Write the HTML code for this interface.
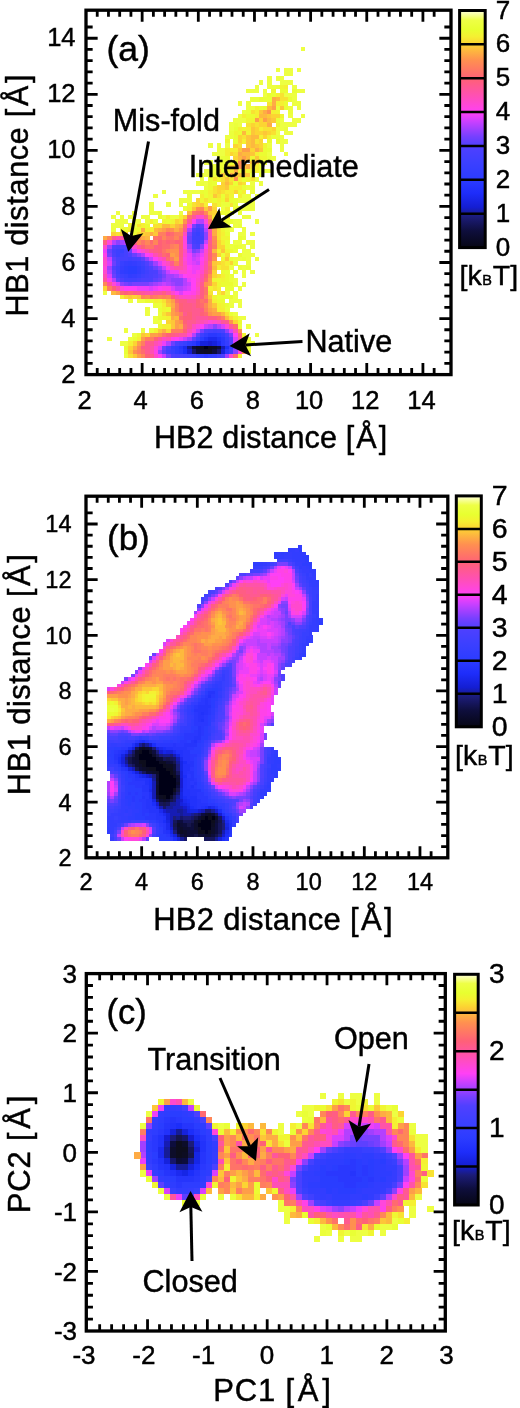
<!DOCTYPE html>
<html lang="en"><head><meta charset="utf-8"><title>Free energy landscapes</title>
<style>html,body{margin:0;padding:0;background:#fff}svg{display:block}text{font-family:'Liberation Sans', sans-serif;fill:#000;stroke:#000;stroke-width:0.45px}</style>
</head><body>
<svg width="520" height="1408" viewBox="0 0 520 1408">
<rect width="520" height="1408" fill="#fff"/>
<defs><linearGradient id="cbg" x1="0" y1="1" x2="0" y2="0">
<stop offset="0" stop-color="#060614"/>
<stop offset="0.07" stop-color="#0e0e3c"/>
<stop offset="0.13" stop-color="#1c1c78"/>
<stop offset="0.17" stop-color="#141ed2"/>
<stop offset="0.23" stop-color="#1e2dfa"/>
<stop offset="0.29" stop-color="#2c3cff"/>
<stop offset="0.36" stop-color="#3c40ff"/>
<stop offset="0.43" stop-color="#5040ff"/>
<stop offset="0.47" stop-color="#7840ff"/>
<stop offset="0.53" stop-color="#c840ff"/>
<stop offset="0.57" stop-color="#ff40f5"/>
<stop offset="0.64" stop-color="#ff50b4"/>
<stop offset="0.71" stop-color="#ff6078"/>
<stop offset="0.79" stop-color="#ff9050"/>
<stop offset="0.86" stop-color="#fcd432"/>
<stop offset="0.89" stop-color="#f5f032"/>
<stop offset="0.92" stop-color="#e8ff30"/>
<stop offset="0.96" stop-color="#eeff46"/>
<stop offset="1" stop-color="#ffffdc"/>
</linearGradient><filter id="bl" x="-5%" y="-5%" width="110%" height="110%"><feGaussianBlur stdDeviation="0.7"/></filter></defs>
<g id="panel-a">
<g shape-rendering="crispEdges" filter="url(#bl)">
<path fill="#060614" d="M203.9 345.2h4.5v4.5h-4.5z"/>
<path fill="#08081c" d="M199.7 345.2h4.5v4.5h-4.5zM208.1 345.2h4.5v4.5h-4.5z"/>
<path fill="#090924" d="M203.9 349.4h8.7v4.5h-8.7zM195.5 345.2h4.5v4.5h-4.5zM212.3 345.2h4.5v4.5h-4.5z"/>
<path fill="#0b0b2c" d="M199.7 349.4h4.5v4.5h-4.5z"/>
<path fill="#0c0c34" d="M195.5 349.4h4.5v4.5h-4.5z"/>
<path fill="#0e0e3c" d="M212.3 349.4h4.5v4.5h-4.5zM191.3 345.2h4.5v4.5h-4.5zM216.6 345.2h4.5v4.5h-4.5z"/>
<path fill="#181869" d="M191.3 349.4h4.5v4.5h-4.5zM216.6 349.4h4.5v4.5h-4.5z"/>
<path fill="#191d96" d="M187.1 345.2h4.5v4.5h-4.5z"/>
<path fill="#171db4" d="M220.8 345.2h4.5v4.5h-4.5z"/>
<path fill="#141ed2" d="M187.1 349.4h4.5v4.5h-4.5zM208.1 341h4.5v4.5h-4.5z"/>
<path fill="#1622dc" d="M220.8 349.4h4.5v4.5h-4.5zM199.7 341h8.7v4.5h-8.7zM212.3 341h4.5v4.5h-4.5z"/>
<path fill="#1c29f0" d="M182.9 345.2h4.5v4.5h-4.5zM216.6 341h4.5v4.5h-4.5zM208.1 336.8h8.7v4.5h-8.7z"/>
<path fill="#1e2dfa" d="M182.9 349.4h4.5v4.5h-4.5zM225 345.2h4.5v4.5h-4.5zM195.5 341h4.5v4.5h-4.5z"/>
<path fill="#2231fb" d="M203.9 336.8h4.5v4.5h-4.5zM216.6 336.8h4.5v4.5h-4.5z"/>
<path fill="#2534fc" d="M178.7 345.2h4.5v4.5h-4.5z"/>
<path fill="#2938fe" d="M203.9 353.6h4.5v4.5h-4.5zM178.7 349.4h4.5v4.5h-4.5zM225 349.4h4.5v4.5h-4.5zM191.3 341h4.5v4.5h-4.5zM220.8 341h4.5v4.5h-4.5zM220.8 336.8h4.5v4.5h-4.5zM208.1 332.6h8.7v4.5h-8.7z"/>
<path fill="#2c3cff" d="M199.7 336.8h4.5v4.5h-4.5zM216.6 332.6h4.5v4.5h-4.5zM128.1 269.5h8.7v4.5h-8.7zM128.1 265.3h8.7v4.5h-8.7z"/>
<path fill="#2f3dff" d="M199.7 353.6h4.5v4.5h-4.5zM208.1 353.6h4.5v4.5h-4.5zM174.4 349.4h4.5v4.5h-4.5zM174.4 345.2h4.5v4.5h-4.5zM187.1 341h4.5v4.5h-4.5zM123.9 269.5h4.5v4.5h-4.5zM123.9 265.3h4.5v4.5h-4.5z"/>
<path fill="#323eff" d="M195.5 353.6h4.5v4.5h-4.5zM212.3 353.6h4.5v4.5h-4.5zM203.9 332.6h4.5v4.5h-4.5zM128.1 273.7h4.5v4.5h-4.5zM119.7 269.5h4.5v4.5h-4.5zM136.5 269.5h4.5v4.5h-4.5zM136.5 265.3h4.5v4.5h-4.5zM128.1 261.1h4.5v4.5h-4.5z"/>
<path fill="#363eff" d="M170.2 345.2h4.5v4.5h-4.5zM229.2 345.2h4.5v4.5h-4.5zM225 341h4.5v4.5h-4.5zM220.8 332.6h4.5v4.5h-4.5zM132.3 273.7h4.5v4.5h-4.5zM119.7 265.3h4.5v4.5h-4.5zM123.9 261.1h4.5v4.5h-4.5zM132.3 261.1h4.5v4.5h-4.5z"/>
<path fill="#393fff" d="M170.2 349.4h4.5v4.5h-4.5zM182.9 341h4.5v4.5h-4.5zM225 336.8h4.5v4.5h-4.5zM123.9 273.7h4.5v4.5h-4.5zM136.5 273.7h4.5v4.5h-4.5zM140.8 269.5h4.5v4.5h-4.5zM140.8 265.3h4.5v4.5h-4.5zM119.7 261.1h4.5v4.5h-4.5zM136.5 261.1h4.5v4.5h-4.5zM119.7 248.5h4.5v4.5h-4.5zM195.5 231.6h4.5v4.5h-4.5z"/>
<path fill="#3c40ff" d="M191.3 353.6h4.5v4.5h-4.5zM216.6 353.6h4.5v4.5h-4.5zM229.2 349.4h4.5v4.5h-4.5zM199.7 332.6h4.5v4.5h-4.5zM119.7 273.7h4.5v4.5h-4.5zM115.5 252.7h4.5v4.5h-4.5zM115.5 248.5h4.5v4.5h-4.5zM191.3 235.8h8.7v4.5h-8.7z"/>
<path fill="#4040ff" d="M187.1 353.6h4.5v4.5h-4.5zM166 349.4h4.5v4.5h-4.5zM178.7 341h4.5v4.5h-4.5zM195.5 336.8h4.5v4.5h-4.5zM212.3 328.3h4.5v4.5h-4.5zM123.9 277.9h12.9v4.5h-12.9zM140.8 273.7h4.5v4.5h-4.5zM115.5 269.5h4.5v4.5h-4.5zM145 269.5h4.5v4.5h-4.5zM115.5 265.3h4.5v4.5h-4.5zM140.8 261.1h4.5v4.5h-4.5zM128.1 256.9h4.5v4.5h-4.5zM119.7 252.7h4.5v4.5h-4.5zM195.5 240.1h4.5v4.5h-4.5zM199.7 235.8h4.5v4.5h-4.5zM191.3 231.6h4.5v4.5h-4.5zM195.5 227.4h4.5v4.5h-4.5z"/>
<path fill="#4440ff" d="M182.9 353.6h4.5v4.5h-4.5zM225 332.6h4.5v4.5h-4.5zM208.1 328.3h4.5v4.5h-4.5zM216.6 328.3h4.5v4.5h-4.5zM136.5 277.9h4.5v4.5h-4.5zM145 273.7h4.5v4.5h-4.5zM145 265.3h4.5v4.5h-4.5zM119.7 256.9h8.7v4.5h-8.7zM132.3 256.9h4.5v4.5h-4.5zM123.9 252.7h4.5v4.5h-4.5zM111.3 248.5h4.5v4.5h-4.5zM123.9 248.5h4.5v4.5h-4.5zM191.3 240.1h4.5v4.5h-4.5zM199.7 231.6h4.5v4.5h-4.5z"/>
<path fill="#4840ff" d="M174.4 353.6h8.7v4.5h-8.7zM166 345.2h4.5v4.5h-4.5zM174.4 341h4.5v4.5h-4.5zM115.5 273.7h4.5v4.5h-4.5zM149.2 273.7h4.5v4.5h-4.5zM149.2 269.5h4.5v4.5h-4.5zM115.5 261.1h4.5v4.5h-4.5zM115.5 256.9h4.5v4.5h-4.5zM136.5 256.9h4.5v4.5h-4.5zM111.3 252.7h4.5v4.5h-4.5zM115.5 244.3h8.7v4.5h-8.7zM195.5 244.3h4.5v4.5h-4.5z"/>
<path fill="#4c40ff" d="M220.8 353.6h4.5v4.5h-4.5zM203.9 328.3h4.5v4.5h-4.5zM220.8 328.3h4.5v4.5h-4.5zM119.7 277.9h4.5v4.5h-4.5zM140.8 277.9h12.9v4.5h-12.9zM153.4 269.5h4.5v4.5h-4.5zM199.7 240.1h4.5v4.5h-4.5zM191.3 227.4h4.5v4.5h-4.5zM199.7 227.4h4.5v4.5h-4.5z"/>
<path fill="#5040ff" d="M170.2 353.6h4.5v4.5h-4.5zM229.2 341h4.5v4.5h-4.5zM229.2 336.8h4.5v4.5h-4.5zM153.4 273.7h4.5v4.5h-4.5zM111.3 265.3h4.5v4.5h-4.5zM149.2 265.3h4.5v4.5h-4.5zM145 261.1h4.5v4.5h-4.5zM128.1 252.7h4.5v4.5h-4.5zM111.3 244.3h4.5v4.5h-4.5zM123.9 244.3h4.5v4.5h-4.5zM191.3 244.3h4.5v4.5h-4.5zM195.5 223.2h4.5v4.5h-4.5z"/>
<path fill="#5d40ff" d="M161.8 349.4h4.5v4.5h-4.5zM191.3 336.8h4.5v4.5h-4.5zM195.5 332.6h4.5v4.5h-4.5zM115.5 277.9h4.5v4.5h-4.5zM153.4 277.9h4.5v4.5h-4.5zM157.6 273.7h4.5v4.5h-4.5zM111.3 269.5h4.5v4.5h-4.5zM111.3 256.9h4.5v4.5h-4.5zM140.8 256.9h4.5v4.5h-4.5zM199.7 223.2h4.5v4.5h-4.5z"/>
<path fill="#6b40ff" d="M161.8 345.2h4.5v4.5h-4.5zM233.4 345.2h4.5v4.5h-4.5zM170.2 341h4.5v4.5h-4.5zM128.1 282.1h4.5v4.5h-4.5zM157.6 277.9h4.5v4.5h-4.5zM111.3 273.7h4.5v4.5h-4.5zM157.6 269.5h4.5v4.5h-4.5zM153.4 265.3h4.5v4.5h-4.5zM111.3 261.1h4.5v4.5h-4.5zM149.2 261.1h4.5v4.5h-4.5zM132.3 252.7h4.5v4.5h-4.5zM107.1 248.5h4.5v4.5h-4.5zM128.1 248.5h4.5v4.5h-4.5zM187.1 240.1h4.5v4.5h-4.5zM187.1 235.8h4.5v4.5h-4.5z"/>
<path fill="#7840ff" d="M166 353.6h4.5v4.5h-4.5zM229.2 332.6h4.5v4.5h-4.5zM199.7 328.3h4.5v4.5h-4.5zM123.9 282.1h4.5v4.5h-4.5zM132.3 282.1h17.1v4.5h-17.1zM161.8 273.7h4.5v4.5h-4.5zM107.1 252.7h4.5v4.5h-4.5zM191.3 248.5h4.5v4.5h-4.5zM187.1 231.6h4.5v4.5h-4.5zM191.3 223.2h4.5v4.5h-4.5z"/>
<path fill="#8c40ff" d="M233.4 349.4h4.5v4.5h-4.5zM225 328.3h4.5v4.5h-4.5zM212.3 324.1h4.5v4.5h-4.5zM119.7 282.1h4.5v4.5h-4.5zM149.2 282.1h4.5v4.5h-4.5zM174.4 282.1h8.7v4.5h-8.7zM161.8 277.9h4.5v4.5h-4.5zM170.2 277.9h12.9v4.5h-12.9zM161.8 269.5h4.5v4.5h-4.5zM157.6 265.3h4.5v4.5h-4.5zM145 256.9h4.5v4.5h-4.5zM136.5 252.7h4.5v4.5h-4.5zM195.5 248.5h4.5v4.5h-4.5zM199.7 244.3h4.5v4.5h-4.5zM115.5 240.1h4.5v4.5h-4.5zM203.9 235.8h4.5v4.5h-4.5zM203.9 231.6h4.5v4.5h-4.5z"/>
<path fill="#a040ff" d="M225 353.6h4.5v4.5h-4.5zM157.6 349.4h4.5v4.5h-4.5zM187.1 336.8h4.5v4.5h-4.5zM153.4 282.1h4.5v4.5h-4.5zM170.2 282.1h4.5v4.5h-4.5zM166 277.9h4.5v4.5h-4.5zM166 273.7h8.7v4.5h-8.7zM107.1 265.3h4.5v4.5h-4.5zM153.4 261.1h4.5v4.5h-4.5zM107.1 244.3h4.5v4.5h-4.5zM128.1 244.3h4.5v4.5h-4.5zM187.1 244.3h4.5v4.5h-4.5zM119.7 240.1h4.5v4.5h-4.5z"/>
<path fill="#b440ff" d="M166 341h4.5v4.5h-4.5zM191.3 332.6h4.5v4.5h-4.5zM208.1 324.1h4.5v4.5h-4.5zM216.6 324.1h4.5v4.5h-4.5zM174.4 286.3h8.7v4.5h-8.7zM157.6 282.1h4.5v4.5h-4.5zM166 282.1h4.5v4.5h-4.5zM182.9 282.1h4.5v4.5h-4.5zM111.3 277.9h4.5v4.5h-4.5zM182.9 277.9h4.5v4.5h-4.5zM174.4 273.7h4.5v4.5h-4.5zM107.1 269.5h4.5v4.5h-4.5zM140.8 252.7h4.5v4.5h-4.5zM191.3 252.7h4.5v4.5h-4.5zM111.3 240.1h4.5v4.5h-4.5zM123.9 240.1h4.5v4.5h-4.5zM187.1 227.4h4.5v4.5h-4.5zM203.9 227.4h4.5v4.5h-4.5zM195.5 219h8.7v4.5h-8.7z"/>
<path fill="#c840ff" d="M161.8 353.6h4.5v4.5h-4.5zM182.9 336.8h4.5v4.5h-4.5zM195.5 328.3h4.5v4.5h-4.5zM203.9 324.1h4.5v4.5h-4.5zM182.9 286.3h4.5v4.5h-4.5zM161.8 282.1h4.5v4.5h-4.5zM187.1 282.1h4.5v4.5h-4.5zM166 269.5h4.5v4.5h-4.5zM161.8 265.3h4.5v4.5h-4.5zM195.5 261.1h4.5v4.5h-4.5zM107.1 256.9h4.5v4.5h-4.5zM149.2 256.9h4.5v4.5h-4.5zM191.3 256.9h4.5v4.5h-4.5zM195.5 252.7h4.5v4.5h-4.5zM187.1 248.5h4.5v4.5h-4.5zM199.7 248.5h4.5v4.5h-4.5zM203.9 240.1h4.5v4.5h-4.5z"/>
<path fill="#da40fc" d="M157.6 345.2h4.5v4.5h-4.5zM233.4 341h4.5v4.5h-4.5zM233.4 336.8h4.5v4.5h-4.5zM229.2 328.3h4.5v4.5h-4.5zM220.8 324.1h4.5v4.5h-4.5zM178.7 290.5h4.5v4.5h-4.5zM149.2 286.3h4.5v4.5h-4.5zM170.2 286.3h4.5v4.5h-4.5zM187.1 286.3h4.5v4.5h-4.5zM115.5 282.1h4.5v4.5h-4.5zM107.1 273.7h4.5v4.5h-4.5zM178.7 273.7h4.5v4.5h-4.5zM107.1 261.1h4.5v4.5h-4.5zM157.6 261.1h4.5v4.5h-4.5zM191.3 261.1h4.5v4.5h-4.5zM195.5 256.9h4.5v4.5h-4.5zM132.3 248.5h4.5v4.5h-4.5zM203.9 223.2h4.5v4.5h-4.5z"/>
<path fill="#ed40f8" d="M161.8 341h4.5v4.5h-4.5zM178.7 336.8h4.5v4.5h-4.5zM136.5 286.3h12.9v4.5h-12.9zM153.4 286.3h4.5v4.5h-4.5zM187.1 277.9h4.5v4.5h-4.5zM170.2 269.5h8.7v4.5h-8.7zM191.3 269.5h4.5v4.5h-4.5zM191.3 265.3h8.7v4.5h-8.7zM187.1 261.1h4.5v4.5h-4.5zM187.1 256.9h4.5v4.5h-4.5zM187.1 252.7h4.5v4.5h-4.5zM199.7 252.7h4.5v4.5h-4.5zM102.8 248.5h4.5v4.5h-4.5z"/>
<path fill="#ff40f5" d="M157.6 353.6h4.5v4.5h-4.5zM174.4 336.8h4.5v4.5h-4.5zM233.4 332.6h4.5v4.5h-4.5zM199.7 324.1h4.5v4.5h-4.5zM174.4 290.5h4.5v4.5h-4.5zM182.9 290.5h8.7v4.5h-8.7zM123.9 286.3h12.9v4.5h-12.9zM157.6 286.3h4.5v4.5h-4.5zM191.3 286.3h4.5v4.5h-4.5zM191.3 282.1h4.5v4.5h-4.5zM191.3 277.9h4.5v4.5h-4.5zM182.9 273.7h4.5v4.5h-4.5zM187.1 265.3h4.5v4.5h-4.5zM153.4 256.9h4.5v4.5h-4.5zM199.7 256.9h4.5v4.5h-4.5zM145 252.7h4.5v4.5h-4.5zM203.9 244.3h4.5v4.5h-4.5zM191.3 219h4.5v4.5h-4.5z"/>
<path fill="#ff43e8" d="M153.4 349.4h4.5v4.5h-4.5zM237.6 345.2h4.5v4.5h-4.5zM170.2 336.8h4.5v4.5h-4.5zM191.3 290.5h4.5v4.5h-4.5zM161.8 286.3h8.7v4.5h-8.7zM107.1 277.9h4.5v4.5h-4.5zM187.1 273.7h8.7v4.5h-8.7zM187.1 269.5h4.5v4.5h-4.5zM195.5 269.5h4.5v4.5h-4.5zM166 265.3h4.5v4.5h-4.5zM199.7 261.1h4.5v4.5h-4.5zM102.8 252.7h4.5v4.5h-4.5zM149.2 252.7h4.5v4.5h-4.5zM136.5 248.5h4.5v4.5h-4.5zM182.9 235.8h4.5v4.5h-4.5zM187.1 223.2h4.5v4.5h-4.5z"/>
<path fill="#ff46db" d="M237.6 349.4h4.5v4.5h-4.5zM153.4 345.2h4.5v4.5h-4.5zM187.1 332.6h4.5v4.5h-4.5zM191.3 328.3h4.5v4.5h-4.5zM195.5 324.1h4.5v4.5h-4.5zM225 324.1h4.5v4.5h-4.5zM208.1 319.9h4.5v4.5h-4.5zM119.7 286.3h4.5v4.5h-4.5zM111.3 282.1h4.5v4.5h-4.5zM195.5 273.7h4.5v4.5h-4.5zM102.8 265.3h4.5v4.5h-4.5zM199.7 265.3h4.5v4.5h-4.5zM161.8 261.1h4.5v4.5h-4.5zM182.9 256.9h4.5v4.5h-4.5zM182.9 244.3h4.5v4.5h-4.5zM107.1 240.1h4.5v4.5h-4.5zM128.1 240.1h4.5v4.5h-4.5zM182.9 240.1h4.5v4.5h-4.5zM203.9 219h4.5v4.5h-4.5z"/>
<path fill="#ff4ace" d="M153.4 353.6h4.5v4.5h-4.5zM229.2 353.6h4.5v4.5h-4.5zM157.6 341h4.5v4.5h-4.5zM212.3 319.9h4.5v4.5h-4.5zM182.9 294.7h8.7v4.5h-8.7zM170.2 290.5h4.5v4.5h-4.5zM195.5 286.3h4.5v4.5h-4.5zM195.5 277.9h4.5v4.5h-4.5zM102.8 269.5h4.5v4.5h-4.5zM178.7 269.5h8.7v4.5h-8.7zM199.7 269.5h4.5v4.5h-4.5zM102.8 261.1h4.5v4.5h-4.5zM182.9 261.1h4.5v4.5h-4.5zM102.8 256.9h4.5v4.5h-4.5zM157.6 256.9h4.5v4.5h-4.5zM182.9 252.7h4.5v4.5h-4.5zM140.8 248.5h4.5v4.5h-4.5zM203.9 248.5h4.5v4.5h-4.5zM102.8 244.3h4.5v4.5h-4.5zM132.3 244.3h4.5v4.5h-4.5zM195.5 214.8h8.7v4.5h-8.7z"/>
<path fill="#ff4dc1" d="M161.8 336.8h4.5v4.5h-4.5zM191.3 324.1h4.5v4.5h-4.5zM203.9 319.9h4.5v4.5h-4.5zM216.6 319.9h4.5v4.5h-4.5zM178.7 294.7h4.5v4.5h-4.5zM191.3 294.7h4.5v4.5h-4.5zM195.5 290.5h4.5v4.5h-4.5zM195.5 282.1h4.5v4.5h-4.5zM170.2 265.3h4.5v4.5h-4.5zM182.9 265.3h4.5v4.5h-4.5zM166 261.1h4.5v4.5h-4.5zM203.9 256.9h4.5v4.5h-4.5zM203.9 252.7h4.5v4.5h-4.5zM182.9 248.5h4.5v4.5h-4.5zM182.9 231.6h4.5v4.5h-4.5z"/>
<path fill="#ff50b4" d="M149.2 349.4h4.5v4.5h-4.5zM153.4 341h4.5v4.5h-4.5zM166 336.8h4.5v4.5h-4.5zM187.1 328.3h4.5v4.5h-4.5zM233.4 328.3h4.5v4.5h-4.5zM199.7 319.9h4.5v4.5h-4.5zM149.2 290.5h4.5v4.5h-4.5zM102.8 273.7h4.5v4.5h-4.5zM199.7 273.7h4.5v4.5h-4.5zM203.9 261.1h4.5v4.5h-4.5zM161.8 256.9h4.5v4.5h-4.5zM153.4 252.7h4.5v4.5h-4.5zM145 248.5h4.5v4.5h-4.5zM115.5 235.8h4.5v4.5h-4.5zM208.1 235.8h4.5v4.5h-4.5z"/>
<path fill="#ff53a8" d="M149.2 345.2h4.5v4.5h-4.5zM178.7 332.6h8.7v4.5h-8.7zM195.5 319.9h4.5v4.5h-4.5zM174.4 294.7h4.5v4.5h-4.5zM145 290.5h4.5v4.5h-4.5zM166 290.5h4.5v4.5h-4.5zM115.5 286.3h4.5v4.5h-4.5zM199.7 277.9h4.5v4.5h-4.5zM174.4 265.3h8.7v4.5h-8.7zM203.9 265.3h4.5v4.5h-4.5zM119.7 235.8h4.5v4.5h-4.5zM208.1 231.6h4.5v4.5h-4.5zM208.1 227.4h4.5v4.5h-4.5z"/>
<path fill="#ff569c" d="M157.6 336.8h4.5v4.5h-4.5zM229.2 324.1h4.5v4.5h-4.5zM220.8 319.9h4.5v4.5h-4.5zM195.5 315.7h12.9v4.5h-12.9zM187.1 298.9h8.7v4.5h-8.7zM195.5 294.7h4.5v4.5h-4.5zM140.8 290.5h4.5v4.5h-4.5zM153.4 290.5h8.7v4.5h-8.7zM107.1 282.1h4.5v4.5h-4.5zM102.8 277.9h4.5v4.5h-4.5zM136.5 244.3h4.5v4.5h-4.5zM123.9 235.8h4.5v4.5h-4.5zM208.1 223.2h4.5v4.5h-4.5zM187.1 219h4.5v4.5h-4.5zM191.3 214.8h4.5v4.5h-4.5z"/>
<path fill="#ff5a90" d="M149.2 353.6h4.5v4.5h-4.5zM145 349.4h4.5v4.5h-4.5zM145 345.2h4.5v4.5h-4.5zM145 341h8.7v4.5h-8.7zM237.6 341h4.5v4.5h-4.5zM237.6 336.8h4.5v4.5h-4.5zM174.4 332.6h4.5v4.5h-4.5zM187.1 324.1h4.5v4.5h-4.5zM187.1 319.9h8.7v4.5h-8.7zM225 319.9h4.5v4.5h-4.5zM191.3 315.7h4.5v4.5h-4.5zM182.9 311.5h4.5v4.5h-4.5zM191.3 311.5h8.7v4.5h-8.7zM191.3 307.3h8.7v4.5h-8.7zM191.3 303.1h4.5v4.5h-4.5zM136.5 290.5h4.5v4.5h-4.5zM199.7 282.1h4.5v4.5h-4.5zM203.9 269.5h4.5v4.5h-4.5zM170.2 261.1h4.5v4.5h-4.5zM178.7 261.1h4.5v4.5h-4.5zM178.7 256.9h4.5v4.5h-4.5zM157.6 252.7h4.5v4.5h-4.5zM149.2 248.5h4.5v4.5h-4.5zM208.1 240.1h4.5v4.5h-4.5zM111.3 235.8h4.5v4.5h-4.5zM182.9 227.4h4.5v4.5h-4.5zM203.9 214.8h4.5v4.5h-4.5z"/>
<path fill="#ff5d84" d="M140.8 345.2h4.5v4.5h-4.5zM170.2 332.6h4.5v4.5h-4.5zM208.1 315.7h8.7v4.5h-8.7zM182.9 307.3h8.7v4.5h-8.7zM199.7 307.3h4.5v4.5h-4.5zM182.9 303.1h8.7v4.5h-8.7zM178.7 298.9h8.7v4.5h-8.7zM199.7 294.7h4.5v4.5h-4.5zM132.3 290.5h4.5v4.5h-4.5zM161.8 290.5h4.5v4.5h-4.5zM199.7 290.5h4.5v4.5h-4.5zM199.7 286.3h4.5v4.5h-4.5zM178.7 252.7h4.5v4.5h-4.5zM153.4 248.5h4.5v4.5h-4.5zM178.7 248.5h4.5v4.5h-4.5zM208.1 248.5h4.5v4.5h-4.5zM153.4 244.3h4.5v4.5h-4.5zM208.1 244.3h4.5v4.5h-4.5zM102.8 240.1h4.5v4.5h-4.5zM132.3 240.1h4.5v4.5h-4.5z"/>
<path fill="#ff6078" d="M145 353.6h4.5v4.5h-4.5zM153.4 336.8h4.5v4.5h-4.5zM166 332.6h4.5v4.5h-4.5zM237.6 332.6h4.5v4.5h-4.5zM182.9 328.3h4.5v4.5h-4.5zM182.9 319.9h4.5v4.5h-4.5zM182.9 315.7h8.7v4.5h-8.7zM187.1 311.5h4.5v4.5h-4.5zM199.7 311.5h4.5v4.5h-4.5zM178.7 307.3h4.5v4.5h-4.5zM178.7 303.1h4.5v4.5h-4.5zM195.5 303.1h4.5v4.5h-4.5zM195.5 298.9h4.5v4.5h-4.5zM170.2 294.7h4.5v4.5h-4.5zM123.9 290.5h4.5v4.5h-4.5zM111.3 286.3h4.5v4.5h-4.5zM203.9 273.7h4.5v4.5h-4.5zM208.1 256.9h4.5v4.5h-4.5zM166 252.7h4.5v4.5h-4.5zM208.1 252.7h4.5v4.5h-4.5zM157.6 248.5h4.5v4.5h-4.5zM140.8 244.3h4.5v4.5h-4.5zM157.6 244.3h4.5v4.5h-4.5zM178.7 244.3h4.5v4.5h-4.5zM157.6 240.1h4.5v4.5h-4.5zM166 240.1h4.5v4.5h-4.5zM174.4 240.1h8.7v4.5h-8.7zM166 231.6h4.5v4.5h-4.5zM199.7 210.6h4.5v4.5h-4.5z"/>
<path fill="#ff6a70" d="M233.4 353.6h4.5v4.5h-4.5zM140.8 349.4h4.5v4.5h-4.5zM182.9 324.1h4.5v4.5h-4.5zM233.4 324.1h4.5v4.5h-4.5zM178.7 315.7h4.5v4.5h-4.5zM216.6 315.7h4.5v4.5h-4.5zM203.9 311.5h4.5v4.5h-4.5zM199.7 303.1h4.5v4.5h-4.5zM174.4 298.9h4.5v4.5h-4.5zM203.9 298.9h4.5v4.5h-4.5zM119.7 290.5h4.5v4.5h-4.5zM128.1 290.5h4.5v4.5h-4.5zM203.9 277.9h4.5v4.5h-4.5zM208.1 265.3h4.5v4.5h-4.5zM166 256.9h4.5v4.5h-4.5zM161.8 252.7h4.5v4.5h-4.5zM161.8 244.3h8.7v4.5h-8.7zM149.2 240.1h4.5v4.5h-4.5zM161.8 240.1h4.5v4.5h-4.5zM170.2 240.1h4.5v4.5h-4.5zM157.6 235.8h4.5v4.5h-4.5zM178.7 235.8h4.5v4.5h-4.5zM170.2 231.6h4.5v4.5h-4.5zM182.9 223.2h4.5v4.5h-4.5zM195.5 210.6h4.5v4.5h-4.5z"/>
<path fill="#ff7368" d="M241.8 345.2h4.5v4.5h-4.5zM161.8 332.6h4.5v4.5h-4.5zM199.7 298.9h4.5v4.5h-4.5zM149.2 294.7h4.5v4.5h-4.5zM203.9 290.5h4.5v4.5h-4.5zM203.9 286.3h4.5v4.5h-4.5zM208.1 269.5h4.5v4.5h-4.5zM208.1 261.1h4.5v4.5h-4.5zM161.8 248.5h4.5v4.5h-4.5zM145 244.3h8.7v4.5h-8.7zM140.8 240.1h4.5v4.5h-4.5zM153.4 235.8h4.5v4.5h-4.5zM166 235.8h8.7v4.5h-8.7zM208.1 219h4.5v4.5h-4.5zM187.1 214.8h4.5v4.5h-4.5zM191.3 210.6h4.5v4.5h-4.5z"/>
<path fill="#ff7d60" d="M136.5 349.4h4.5v4.5h-4.5zM140.8 341h4.5v4.5h-4.5zM145 336.8h8.7v4.5h-8.7zM170.2 328.3h12.9v4.5h-12.9zM220.8 315.7h4.5v4.5h-4.5zM178.7 311.5h4.5v4.5h-4.5zM174.4 307.3h4.5v4.5h-4.5zM203.9 307.3h4.5v4.5h-4.5zM174.4 303.1h4.5v4.5h-4.5zM153.4 294.7h4.5v4.5h-4.5zM161.8 294.7h4.5v4.5h-4.5zM107.1 286.3h4.5v4.5h-4.5zM174.4 261.1h4.5v4.5h-4.5zM170.2 256.9h4.5v4.5h-4.5zM170.2 244.3h4.5v4.5h-4.5zM212.3 244.3h4.5v4.5h-4.5zM128.1 235.8h4.5v4.5h-4.5zM157.6 231.6h8.7v4.5h-8.7zM174.4 231.6h8.7v4.5h-8.7z"/>
<path fill="#ff8658" d="M140.8 353.6h4.5v4.5h-4.5zM241.8 349.4h4.5v4.5h-4.5zM136.5 345.2h4.5v4.5h-4.5zM203.9 303.1h4.5v4.5h-4.5zM140.8 294.7h4.5v4.5h-4.5zM157.6 294.7h4.5v4.5h-4.5zM166 294.7h4.5v4.5h-4.5zM203.9 294.7h4.5v4.5h-4.5zM102.8 282.1h4.5v4.5h-4.5zM212.3 252.7h4.5v4.5h-4.5zM166 248.5h4.5v4.5h-4.5zM174.4 244.3h4.5v4.5h-4.5zM136.5 240.1h4.5v4.5h-4.5zM145 240.1h4.5v4.5h-4.5zM153.4 240.1h4.5v4.5h-4.5zM212.3 240.1h4.5v4.5h-4.5zM107.1 235.8h4.5v4.5h-4.5zM132.3 235.8h4.5v4.5h-4.5zM161.8 235.8h4.5v4.5h-4.5zM174.4 235.8h4.5v4.5h-4.5zM166 227.4h4.5v4.5h-4.5zM203.9 210.6h4.5v4.5h-4.5zM199.7 206.4h4.5v4.5h-4.5zM237.6 160.2h4.5v4.5h-4.5z"/>
<path fill="#ff9050" d="M132.3 349.4h4.5v4.5h-4.5zM157.6 332.6h4.5v4.5h-4.5zM237.6 328.3h4.5v4.5h-4.5zM178.7 319.9h4.5v4.5h-4.5zM229.2 319.9h4.5v4.5h-4.5zM174.4 311.5h4.5v4.5h-4.5zM208.1 311.5h4.5v4.5h-4.5zM145 294.7h4.5v4.5h-4.5zM203.9 282.1h4.5v4.5h-4.5zM208.1 273.7h4.5v4.5h-4.5zM212.3 256.9h4.5v4.5h-4.5zM174.4 252.7h4.5v4.5h-4.5zM170.2 248.5h8.7v4.5h-8.7zM136.5 235.8h4.5v4.5h-4.5zM212.3 235.8h4.5v4.5h-4.5zM170.2 227.4h4.5v4.5h-4.5zM178.7 227.4h4.5v4.5h-4.5zM182.9 219h4.5v4.5h-4.5zM195.5 206.4h4.5v4.5h-4.5zM233.4 177h4.5v4.5h-4.5zM237.6 164.4h4.5v4.5h-4.5zM267.1 109.7h4.5v4.5h-4.5z"/>
<path fill="#fe9e4a" d="M136.5 353.6h4.5v4.5h-4.5zM136.5 341h4.5v4.5h-4.5zM140.8 336.8h4.5v4.5h-4.5zM149.2 332.6h8.7v4.5h-8.7zM174.4 324.1h4.5v4.5h-4.5zM174.4 319.9h4.5v4.5h-4.5zM170.2 311.5h4.5v4.5h-4.5zM212.3 311.5h8.7v4.5h-8.7zM170.2 307.3h4.5v4.5h-4.5zM208.1 307.3h4.5v4.5h-4.5zM170.2 298.9h4.5v4.5h-4.5zM115.5 290.5h4.5v4.5h-4.5zM208.1 282.1h4.5v4.5h-4.5zM208.1 277.9h4.5v4.5h-4.5zM174.4 256.9h4.5v4.5h-4.5zM170.2 252.7h4.5v4.5h-4.5zM161.8 227.4h4.5v4.5h-4.5zM208.1 214.8h4.5v4.5h-4.5zM208.1 206.4h4.5v4.5h-4.5zM241.8 160.2h4.5v4.5h-4.5zM241.8 156h4.5v4.5h-4.5zM241.8 147.6h8.7v4.5h-8.7zM254.5 118.1h4.5v4.5h-4.5zM262.9 118.1h4.5v4.5h-4.5zM271.3 105.5h4.5v4.5h-4.5z"/>
<path fill="#feab44" d="M132.3 345.2h4.5v4.5h-4.5zM161.8 328.3h4.5v4.5h-4.5zM178.7 324.1h4.5v4.5h-4.5zM170.2 315.7h4.5v4.5h-4.5zM212.3 307.3h4.5v4.5h-4.5zM170.2 303.1h4.5v4.5h-4.5zM208.1 303.1h4.5v4.5h-4.5zM208.1 298.9h4.5v4.5h-4.5zM102.8 235.8h4.5v4.5h-4.5zM140.8 235.8h4.5v4.5h-4.5zM149.2 231.6h4.5v4.5h-4.5zM212.3 231.6h4.5v4.5h-4.5zM140.8 227.4h4.5v4.5h-4.5zM157.6 227.4h4.5v4.5h-4.5zM174.4 227.4h4.5v4.5h-4.5zM212.3 227.4h4.5v4.5h-4.5zM178.7 223.2h4.5v4.5h-4.5zM229.2 172.8h4.5v4.5h-4.5zM233.4 168.6h4.5v4.5h-4.5zM246 164.4h4.5v4.5h-4.5zM237.6 151.8h4.5v4.5h-4.5zM254.5 147.6h4.5v4.5h-4.5zM267.1 122.3h4.5v4.5h-4.5zM262.9 109.7h4.5v4.5h-4.5zM271.3 101.3h4.5v4.5h-4.5zM271.3 97.1h4.5v4.5h-4.5z"/>
<path fill="#fdb93e" d="M241.8 341h4.5v4.5h-4.5zM174.4 315.7h4.5v4.5h-4.5zM225 315.7h4.5v4.5h-4.5zM220.8 311.5h4.5v4.5h-4.5zM166 298.9h4.5v4.5h-4.5zM111.3 290.5h4.5v4.5h-4.5zM212.3 265.3h4.5v4.5h-4.5zM212.3 248.5h4.5v4.5h-4.5zM145 235.8h4.5v4.5h-4.5zM153.4 227.4h4.5v4.5h-4.5zM161.8 223.2h8.7v4.5h-8.7zM174.4 223.2h4.5v4.5h-4.5zM187.1 210.6h4.5v4.5h-4.5zM225 181.2h4.5v4.5h-4.5zM241.8 172.8h4.5v4.5h-4.5zM254.5 160.2h4.5v4.5h-4.5zM237.6 156h4.5v4.5h-4.5zM246 156h4.5v4.5h-4.5zM241.8 151.8h8.7v4.5h-8.7zM250.2 143.3h4.5v4.5h-4.5zM250.2 139.1h4.5v4.5h-4.5zM250.2 134.9h8.7v4.5h-8.7zM241.8 130.7h4.5v4.5h-4.5zM267.1 118.1h4.5v4.5h-4.5zM258.7 113.9h8.7v4.5h-8.7zM267.1 105.5h4.5v4.5h-4.5zM275.5 97.1h4.5v4.5h-4.5z"/>
<path fill="#fdc638" d="M132.3 353.6h4.5v4.5h-4.5zM128.1 349.4h4.5v4.5h-4.5zM241.8 336.8h4.5v4.5h-4.5zM140.8 332.6h4.5v4.5h-4.5zM157.6 328.3h4.5v4.5h-4.5zM170.2 324.1h4.5v4.5h-4.5zM170.2 319.9h4.5v4.5h-4.5zM166 311.5h4.5v4.5h-4.5zM166 303.1h4.5v4.5h-4.5zM212.3 303.1h4.5v4.5h-4.5zM128.1 294.7h4.5v4.5h-4.5zM136.5 294.7h4.5v4.5h-4.5zM208.1 294.7h4.5v4.5h-4.5zM212.3 261.1h4.5v4.5h-4.5zM225 256.9h4.5v4.5h-4.5zM220.8 248.5h4.5v4.5h-4.5zM119.7 231.6h4.5v4.5h-4.5zM145 231.6h4.5v4.5h-4.5zM153.4 231.6h4.5v4.5h-4.5zM208.1 210.6h4.5v4.5h-4.5zM191.3 206.4h4.5v4.5h-4.5zM203.9 206.4h4.5v4.5h-4.5zM199.7 202.2h4.5v4.5h-4.5zM212.3 193.8h4.5v4.5h-4.5zM225 185.4h4.5v4.5h-4.5zM225 177h4.5v4.5h-4.5zM220.8 172.8h4.5v4.5h-4.5zM233.4 172.8h8.7v4.5h-8.7zM246 172.8h4.5v4.5h-4.5zM233.4 164.4h4.5v4.5h-4.5zM241.8 164.4h4.5v4.5h-4.5zM250.2 160.2h4.5v4.5h-4.5zM254.5 156h4.5v4.5h-4.5zM250.2 151.8h4.5v4.5h-4.5zM237.6 147.6h4.5v4.5h-4.5zM258.7 147.6h4.5v4.5h-4.5zM246 143.3h4.5v4.5h-4.5zM254.5 143.3h4.5v4.5h-4.5zM246 139.1h4.5v4.5h-4.5zM246 134.9h4.5v4.5h-4.5zM250.2 130.7h4.5v4.5h-4.5zM262.9 130.7h4.5v4.5h-4.5zM250.2 126.5h4.5v4.5h-4.5zM271.3 118.1h4.5v4.5h-4.5zM267.1 113.9h4.5v4.5h-4.5zM258.7 109.7h4.5v4.5h-4.5zM279.7 105.5h4.5v4.5h-4.5z"/>
<path fill="#fcd432" d="M128.1 345.2h4.5v4.5h-4.5zM132.3 341h4.5v4.5h-4.5zM145 332.6h4.5v4.5h-4.5zM166 328.3h4.5v4.5h-4.5zM166 319.9h4.5v4.5h-4.5zM233.4 319.9h4.5v4.5h-4.5zM123.9 294.7h4.5v4.5h-4.5zM132.3 294.7h4.5v4.5h-4.5zM220.8 290.5h4.5v4.5h-4.5zM102.8 286.3h4.5v4.5h-4.5zM212.3 282.1h4.5v4.5h-4.5zM212.3 273.7h4.5v4.5h-4.5zM212.3 269.5h4.5v4.5h-4.5zM216.6 261.1h4.5v4.5h-4.5zM229.2 261.1h4.5v4.5h-4.5zM216.6 252.7h4.5v4.5h-4.5zM216.6 244.3h8.7v4.5h-8.7zM216.6 240.1h4.5v4.5h-4.5zM111.3 231.6h4.5v4.5h-4.5zM123.9 231.6h4.5v4.5h-4.5zM140.8 231.6h4.5v4.5h-4.5zM170.2 223.2h4.5v4.5h-4.5zM212.3 223.2h4.5v4.5h-4.5zM174.4 219h4.5v4.5h-4.5zM182.9 214.8h4.5v4.5h-4.5zM212.3 210.6h4.5v4.5h-4.5zM212.3 206.4h4.5v4.5h-4.5zM195.5 202.2h4.5v4.5h-4.5zM195.5 198h4.5v4.5h-4.5zM225 198h4.5v4.5h-4.5zM216.6 189.6h4.5v4.5h-4.5zM233.4 189.6h4.5v4.5h-4.5zM216.6 185.4h8.7v4.5h-8.7zM220.8 181.2h4.5v4.5h-4.5zM229.2 181.2h4.5v4.5h-4.5zM237.6 181.2h4.5v4.5h-4.5zM216.6 168.6h4.5v4.5h-4.5zM241.8 168.6h4.5v4.5h-4.5zM229.2 164.4h4.5v4.5h-4.5zM233.4 156h4.5v4.5h-4.5zM229.2 151.8h4.5v4.5h-4.5zM250.2 147.6h4.5v4.5h-4.5zM233.4 143.3h4.5v4.5h-4.5zM258.7 143.3h4.5v4.5h-4.5zM237.6 139.1h4.5v4.5h-4.5zM258.7 139.1h4.5v4.5h-4.5zM237.6 134.9h4.5v4.5h-4.5zM262.9 134.9h4.5v4.5h-4.5zM254.5 130.7h8.7v4.5h-8.7zM267.1 130.7h4.5v4.5h-4.5zM254.5 126.5h4.5v4.5h-4.5zM271.3 126.5h4.5v4.5h-4.5zM250.2 122.3h4.5v4.5h-4.5zM258.7 122.3h8.7v4.5h-8.7zM258.7 118.1h4.5v4.5h-4.5zM271.3 113.9h8.7v4.5h-8.7z"/>
<path fill="#f8e232" d="M128.1 353.6h4.5v4.5h-4.5zM229.2 315.7h4.5v4.5h-4.5zM161.8 311.5h4.5v4.5h-4.5zM225 311.5h4.5v4.5h-4.5zM161.8 298.9h4.5v4.5h-4.5zM208.1 290.5h4.5v4.5h-4.5zM212.3 286.3h4.5v4.5h-4.5zM216.6 273.7h4.5v4.5h-4.5zM220.8 265.3h8.7v4.5h-8.7zM220.8 261.1h4.5v4.5h-4.5zM225 252.7h4.5v4.5h-4.5zM216.6 235.8h4.5v4.5h-4.5zM115.5 231.6h4.5v4.5h-4.5zM136.5 231.6h4.5v4.5h-4.5zM216.6 231.6h4.5v4.5h-4.5zM216.6 227.4h4.5v4.5h-4.5zM136.5 223.2h4.5v4.5h-4.5zM153.4 223.2h8.7v4.5h-8.7zM178.7 219h4.5v4.5h-4.5zM212.3 219h4.5v4.5h-4.5zM212.3 214.8h4.5v4.5h-4.5zM191.3 202.2h4.5v4.5h-4.5zM212.3 202.2h4.5v4.5h-4.5zM229.2 202.2h4.5v4.5h-4.5zM203.9 198h4.5v4.5h-4.5zM216.6 193.8h4.5v4.5h-4.5zM225 193.8h4.5v4.5h-4.5zM212.3 189.6h4.5v4.5h-4.5zM220.8 189.6h4.5v4.5h-4.5zM212.3 185.4h4.5v4.5h-4.5zM241.8 181.2h4.5v4.5h-4.5zM212.3 177h4.5v4.5h-4.5zM220.8 177h4.5v4.5h-4.5zM229.2 177h4.5v4.5h-4.5zM250.2 177h4.5v4.5h-4.5zM229.2 168.6h4.5v4.5h-4.5zM225 164.4h4.5v4.5h-4.5zM250.2 164.4h4.5v4.5h-4.5zM233.4 151.8h4.5v4.5h-4.5zM237.6 143.3h4.5v4.5h-4.5zM254.5 139.1h4.5v4.5h-4.5zM241.8 134.9h4.5v4.5h-4.5zM271.3 130.7h4.5v4.5h-4.5zM262.9 126.5h8.7v4.5h-8.7zM246 122.3h4.5v4.5h-4.5zM254.5 122.3h4.5v4.5h-4.5zM250.2 109.7h4.5v4.5h-4.5zM267.1 101.3h4.5v4.5h-4.5zM279.7 97.1h8.7v4.5h-8.7zM279.7 92.9h4.5v4.5h-4.5z"/>
<path fill="#f5f032" d="M237.6 353.6h4.5v4.5h-4.5zM128.1 341h4.5v4.5h-4.5zM136.5 336.8h4.5v4.5h-4.5zM153.4 328.3h4.5v4.5h-4.5zM161.8 324.1h8.7v4.5h-8.7zM166 315.7h4.5v4.5h-4.5zM216.6 307.3h8.7v4.5h-8.7zM161.8 303.1h4.5v4.5h-4.5zM216.6 303.1h4.5v4.5h-4.5zM153.4 298.9h4.5v4.5h-4.5zM212.3 298.9h4.5v4.5h-4.5zM119.7 294.7h4.5v4.5h-4.5zM216.6 290.5h4.5v4.5h-4.5zM208.1 286.3h4.5v4.5h-4.5zM216.6 286.3h4.5v4.5h-4.5zM220.8 273.7h4.5v4.5h-4.5zM216.6 265.3h4.5v4.5h-4.5zM225 261.1h4.5v4.5h-4.5zM216.6 248.5h4.5v4.5h-4.5zM220.8 240.1h4.5v4.5h-4.5zM220.8 231.6h4.5v4.5h-4.5zM128.1 227.4h4.5v4.5h-4.5zM145 227.4h8.7v4.5h-8.7zM140.8 223.2h4.5v4.5h-4.5zM149.2 219h4.5v4.5h-4.5zM220.8 219h4.5v4.5h-4.5zM166 214.8h4.5v4.5h-4.5zM178.7 214.8h4.5v4.5h-4.5zM225 214.8h4.5v4.5h-4.5zM216.6 210.6h4.5v4.5h-4.5zM225 206.4h4.5v4.5h-4.5zM203.9 202.2h4.5v4.5h-4.5zM216.6 198h4.5v4.5h-4.5zM199.7 193.8h4.5v4.5h-4.5zM237.6 193.8h4.5v4.5h-4.5zM208.1 189.6h4.5v4.5h-4.5zM225 189.6h8.7v4.5h-8.7zM241.8 189.6h4.5v4.5h-4.5zM233.4 185.4h8.7v4.5h-8.7zM237.6 177h4.5v4.5h-4.5zM225 168.6h4.5v4.5h-4.5zM254.5 168.6h4.5v4.5h-4.5zM254.5 164.4h4.5v4.5h-4.5zM233.4 160.2h4.5v4.5h-4.5zM225 151.8h4.5v4.5h-4.5zM254.5 151.8h4.5v4.5h-4.5zM225 147.6h12.9v4.5h-12.9zM241.8 139.1h4.5v4.5h-4.5zM258.7 134.9h4.5v4.5h-4.5zM267.1 134.9h4.5v4.5h-4.5zM237.6 126.5h4.5v4.5h-4.5zM246 126.5h4.5v4.5h-4.5zM258.7 126.5h4.5v4.5h-4.5zM241.8 113.9h4.5v4.5h-4.5zM254.5 113.9h4.5v4.5h-4.5zM254.5 109.7h4.5v4.5h-4.5zM271.3 109.7h4.5v4.5h-4.5zM275.5 101.3h8.7v4.5h-8.7zM275.5 92.9h4.5v4.5h-4.5zM283.9 84.5h4.5v4.5h-4.5z"/>
<path fill="#f0f631" d="M241.8 332.6h4.5v4.5h-4.5zM161.8 315.7h4.5v4.5h-4.5zM233.4 315.7h4.5v4.5h-4.5zM161.8 307.3h4.5v4.5h-4.5zM220.8 303.1h4.5v4.5h-4.5zM157.6 298.9h4.5v4.5h-4.5zM212.3 294.7h4.5v4.5h-4.5zM216.6 282.1h4.5v4.5h-4.5zM212.3 277.9h4.5v4.5h-4.5zM220.8 277.9h4.5v4.5h-4.5zM220.8 256.9h4.5v4.5h-4.5zM225 248.5h4.5v4.5h-4.5zM220.8 235.8h8.7v4.5h-8.7zM119.7 227.4h4.5v4.5h-4.5zM220.8 227.4h4.5v4.5h-4.5zM128.1 223.2h4.5v4.5h-4.5zM161.8 219h4.5v4.5h-4.5zM170.2 219h4.5v4.5h-4.5zM216.6 214.8h4.5v4.5h-4.5zM187.1 206.4h4.5v4.5h-4.5zM216.6 202.2h4.5v4.5h-4.5zM199.7 198h4.5v4.5h-4.5zM208.1 198h4.5v4.5h-4.5zM208.1 193.8h4.5v4.5h-4.5zM229.2 193.8h4.5v4.5h-4.5zM229.2 185.4h4.5v4.5h-4.5zM216.6 177h4.5v4.5h-4.5zM246 177h4.5v4.5h-4.5zM237.6 168.6h4.5v4.5h-4.5zM246 168.6h8.7v4.5h-8.7zM250.2 156h4.5v4.5h-4.5zM258.7 156h8.7v4.5h-8.7zM262.9 143.3h4.5v4.5h-4.5zM225 139.1h4.5v4.5h-4.5zM233.4 130.7h4.5v4.5h-4.5zM246 130.7h4.5v4.5h-4.5zM241.8 126.5h4.5v4.5h-4.5zM275.5 122.3h4.5v4.5h-4.5zM246 118.1h8.7v4.5h-8.7zM279.7 113.9h4.5v4.5h-4.5zM275.5 109.7h4.5v4.5h-4.5zM254.5 105.5h4.5v4.5h-4.5zM271.3 88.7h4.5v4.5h-4.5zM279.7 84.5h4.5v4.5h-4.5z"/>
<path fill="#ebfc30" d="M123.9 345.2h4.5v4.5h-4.5zM136.5 332.6h4.5v4.5h-4.5zM157.6 324.1h4.5v4.5h-4.5zM237.6 319.9h4.5v4.5h-4.5zM157.6 315.7h4.5v4.5h-4.5zM166 307.3h4.5v4.5h-4.5zM145 298.9h8.7v4.5h-8.7zM216.6 298.9h8.7v4.5h-8.7zM229.2 294.7h4.5v4.5h-4.5zM220.8 282.1h12.9v4.5h-12.9zM216.6 277.9h4.5v4.5h-4.5zM225 277.9h4.5v4.5h-4.5zM225 273.7h4.5v4.5h-4.5zM220.8 269.5h4.5v4.5h-4.5zM237.6 252.7h4.5v4.5h-4.5zM229.2 248.5h4.5v4.5h-4.5zM132.3 231.6h4.5v4.5h-4.5zM123.9 227.4h4.5v4.5h-4.5zM132.3 227.4h8.7v4.5h-8.7zM145 223.2h4.5v4.5h-4.5zM166 219h4.5v4.5h-4.5zM225 219h4.5v4.5h-4.5zM157.6 214.8h4.5v4.5h-4.5zM220.8 210.6h8.7v4.5h-8.7zM233.4 206.4h4.5v4.5h-4.5zM187.1 202.2h4.5v4.5h-4.5zM212.3 198h4.5v4.5h-4.5zM220.8 198h4.5v4.5h-4.5zM229.2 198h4.5v4.5h-4.5zM199.7 189.6h4.5v4.5h-4.5zM237.6 189.6h4.5v4.5h-4.5zM208.1 185.4h4.5v4.5h-4.5zM208.1 181.2h4.5v4.5h-4.5zM208.1 177h4.5v4.5h-4.5zM225 172.8h4.5v4.5h-4.5zM220.8 164.4h4.5v4.5h-4.5zM216.6 160.2h4.5v4.5h-4.5zM225 160.2h8.7v4.5h-8.7zM225 156h4.5v4.5h-4.5zM258.7 151.8h8.7v4.5h-8.7zM262.9 147.6h4.5v4.5h-4.5zM267.1 139.1h4.5v4.5h-4.5zM275.5 139.1h4.5v4.5h-4.5zM233.4 134.9h4.5v4.5h-4.5zM237.6 130.7h4.5v4.5h-4.5zM246 113.9h8.7v4.5h-8.7zM262.9 105.5h4.5v4.5h-4.5zM283.9 101.3h4.5v4.5h-4.5zM258.7 97.1h4.5v4.5h-4.5zM267.1 92.9h4.5v4.5h-4.5zM279.7 88.7h8.7v4.5h-8.7z"/>
<path fill="#e9ff34" d="M123.9 349.4h4.5v4.5h-4.5zM132.3 336.8h4.5v4.5h-4.5zM229.2 311.5h4.5v4.5h-4.5zM157.6 307.3h4.5v4.5h-4.5zM225 303.1h4.5v4.5h-4.5zM216.6 294.7h12.9v4.5h-12.9zM225 286.3h8.7v4.5h-8.7zM225 269.5h4.5v4.5h-4.5zM225 244.3h4.5v4.5h-4.5zM233.4 244.3h4.5v4.5h-4.5zM225 240.1h4.5v4.5h-4.5zM237.6 235.8h4.5v4.5h-4.5zM225 231.6h4.5v4.5h-4.5zM229.2 219h4.5v4.5h-4.5zM233.4 202.2h4.5v4.5h-4.5zM233.4 198h4.5v4.5h-4.5zM203.9 193.8h4.5v4.5h-4.5zM220.8 193.8h4.5v4.5h-4.5zM203.9 189.6h4.5v4.5h-4.5zM241.8 185.4h4.5v4.5h-4.5zM212.3 181.2h4.5v4.5h-4.5zM233.4 181.2h4.5v4.5h-4.5zM241.8 177h4.5v4.5h-4.5zM216.6 172.8h4.5v4.5h-4.5zM220.8 168.6h4.5v4.5h-4.5zM216.6 164.4h4.5v4.5h-4.5zM258.7 164.4h4.5v4.5h-4.5zM220.8 160.2h4.5v4.5h-4.5zM220.8 156h4.5v4.5h-4.5zM267.1 147.6h4.5v4.5h-4.5zM233.4 139.1h4.5v4.5h-4.5zM233.4 126.5h4.5v4.5h-4.5zM275.5 118.1h4.5v4.5h-4.5zM258.7 105.5h4.5v4.5h-4.5zM283.9 105.5h4.5v4.5h-4.5zM262.9 97.1h8.7v4.5h-8.7zM288.2 97.1h4.5v4.5h-4.5zM271.3 92.9h4.5v4.5h-4.5zM292.4 88.7h4.5v4.5h-4.5z"/>
<path fill="#ebff3b" d="M246 349.4h4.5v4.5h-4.5zM149.2 328.3h4.5v4.5h-4.5zM237.6 324.1h4.5v4.5h-4.5zM157.6 311.5h4.5v4.5h-4.5zM225 307.3h4.5v4.5h-4.5zM153.4 303.1h8.7v4.5h-8.7zM229.2 277.9h4.5v4.5h-4.5zM229.2 273.7h4.5v4.5h-4.5zM233.4 269.5h4.5v4.5h-4.5zM237.6 265.3h4.5v4.5h-4.5zM246 265.3h4.5v4.5h-4.5zM233.4 261.1h4.5v4.5h-4.5zM229.2 256.9h4.5v4.5h-4.5zM241.8 256.9h4.5v4.5h-4.5zM220.8 252.7h4.5v4.5h-4.5zM233.4 248.5h4.5v4.5h-4.5zM229.2 244.3h4.5v4.5h-4.5zM237.6 244.3h4.5v4.5h-4.5zM241.8 235.8h4.5v4.5h-4.5zM225 227.4h4.5v4.5h-4.5zM237.6 223.2h4.5v4.5h-4.5zM153.4 219h4.5v4.5h-4.5zM157.6 210.6h4.5v4.5h-4.5zM229.2 210.6h4.5v4.5h-4.5zM237.6 210.6h4.5v4.5h-4.5zM182.9 206.4h4.5v4.5h-4.5zM220.8 202.2h8.7v4.5h-8.7zM203.9 185.4h4.5v4.5h-4.5zM250.2 185.4h4.5v4.5h-4.5zM199.7 181.2h4.5v4.5h-4.5zM212.3 172.8h4.5v4.5h-4.5zM258.7 172.8h4.5v4.5h-4.5zM212.3 168.6h4.5v4.5h-4.5zM258.7 168.6h4.5v4.5h-4.5zM267.1 156h4.5v4.5h-4.5zM229.2 134.9h4.5v4.5h-4.5zM271.3 134.9h8.7v4.5h-8.7zM229.2 130.7h4.5v4.5h-4.5zM283.9 126.5h4.5v4.5h-4.5zM233.4 122.3h4.5v4.5h-4.5zM246 109.7h4.5v4.5h-4.5zM288.2 109.7h4.5v4.5h-4.5zM275.5 105.5h4.5v4.5h-4.5zM250.2 97.1h8.7v4.5h-8.7zM275.5 84.5h4.5v4.5h-4.5z"/>
<path fill="#edff42" d="M123.9 353.6h4.5v4.5h-4.5zM246 345.2h4.5v4.5h-4.5zM119.7 341h8.7v4.5h-8.7zM246 341h8.7v4.5h-8.7zM107.1 336.8h4.5v4.5h-4.5zM128.1 336.8h4.5v4.5h-4.5zM246 336.8h4.5v4.5h-4.5zM132.3 332.6h4.5v4.5h-4.5zM254.5 332.6h4.5v4.5h-4.5zM123.9 328.3h4.5v4.5h-4.5zM140.8 328.3h4.5v4.5h-4.5zM246 324.1h4.5v4.5h-4.5zM153.4 319.9h8.7v4.5h-8.7zM153.4 315.7h4.5v4.5h-4.5zM237.6 315.7h8.7v4.5h-8.7zM145 311.5h4.5v4.5h-4.5zM233.4 311.5h4.5v4.5h-4.5zM145 307.3h4.5v4.5h-4.5zM229.2 303.1h4.5v4.5h-4.5zM237.6 303.1h4.5v4.5h-4.5zM128.1 298.9h4.5v4.5h-4.5zM136.5 298.9h8.7v4.5h-8.7zM229.2 298.9h12.9v4.5h-12.9zM233.4 294.7h4.5v4.5h-4.5zM102.8 290.5h4.5v4.5h-4.5zM225 290.5h4.5v4.5h-4.5zM233.4 290.5h4.5v4.5h-4.5zM237.6 286.3h4.5v4.5h-4.5zM233.4 282.1h4.5v4.5h-4.5zM241.8 282.1h4.5v4.5h-4.5zM233.4 277.9h4.5v4.5h-4.5zM241.8 273.7h4.5v4.5h-4.5zM241.8 269.5h4.5v4.5h-4.5zM250.2 269.5h4.5v4.5h-4.5zM229.2 265.3h4.5v4.5h-4.5zM241.8 265.3h4.5v4.5h-4.5zM246 261.1h4.5v4.5h-4.5zM233.4 256.9h8.7v4.5h-8.7zM246 256.9h4.5v4.5h-4.5zM254.5 256.9h4.5v4.5h-4.5zM241.8 252.7h12.9v4.5h-12.9zM241.8 248.5h8.7v4.5h-8.7zM241.8 244.3h4.5v4.5h-4.5zM250.2 244.3h4.5v4.5h-4.5zM233.4 240.1h8.7v4.5h-8.7zM246 240.1h8.7v4.5h-8.7zM237.6 231.6h8.7v4.5h-8.7zM250.2 231.6h4.5v4.5h-4.5zM111.3 227.4h4.5v4.5h-4.5zM229.2 227.4h4.5v4.5h-4.5zM241.8 227.4h4.5v4.5h-4.5zM111.3 223.2h12.9v4.5h-12.9zM132.3 223.2h4.5v4.5h-4.5zM216.6 223.2h12.9v4.5h-12.9zM233.4 223.2h4.5v4.5h-4.5zM115.5 219h12.9v4.5h-12.9zM132.3 219h8.7v4.5h-8.7zM145 219h4.5v4.5h-4.5zM233.4 219h8.7v4.5h-8.7zM254.5 219h4.5v4.5h-4.5zM111.3 214.8h4.5v4.5h-4.5zM119.7 214.8h4.5v4.5h-4.5zM128.1 214.8h4.5v4.5h-4.5zM140.8 214.8h8.7v4.5h-8.7zM161.8 214.8h4.5v4.5h-4.5zM170.2 214.8h8.7v4.5h-8.7zM241.8 214.8h8.7v4.5h-8.7zM115.5 210.6h4.5v4.5h-4.5zM132.3 210.6h4.5v4.5h-4.5zM149.2 210.6h8.7v4.5h-8.7zM178.7 210.6h4.5v4.5h-4.5zM149.2 206.4h4.5v4.5h-4.5zM220.8 206.4h4.5v4.5h-4.5zM237.6 206.4h17.1v4.5h-17.1zM149.2 202.2h4.5v4.5h-4.5zM166 202.2h4.5v4.5h-4.5zM178.7 202.2h4.5v4.5h-4.5zM246 202.2h8.7v4.5h-8.7zM178.7 198h12.9v4.5h-12.9zM237.6 198h17.1v4.5h-17.1zM153.4 193.8h4.5v4.5h-4.5zM187.1 193.8h4.5v4.5h-4.5zM241.8 193.8h8.7v4.5h-8.7zM254.5 193.8h4.5v4.5h-4.5zM161.8 189.6h4.5v4.5h-4.5zM182.9 189.6h17.1v4.5h-17.1zM250.2 189.6h4.5v4.5h-4.5zM246 185.4h4.5v4.5h-4.5zM195.5 181.2h4.5v4.5h-4.5zM203.9 181.2h4.5v4.5h-4.5zM250.2 181.2h4.5v4.5h-4.5zM258.7 181.2h4.5v4.5h-4.5zM199.7 177h4.5v4.5h-4.5zM254.5 177h4.5v4.5h-4.5zM195.5 172.8h17.1v4.5h-17.1zM250.2 172.8h4.5v4.5h-4.5zM203.9 168.6h8.7v4.5h-8.7zM262.9 168.6h8.7v4.5h-8.7zM212.3 164.4h4.5v4.5h-4.5zM203.9 160.2h8.7v4.5h-8.7zM258.7 160.2h8.7v4.5h-8.7zM216.6 156h4.5v4.5h-4.5zM271.3 156h4.5v4.5h-4.5zM212.3 151.8h12.9v4.5h-12.9zM267.1 151.8h4.5v4.5h-4.5zM283.9 151.8h4.5v4.5h-4.5zM216.6 147.6h8.7v4.5h-8.7zM279.7 147.6h4.5v4.5h-4.5zM208.1 143.3h4.5v4.5h-4.5zM216.6 143.3h4.5v4.5h-4.5zM225 143.3h4.5v4.5h-4.5zM267.1 143.3h4.5v4.5h-4.5zM279.7 143.3h4.5v4.5h-4.5zM279.7 139.1h8.7v4.5h-8.7zM225 134.9h4.5v4.5h-4.5zM279.7 134.9h4.5v4.5h-4.5zM275.5 130.7h4.5v4.5h-4.5zM283.9 130.7h8.7v4.5h-8.7zM229.2 126.5h4.5v4.5h-4.5zM275.5 126.5h8.7v4.5h-8.7zM229.2 122.3h4.5v4.5h-4.5zM237.6 122.3h4.5v4.5h-4.5zM279.7 122.3h17.1v4.5h-17.1zM233.4 118.1h12.9v4.5h-12.9zM279.7 118.1h4.5v4.5h-4.5zM292.4 118.1h8.7v4.5h-8.7zM237.6 113.9h4.5v4.5h-4.5zM288.2 113.9h4.5v4.5h-4.5zM300.8 113.9h4.5v4.5h-4.5zM241.8 109.7h4.5v4.5h-4.5zM246 105.5h8.7v4.5h-8.7zM288.2 105.5h4.5v4.5h-4.5zM296.6 105.5h4.5v4.5h-4.5zM237.6 101.3h4.5v4.5h-4.5zM246 101.3h4.5v4.5h-4.5zM292.4 101.3h8.7v4.5h-8.7zM292.4 97.1h4.5v4.5h-4.5zM262.9 92.9h4.5v4.5h-4.5zM283.9 92.9h12.9v4.5h-12.9zM246 88.7h12.9v4.5h-12.9zM262.9 88.7h4.5v4.5h-4.5zM296.6 88.7h8.7v4.5h-8.7zM254.5 84.5h4.5v4.5h-4.5zM267.1 84.5h8.7v4.5h-8.7zM292.4 84.5h4.5v4.5h-4.5zM258.7 80.3h4.5v4.5h-4.5zM267.1 80.3h4.5v4.5h-4.5zM279.7 80.3h12.9v4.5h-12.9zM267.1 76.1h4.5v4.5h-4.5zM275.5 76.1h8.7v4.5h-8.7zM283.9 71.9h8.7v4.5h-8.7zM275.5 67.7h4.5v4.5h-4.5zM283.9 67.7h8.7v4.5h-8.7zM296.6 67.7h4.5v4.5h-4.5zM300.8 46.6h4.5v4.5h-4.5z"/>
</g>
<rect x="86" y="10.2" width="365" height="364.4" fill="none" stroke="#000" stroke-width="3.3"/>
<path d="M97.23 374.6v-6.65M97.23 10.2v6.65M108.46 374.6v-6.65M108.46 10.2v6.65M119.69 374.6v-6.65M119.69 10.2v6.65M130.92 374.6v-6.65M130.92 10.2v6.65M142.15 374.6v-11.65M142.15 10.2v11.65M153.38 374.6v-6.65M153.38 10.2v6.65M164.62 374.6v-6.65M164.62 10.2v6.65M175.85 374.6v-6.65M175.85 10.2v6.65M187.08 374.6v-6.65M187.08 10.2v6.65M198.31 374.6v-11.65M198.31 10.2v11.65M209.54 374.6v-6.65M209.54 10.2v6.65M220.77 374.6v-6.65M220.77 10.2v6.65M232 374.6v-6.65M232 10.2v6.65M243.23 374.6v-6.65M243.23 10.2v6.65M254.46 374.6v-11.65M254.46 10.2v11.65M265.69 374.6v-6.65M265.69 10.2v6.65M276.92 374.6v-6.65M276.92 10.2v6.65M288.15 374.6v-6.65M288.15 10.2v6.65M299.38 374.6v-6.65M299.38 10.2v6.65M310.62 374.6v-11.65M310.62 10.2v11.65M321.85 374.6v-6.65M321.85 10.2v6.65M333.08 374.6v-6.65M333.08 10.2v6.65M344.31 374.6v-6.65M344.31 10.2v6.65M355.54 374.6v-6.65M355.54 10.2v6.65M366.77 374.6v-11.65M366.77 10.2v11.65M378 374.6v-6.65M378 10.2v6.65M389.23 374.6v-6.65M389.23 10.2v6.65M400.46 374.6v-6.65M400.46 10.2v6.65M411.69 374.6v-6.65M411.69 10.2v6.65M422.92 374.6v-11.65M422.92 10.2v11.65M434.15 374.6v-6.65M434.15 10.2v6.65M86 363.39h6.65M451 363.39h-6.65M86 352.18h6.65M451 352.18h-6.65M86 340.96h6.65M451 340.96h-6.65M86 329.75h6.65M451 329.75h-6.65M86 318.54h11.65M451 318.54h-11.65M86 307.33h6.65M451 307.33h-6.65M86 296.11h6.65M451 296.11h-6.65M86 284.9h6.65M451 284.9h-6.65M86 273.69h6.65M451 273.69h-6.65M86 262.48h11.65M451 262.48h-11.65M86 251.26h6.65M451 251.26h-6.65M86 240.05h6.65M451 240.05h-6.65M86 228.84h6.65M451 228.84h-6.65M86 217.63h6.65M451 217.63h-6.65M86 206.42h11.65M451 206.42h-11.65M86 195.2h6.65M451 195.2h-6.65M86 183.99h6.65M451 183.99h-6.65M86 172.78h6.65M451 172.78h-6.65M86 161.57h6.65M451 161.57h-6.65M86 150.35h11.65M451 150.35h-11.65M86 139.14h6.65M451 139.14h-6.65M86 127.93h6.65M451 127.93h-6.65M86 116.72h6.65M451 116.72h-6.65M86 105.5h6.65M451 105.5h-6.65M86 94.29h11.65M451 94.29h-11.65M86 83.08h6.65M451 83.08h-6.65M86 71.87h6.65M451 71.87h-6.65M86 60.66h6.65M451 60.66h-6.65M86 49.44h6.65M451 49.44h-6.65M86 38.23h11.65M451 38.23h-11.65M86 27.02h6.65M451 27.02h-6.65" stroke="#000" stroke-width="2.8" fill="none"/>
<text x="84.5" y="409" font-size="25.5" text-anchor="middle">2</text>
<text x="75.5" y="382.73" font-size="25.5" text-anchor="end">2</text>
<text x="140.65" y="409" font-size="25.5" text-anchor="middle">4</text>
<text x="75.5" y="326.67" font-size="25.5" text-anchor="end">4</text>
<text x="196.81" y="409" font-size="25.5" text-anchor="middle">6</text>
<text x="75.5" y="270.61" font-size="25.5" text-anchor="end">6</text>
<text x="252.96" y="409" font-size="25.5" text-anchor="middle">8</text>
<text x="75.5" y="214.54" font-size="25.5" text-anchor="end">8</text>
<text x="309.12" y="409" font-size="25.5" text-anchor="middle">10</text>
<text x="75.5" y="158.48" font-size="25.5" text-anchor="end">10</text>
<text x="365.27" y="409" font-size="25.5" text-anchor="middle">12</text>
<text x="75.5" y="102.42" font-size="25.5" text-anchor="end">12</text>
<text x="421.42" y="409" font-size="25.5" text-anchor="middle">14</text>
<text x="75.5" y="46.36" font-size="25.5" text-anchor="end">14</text>
<text x="270.7" y="447.5" font-size="30.5" text-anchor="middle" letter-spacing="0.15">HB2 distance [<tspan dx="2.0">Å</tspan><tspan dx="2.0">]</tspan></text>
<text transform="translate(27.6 195.2) rotate(-90)" font-size="30.5" text-anchor="middle" letter-spacing="0.72">HB1 distance [<tspan dx="2.0">Å</tspan><tspan dx="2.0">]</tspan></text>
<rect x="459.6" y="10.5" width="25.6" height="237.1" fill="url(#cbg)" stroke="#000" stroke-width="3.0"/>
<path d="M459.6 213.73H485.2M459.6 179.86H485.2M459.6 145.99H485.2M459.6 112.11H485.2M459.6 78.24H485.2M459.6 44.37H485.2" stroke="#000" stroke-width="2.5" fill="none"/>
<text x="495.8" y="255.71" font-size="26" text-anchor="start">0</text>
<text x="495.8" y="221.84" font-size="26" text-anchor="start">1</text>
<text x="495.8" y="187.97" font-size="26" text-anchor="start">2</text>
<text x="495.8" y="154.09" font-size="26" text-anchor="start">3</text>
<text x="495.8" y="120.22" font-size="26" text-anchor="start">4</text>
<text x="495.8" y="86.35" font-size="26" text-anchor="start">5</text>
<text x="495.8" y="52.48" font-size="26" text-anchor="start">6</text>
<text x="495.8" y="18.61" font-size="26" text-anchor="start">7</text>
<text x="459.5" y="285.4" font-size="28.5">[k<tspan font-size="14.5" dx="0.5">B</tspan><tspan dx="1">T]</tspan></text>
<text x="106.5" y="61.3" font-size="35.5" text-anchor="start">(a)</text>
<text x="112.8" y="130.6" font-size="30.6" text-anchor="start">Mis-fold</text>
<text x="188.8" y="176.8" font-size="30.6" text-anchor="start">Intermediate</text>
<text x="305.5" y="351.8" font-size="30.6" text-anchor="start">Native</text>
<path d="M148.5 141.5L131.18 236.06" stroke="#000" stroke-width="3" fill="none"/>
<path d="M128.3 251.8L120.77 229.07L131.18 236.06L143.39 233.22Z" fill="#000"/>
<path d="M269 189.6L221.44 220.32" stroke="#000" stroke-width="3" fill="none"/>
<path d="M208 229L219.4 207.95L221.44 220.32L231.88 227.27Z" fill="#000"/>
<path d="M302.5 341.5L245.47 345.02" stroke="#000" stroke-width="3" fill="none"/>
<path d="M229.5 346L249.75 333.23L245.47 345.02L251.17 356.19Z" fill="#000"/>
</g>
<g id="panel-b">
<g shape-rendering="crispEdges" filter="url(#bl)">
<path fill="#060614" d="M204.3 830h3.8v3.8h-3.8zM200.8 826.5h10.7v3.8h-10.7zM197.3 823h14.2v3.8h-14.2zM200.8 819.6h10.7v3.8h-10.7zM204.3 816.1h3.8v3.8h-3.8zM211.2 816.1h3.8v3.8h-3.8zM166 795.2h3.8v3.8h-3.8zM159.1 791.7h14.2v3.8h-14.2zM159.1 788.3h14.2v3.8h-14.2zM159.1 784.8h17.7v3.8h-17.7zM159.1 781.3h17.7v3.8h-17.7zM159.1 777.8h17.7v3.8h-17.7zM159.1 774.4h14.2v3.8h-14.2zM159.1 770.9h10.7v3.8h-10.7zM155.6 767.4h10.7v3.8h-10.7zM145.1 763.9h17.7v3.8h-17.7zM145.1 760.4h14.2v3.8h-14.2zM138.2 757h17.7v3.8h-17.7zM138.2 753.5h14.2v3.8h-14.2zM141.7 750h7.3v3.8h-7.3z"/>
<path fill="#08081c" d="M197.3 830h7.3v3.8h-7.3zM207.8 830h3.8v3.8h-3.8zM197.3 826.5h3.8v3.8h-3.8zM197.3 819.6h3.8v3.8h-3.8zM211.2 819.6h3.8v3.8h-3.8zM207.8 816.1h3.8v3.8h-3.8zM162.5 795.2h3.8v3.8h-3.8zM173 788.3h3.8v3.8h-3.8zM173 774.4h3.8v3.8h-3.8zM169.5 770.9h3.8v3.8h-3.8zM148.6 767.4h7.3v3.8h-7.3zM166 767.4h7.3v3.8h-7.3zM141.7 763.9h3.8v3.8h-3.8zM162.5 763.9h3.8v3.8h-3.8zM138.2 760.4h7.3v3.8h-7.3zM138.2 750h3.8v3.8h-3.8zM141.7 746.5h3.8v3.8h-3.8z"/>
<path fill="#090924" d="M179.9 830h3.8v3.8h-3.8zM211.2 823h3.8v3.8h-3.8zM200.8 816.1h3.8v3.8h-3.8zM207.8 812.6h3.8v3.8h-3.8zM159.1 795.2h3.8v3.8h-3.8zM155.6 770.9h3.8v3.8h-3.8zM145.1 767.4h3.8v3.8h-3.8zM166 763.9h7.3v3.8h-7.3zM159.1 760.4h7.3v3.8h-7.3zM148.6 750h3.8v3.8h-3.8z"/>
<path fill="#0b0b2c" d="M183.4 833.5h3.8v3.8h-3.8zM204.3 833.5h7.3v3.8h-7.3zM183.4 830h3.8v3.8h-3.8zM211.2 830h3.8v3.8h-3.8zM179.9 826.5h3.8v3.8h-3.8zM193.8 826.5h3.8v3.8h-3.8zM211.2 826.5h3.8v3.8h-3.8zM176.4 823h3.8v3.8h-3.8zM193.8 823h3.8v3.8h-3.8zM193.8 819.6h3.8v3.8h-3.8zM214.7 816.1h3.8v3.8h-3.8zM204.3 812.6h3.8v3.8h-3.8zM162.5 798.7h3.8v3.8h-3.8zM169.5 795.2h3.8v3.8h-3.8zM155.6 791.7h3.8v3.8h-3.8zM155.6 788.3h3.8v3.8h-3.8zM155.6 784.8h3.8v3.8h-3.8zM176.4 781.3h3.8v3.8h-3.8zM155.6 777.8h3.8v3.8h-3.8zM152.1 770.9h3.8v3.8h-3.8zM173 770.9h3.8v3.8h-3.8zM141.7 767.4h3.8v3.8h-3.8zM138.2 763.9h3.8v3.8h-3.8zM134.7 757h3.8v3.8h-3.8zM155.6 757h3.8v3.8h-3.8zM134.7 753.5h3.8v3.8h-3.8zM152.1 753.5h3.8v3.8h-3.8zM134.7 750h3.8v3.8h-3.8zM138.2 746.5h3.8v3.8h-3.8zM145.1 746.5h3.8v3.8h-3.8z"/>
<path fill="#0c0c34" d="M186.9 833.5h3.8v3.8h-3.8zM197.3 833.5h7.3v3.8h-7.3zM176.4 830h3.8v3.8h-3.8zM186.9 830h10.7v3.8h-10.7zM176.4 826.5h3.8v3.8h-3.8zM183.4 826.5h7.3v3.8h-7.3zM179.9 823h3.8v3.8h-3.8zM214.7 819.6h3.8v3.8h-3.8zM197.3 816.1h3.8v3.8h-3.8zM211.2 812.6h3.8v3.8h-3.8zM159.1 798.7h3.8v3.8h-3.8zM166 798.7h3.8v3.8h-3.8zM173 791.7h3.8v3.8h-3.8zM155.6 781.3h3.8v3.8h-3.8zM176.4 777.8h3.8v3.8h-3.8zM155.6 774.4h3.8v3.8h-3.8zM145.1 770.9h7.3v3.8h-7.3zM138.2 767.4h3.8v3.8h-3.8zM173 767.4h3.8v3.8h-3.8zM134.7 763.9h3.8v3.8h-3.8zM173 763.9h3.8v3.8h-3.8zM134.7 760.4h3.8v3.8h-3.8zM166 760.4h3.8v3.8h-3.8zM131.2 757h3.8v3.8h-3.8zM159.1 757h3.8v3.8h-3.8z"/>
<path fill="#0e0e3c" d="M179.9 833.5h3.8v3.8h-3.8zM190.4 833.5h3.8v3.8h-3.8zM211.2 833.5h3.8v3.8h-3.8zM214.7 830h3.8v3.8h-3.8zM190.4 826.5h3.8v3.8h-3.8zM214.7 826.5h3.8v3.8h-3.8zM183.4 823h3.8v3.8h-3.8zM190.4 823h3.8v3.8h-3.8zM214.7 823h3.8v3.8h-3.8zM176.4 819.6h7.3v3.8h-7.3zM200.8 812.6h3.8v3.8h-3.8zM155.6 795.2h3.8v3.8h-3.8zM176.4 784.8h3.8v3.8h-3.8zM176.4 774.4h3.8v3.8h-3.8zM131.2 760.4h3.8v3.8h-3.8zM169.5 760.4h3.8v3.8h-3.8zM152.1 750h3.8v3.8h-3.8zM148.6 746.5h3.8v3.8h-3.8z"/>
<path fill="#12124b" d="M193.8 833.5h3.8v3.8h-3.8zM214.7 833.5h3.8v3.8h-3.8zM173 823h3.8v3.8h-3.8zM186.9 823h3.8v3.8h-3.8zM190.4 819.6h3.8v3.8h-3.8zM218.2 819.6h3.8v3.8h-3.8zM193.8 816.1h3.8v3.8h-3.8zM162.5 802.2h3.8v3.8h-3.8zM169.5 798.7h3.8v3.8h-3.8zM176.4 788.3h3.8v3.8h-3.8zM134.7 767.4h3.8v3.8h-3.8zM127.7 760.4h3.8v3.8h-3.8zM173 760.4h3.8v3.8h-3.8zM127.7 757h3.8v3.8h-3.8zM166 757h3.8v3.8h-3.8zM131.2 753.5h3.8v3.8h-3.8zM155.6 753.5h3.8v3.8h-3.8z"/>
<path fill="#15155a" d="M204.3 836.9h10.7v3.8h-10.7zM218.2 830h3.8v3.8h-3.8zM173 826.5h3.8v3.8h-3.8zM218.2 826.5h3.8v3.8h-3.8zM218.2 823h3.8v3.8h-3.8zM173 819.6h3.8v3.8h-3.8zM183.4 819.6h7.3v3.8h-7.3zM214.7 812.6h3.8v3.8h-3.8zM159.1 802.2h3.8v3.8h-3.8zM166 802.2h3.8v3.8h-3.8zM173 795.2h3.8v3.8h-3.8zM141.7 770.9h3.8v3.8h-3.8zM176.4 770.9h3.8v3.8h-3.8zM131.2 763.9h3.8v3.8h-3.8zM162.5 757h3.8v3.8h-3.8zM169.5 757h3.8v3.8h-3.8zM134.7 746.5h3.8v3.8h-3.8z"/>
<path fill="#181869" d="M183.4 836.9h3.8v3.8h-3.8zM176.4 833.5h3.8v3.8h-3.8zM179.9 816.1h3.8v3.8h-3.8zM190.4 816.1h3.8v3.8h-3.8zM218.2 816.1h3.8v3.8h-3.8zM197.3 812.6h3.8v3.8h-3.8zM204.3 809.1h7.3v3.8h-7.3zM162.5 805.6h3.8v3.8h-3.8zM155.6 798.7h3.8v3.8h-3.8zM173 798.7h3.8v3.8h-3.8zM176.4 791.7h3.8v3.8h-3.8zM173 757h3.8v3.8h-3.8zM131.2 750h3.8v3.8h-3.8zM141.7 743.1h3.8v3.8h-3.8z"/>
<path fill="#1c1c78" d="M218.2 833.5h3.8v3.8h-3.8zM173 830h3.8v3.8h-3.8zM221.7 826.5h3.8v3.8h-3.8zM221.7 823h3.8v3.8h-3.8zM173 816.1h3.8v3.8h-3.8zM183.4 816.1h7.3v3.8h-7.3zM193.8 812.6h3.8v3.8h-3.8zM152.1 774.4h3.8v3.8h-3.8zM176.4 767.4h3.8v3.8h-3.8zM127.7 763.9h3.8v3.8h-3.8zM176.4 763.9h3.8v3.8h-3.8zM124.3 757h3.8v3.8h-3.8zM127.7 753.5h3.8v3.8h-3.8zM159.1 753.5h3.8v3.8h-3.8zM169.5 753.5h3.8v3.8h-3.8zM155.6 750h3.8v3.8h-3.8zM152.1 746.5h3.8v3.8h-3.8z"/>
<path fill="#191d96" d="M179.9 836.9h3.8v3.8h-3.8zM214.7 836.9h3.8v3.8h-3.8zM221.7 819.6h3.8v3.8h-3.8zM176.4 816.1h3.8v3.8h-3.8zM179.9 812.6h3.8v3.8h-3.8zM190.4 812.6h3.8v3.8h-3.8zM176.4 809.1h7.3v3.8h-7.3zM211.2 809.1h3.8v3.8h-3.8zM166 805.6h7.3v3.8h-7.3zM169.5 802.2h7.3v3.8h-7.3zM176.4 795.2h3.8v3.8h-3.8zM152.1 777.8h3.8v3.8h-3.8zM138.2 770.9h3.8v3.8h-3.8zM124.3 760.4h3.8v3.8h-3.8zM176.4 760.4h3.8v3.8h-3.8zM162.5 753.5h7.3v3.8h-7.3zM138.2 743.1h3.8v3.8h-3.8zM145.1 743.1h3.8v3.8h-3.8z"/>
<path fill="#171db4" d="M221.7 830h3.8v3.8h-3.8zM169.5 823h3.8v3.8h-3.8zM169.5 819.6h3.8v3.8h-3.8zM169.5 816.1h3.8v3.8h-3.8zM169.5 812.6h10.7v3.8h-10.7zM183.4 812.6h7.3v3.8h-7.3zM166 809.1h10.7v3.8h-10.7zM183.4 809.1h3.8v3.8h-3.8zM200.8 809.1h3.8v3.8h-3.8zM159.1 805.6h3.8v3.8h-3.8zM173 805.6h10.7v3.8h-10.7zM176.4 802.2h3.8v3.8h-3.8zM176.4 798.7h3.8v3.8h-3.8zM152.1 795.2h3.8v3.8h-3.8zM152.1 791.7h3.8v3.8h-3.8zM152.1 788.3h3.8v3.8h-3.8zM152.1 784.8h3.8v3.8h-3.8zM152.1 781.3h3.8v3.8h-3.8zM148.6 774.4h3.8v3.8h-3.8zM131.2 767.4h3.8v3.8h-3.8zM176.4 757h3.8v3.8h-3.8zM124.3 753.5h3.8v3.8h-3.8zM173 753.5h3.8v3.8h-3.8zM127.7 750h3.8v3.8h-3.8z"/>
<path fill="#141ed2" d="M221.7 833.5h3.8v3.8h-3.8zM169.5 826.5h3.8v3.8h-3.8zM221.7 816.1h3.8v3.8h-3.8zM218.2 812.6h3.8v3.8h-3.8zM162.5 809.1h3.8v3.8h-3.8zM197.3 809.1h3.8v3.8h-3.8zM214.7 809.1h3.8v3.8h-3.8zM183.4 805.6h3.8v3.8h-3.8zM155.6 802.2h3.8v3.8h-3.8zM179.9 798.7h3.8v3.8h-3.8zM179.9 784.8h3.8v3.8h-3.8zM179.9 781.3h3.8v3.8h-3.8zM179.9 777.8h3.8v3.8h-3.8zM145.1 774.4h3.8v3.8h-3.8zM124.3 763.9h3.8v3.8h-3.8zM159.1 750h3.8v3.8h-3.8zM148.6 743.1h3.8v3.8h-3.8z"/>
<path fill="#1622dc" d="M176.4 836.9h3.8v3.8h-3.8zM218.2 836.9h3.8v3.8h-3.8zM173 833.5h3.8v3.8h-3.8zM225.2 826.5h3.8v3.8h-3.8zM166 816.1h3.8v3.8h-3.8zM166 812.6h3.8v3.8h-3.8zM186.9 809.1h3.8v3.8h-3.8zM179.9 802.2h3.8v3.8h-3.8zM179.9 788.3h3.8v3.8h-3.8zM179.9 774.4h3.8v3.8h-3.8zM134.7 770.9h3.8v3.8h-3.8zM179.9 770.9h3.8v3.8h-3.8zM127.7 767.4h3.8v3.8h-3.8zM120.8 760.4h3.8v3.8h-3.8zM120.8 757h3.8v3.8h-3.8zM166 750h7.3v3.8h-7.3zM131.2 746.5h3.8v3.8h-3.8zM155.6 746.5h3.8v3.8h-3.8z"/>
<path fill="#1926e6" d="M169.5 830h3.8v3.8h-3.8zM225.2 823h3.8v3.8h-3.8zM166 819.6h3.8v3.8h-3.8zM190.4 809.1h7.3v3.8h-7.3zM186.9 805.6h3.8v3.8h-3.8zM207.8 805.6h3.8v3.8h-3.8zM183.4 802.2h3.8v3.8h-3.8zM152.1 798.7h3.8v3.8h-3.8zM179.9 795.2h3.8v3.8h-3.8zM179.9 791.7h3.8v3.8h-3.8zM141.7 774.4h3.8v3.8h-3.8zM179.9 767.4h3.8v3.8h-3.8zM179.9 763.9h3.8v3.8h-3.8zM179.9 760.4h3.8v3.8h-3.8zM120.8 753.5h3.8v3.8h-3.8zM176.4 753.5h3.8v3.8h-3.8zM162.5 750h3.8v3.8h-3.8zM134.7 743.1h3.8v3.8h-3.8z"/>
<path fill="#1c29f0" d="M225.2 830h3.8v3.8h-3.8zM166 826.5h3.8v3.8h-3.8zM166 823h3.8v3.8h-3.8zM225.2 819.6h3.8v3.8h-3.8zM162.5 812.6h3.8v3.8h-3.8zM159.1 809.1h3.8v3.8h-3.8zM155.6 805.6h3.8v3.8h-3.8zM211.2 805.6h3.8v3.8h-3.8zM186.9 802.2h3.8v3.8h-3.8zM183.4 798.7h3.8v3.8h-3.8zM148.6 788.3h3.8v3.8h-3.8zM138.2 774.4h3.8v3.8h-3.8zM120.8 763.9h3.8v3.8h-3.8zM179.9 757h3.8v3.8h-3.8zM124.3 750h3.8v3.8h-3.8zM173 750h3.8v3.8h-3.8zM159.1 746.5h3.8v3.8h-3.8z"/>
<path fill="#1e2dfa" d="M173 836.9h3.8v3.8h-3.8zM221.7 836.9h3.8v3.8h-3.8zM169.5 833.5h3.8v3.8h-3.8zM225.2 833.5h3.8v3.8h-3.8zM162.5 819.6h3.8v3.8h-3.8zM218.2 809.1h3.8v3.8h-3.8zM190.4 805.6h3.8v3.8h-3.8zM204.3 805.6h3.8v3.8h-3.8zM152.1 802.2h3.8v3.8h-3.8zM186.9 798.7h3.8v3.8h-3.8zM183.4 795.2h3.8v3.8h-3.8zM148.6 784.8h3.8v3.8h-3.8zM148.6 781.3h3.8v3.8h-3.8zM148.6 777.8h3.8v3.8h-3.8zM183.4 774.4h3.8v3.8h-3.8zM131.2 770.9h3.8v3.8h-3.8zM117.3 760.4h3.8v3.8h-3.8zM183.4 760.4h3.8v3.8h-3.8zM117.3 757h3.8v3.8h-3.8zM127.7 746.5h3.8v3.8h-3.8zM162.5 746.5h3.8v3.8h-3.8zM152.1 743.1h3.8v3.8h-3.8zM141.7 739.6h3.8v3.8h-3.8z"/>
<path fill="#2231fb" d="M166 830h3.8v3.8h-3.8zM228.6 826.5h3.8v3.8h-3.8zM228.6 823h3.8v3.8h-3.8zM162.5 816.1h3.8v3.8h-3.8zM225.2 816.1h3.8v3.8h-3.8zM159.1 812.6h3.8v3.8h-3.8zM221.7 812.6h3.8v3.8h-3.8zM193.8 805.6h3.8v3.8h-3.8zM200.8 805.6h3.8v3.8h-3.8zM214.7 805.6h3.8v3.8h-3.8zM190.4 802.2h7.3v3.8h-7.3zM190.4 798.7h7.3v3.8h-7.3zM148.6 795.2h3.8v3.8h-3.8zM186.9 795.2h10.7v3.8h-10.7zM148.6 791.7h3.8v3.8h-3.8zM183.4 791.7h7.3v3.8h-7.3zM183.4 788.3h7.3v3.8h-7.3zM183.4 784.8h3.8v3.8h-3.8zM190.4 784.8h3.8v3.8h-3.8zM145.1 781.3h3.8v3.8h-3.8zM183.4 781.3h3.8v3.8h-3.8zM145.1 777.8h3.8v3.8h-3.8zM183.4 777.8h3.8v3.8h-3.8zM134.7 774.4h3.8v3.8h-3.8zM183.4 770.9h3.8v3.8h-3.8zM124.3 767.4h3.8v3.8h-3.8zM183.4 767.4h7.3v3.8h-7.3zM183.4 763.9h7.3v3.8h-7.3zM117.3 753.5h3.8v3.8h-3.8zM179.9 753.5h3.8v3.8h-3.8zM120.8 750h3.8v3.8h-3.8zM176.4 750h7.3v3.8h-7.3zM166 746.5h7.3v3.8h-7.3zM131.2 743.1h3.8v3.8h-3.8zM138.2 739.6h3.8v3.8h-3.8zM193.8 739.6h3.8v3.8h-3.8zM200.8 718.7h3.8v3.8h-3.8zM200.8 711.8h3.8v3.8h-3.8zM207.8 694.4h3.8v3.8h-3.8z"/>
<path fill="#2534fc" d="M225.2 836.9h3.8v3.8h-3.8zM162.5 830h3.8v3.8h-3.8zM228.6 830h3.8v3.8h-3.8zM162.5 826.5h3.8v3.8h-3.8zM162.5 823h3.8v3.8h-3.8zM159.1 819.6h3.8v3.8h-3.8zM228.6 819.6h3.8v3.8h-3.8zM155.6 816.1h7.3v3.8h-7.3zM155.6 812.6h3.8v3.8h-3.8zM148.6 809.1h10.7v3.8h-10.7zM145.1 805.6h10.7v3.8h-10.7zM197.3 805.6h3.8v3.8h-3.8zM145.1 802.2h7.3v3.8h-7.3zM197.3 802.2h10.7v3.8h-10.7zM145.1 798.7h7.3v3.8h-7.3zM197.3 798.7h3.8v3.8h-3.8zM141.7 795.2h3.8v3.8h-3.8zM190.4 791.7h7.3v3.8h-7.3zM141.7 788.3h7.3v3.8h-7.3zM190.4 788.3h10.7v3.8h-10.7zM141.7 784.8h7.3v3.8h-7.3zM186.9 784.8h3.8v3.8h-3.8zM186.9 781.3h3.8v3.8h-3.8zM193.8 781.3h3.8v3.8h-3.8zM134.7 777.8h10.7v3.8h-10.7zM186.9 777.8h7.3v3.8h-7.3zM190.4 774.4h3.8v3.8h-3.8zM127.7 770.9h3.8v3.8h-3.8zM186.9 770.9h7.3v3.8h-7.3zM120.8 767.4h3.8v3.8h-3.8zM190.4 763.9h3.8v3.8h-3.8zM186.9 760.4h7.3v3.8h-7.3zM113.8 757h3.8v3.8h-3.8zM183.4 757h7.3v3.8h-7.3zM113.8 753.5h3.8v3.8h-3.8zM183.4 753.5h7.3v3.8h-7.3zM117.3 750h3.8v3.8h-3.8zM183.4 750h7.3v3.8h-7.3zM173 746.5h14.2v3.8h-14.2zM173 743.1h3.8v3.8h-3.8zM183.4 743.1h14.2v3.8h-14.2zM145.1 739.6h3.8v3.8h-3.8zM190.4 739.6h3.8v3.8h-3.8zM193.8 736.1h7.3v3.8h-7.3zM197.3 732.6h3.8v3.8h-3.8zM197.3 729.2h3.8v3.8h-3.8zM197.3 725.7h3.8v3.8h-3.8zM197.3 718.7h3.8v3.8h-3.8zM197.3 715.2h7.3v3.8h-7.3zM197.3 711.8h3.8v3.8h-3.8zM204.3 711.8h3.8v3.8h-3.8zM193.8 708.3h14.2v3.8h-14.2zM197.3 704.8h14.2v3.8h-14.2zM204.3 701.3h3.8v3.8h-3.8zM204.3 697.9h3.8v3.8h-3.8zM207.8 690.9h7.3v3.8h-7.3z"/>
<path fill="#2938fe" d="M169.5 836.9h3.8v3.8h-3.8zM166 833.5h3.8v3.8h-3.8zM228.6 833.5h3.8v3.8h-3.8zM159.1 823h3.8v3.8h-3.8zM155.6 819.6h3.8v3.8h-3.8zM145.1 816.1h10.7v3.8h-10.7zM141.7 812.6h3.8v3.8h-3.8zM148.6 812.6h7.3v3.8h-7.3zM141.7 809.1h7.3v3.8h-7.3zM141.7 805.6h3.8v3.8h-3.8zM141.7 802.2h3.8v3.8h-3.8zM207.8 802.2h7.3v3.8h-7.3zM131.2 798.7h3.8v3.8h-3.8zM138.2 798.7h7.3v3.8h-7.3zM200.8 798.7h7.3v3.8h-7.3zM131.2 795.2h3.8v3.8h-3.8zM145.1 795.2h3.8v3.8h-3.8zM197.3 795.2h10.7v3.8h-10.7zM127.7 791.7h3.8v3.8h-3.8zM134.7 791.7h3.8v3.8h-3.8zM141.7 791.7h7.3v3.8h-7.3zM197.3 791.7h7.3v3.8h-7.3zM134.7 784.8h7.3v3.8h-7.3zM193.8 784.8h3.8v3.8h-3.8zM127.7 781.3h17.7v3.8h-17.7zM190.4 781.3h3.8v3.8h-3.8zM131.2 777.8h3.8v3.8h-3.8zM193.8 777.8h3.8v3.8h-3.8zM127.7 774.4h7.3v3.8h-7.3zM186.9 774.4h3.8v3.8h-3.8zM190.4 767.4h3.8v3.8h-3.8zM117.3 763.9h3.8v3.8h-3.8zM113.8 760.4h3.8v3.8h-3.8zM190.4 757h3.8v3.8h-3.8zM190.4 753.5h7.3v3.8h-7.3zM113.8 750h3.8v3.8h-3.8zM120.8 746.5h7.3v3.8h-7.3zM186.9 746.5h7.3v3.8h-7.3zM155.6 743.1h17.7v3.8h-17.7zM176.4 743.1h7.3v3.8h-7.3zM134.7 739.6h3.8v3.8h-3.8zM179.9 739.6h7.3v3.8h-7.3zM197.3 739.6h3.8v3.8h-3.8zM183.4 736.1h10.7v3.8h-10.7zM183.4 732.6h14.2v3.8h-14.2zM200.8 732.6h3.8v3.8h-3.8zM193.8 729.2h3.8v3.8h-3.8zM200.8 729.2h3.8v3.8h-3.8zM200.8 725.7h3.8v3.8h-3.8zM193.8 722.2h14.2v3.8h-14.2zM193.8 718.7h3.8v3.8h-3.8zM204.3 718.7h3.8v3.8h-3.8zM193.8 715.2h3.8v3.8h-3.8zM204.3 715.2h3.8v3.8h-3.8zM193.8 711.8h3.8v3.8h-3.8zM207.8 711.8h3.8v3.8h-3.8zM207.8 708.3h3.8v3.8h-3.8zM193.8 704.8h3.8v3.8h-3.8zM197.3 701.3h7.3v3.8h-7.3zM207.8 701.3h3.8v3.8h-3.8zM200.8 697.9h3.8v3.8h-3.8zM207.8 697.9h3.8v3.8h-3.8zM204.3 694.4h3.8v3.8h-3.8zM211.2 694.4h3.8v3.8h-3.8z"/>
<path fill="#2c3cff" d="M159.1 836.9h10.7v3.8h-10.7zM159.1 833.5h7.3v3.8h-7.3zM159.1 826.5h3.8v3.8h-3.8zM134.7 816.1h10.7v3.8h-10.7zM228.6 816.1h3.8v3.8h-3.8zM134.7 812.6h7.3v3.8h-7.3zM145.1 812.6h3.8v3.8h-3.8zM225.2 812.6h3.8v3.8h-3.8zM138.2 809.1h3.8v3.8h-3.8zM221.7 809.1h3.8v3.8h-3.8zM134.7 805.6h7.3v3.8h-7.3zM218.2 805.6h3.8v3.8h-3.8zM127.7 802.2h3.8v3.8h-3.8zM134.7 802.2h7.3v3.8h-7.3zM214.7 802.2h3.8v3.8h-3.8zM127.7 798.7h3.8v3.8h-3.8zM134.7 798.7h3.8v3.8h-3.8zM207.8 798.7h3.8v3.8h-3.8zM124.3 795.2h7.3v3.8h-7.3zM134.7 795.2h7.3v3.8h-7.3zM131.2 791.7h3.8v3.8h-3.8zM138.2 791.7h3.8v3.8h-3.8zM127.7 788.3h14.2v3.8h-14.2zM200.8 788.3h3.8v3.8h-3.8zM127.7 784.8h7.3v3.8h-7.3zM197.3 784.8h3.8v3.8h-3.8zM197.3 781.3h3.8v3.8h-3.8zM124.3 777.8h7.3v3.8h-7.3zM124.3 774.4h3.8v3.8h-3.8zM193.8 774.4h3.8v3.8h-3.8zM124.3 770.9h3.8v3.8h-3.8zM193.8 770.9h3.8v3.8h-3.8zM193.8 767.4h3.8v3.8h-3.8zM193.8 763.9h3.8v3.8h-3.8zM193.8 760.4h3.8v3.8h-3.8zM110.4 757h3.8v3.8h-3.8zM193.8 757h3.8v3.8h-3.8zM106.9 753.5h7.3v3.8h-7.3zM110.4 750h3.8v3.8h-3.8zM190.4 750h10.7v3.8h-10.7zM113.8 746.5h7.3v3.8h-7.3zM193.8 746.5h7.3v3.8h-7.3zM197.3 743.1h3.8v3.8h-3.8zM148.6 739.6h3.8v3.8h-3.8zM169.5 739.6h3.8v3.8h-3.8zM176.4 739.6h3.8v3.8h-3.8zM186.9 739.6h3.8v3.8h-3.8zM200.8 739.6h3.8v3.8h-3.8zM179.9 736.1h3.8v3.8h-3.8zM200.8 736.1h7.3v3.8h-7.3zM204.3 732.6h3.8v3.8h-3.8zM190.4 729.2h3.8v3.8h-3.8zM204.3 729.2h3.8v3.8h-3.8zM190.4 725.7h7.3v3.8h-7.3zM204.3 725.7h3.8v3.8h-3.8zM207.8 722.2h3.8v3.8h-3.8zM207.8 718.7h3.8v3.8h-3.8zM207.8 715.2h3.8v3.8h-3.8zM190.4 708.3h3.8v3.8h-3.8zM211.2 704.8h3.8v3.8h-3.8zM211.2 701.3h3.8v3.8h-3.8zM211.2 697.9h3.8v3.8h-3.8zM214.7 694.4h3.8v3.8h-3.8zM204.3 690.9h3.8v3.8h-3.8zM214.7 690.9h3.8v3.8h-3.8zM211.2 687.4h7.3v3.8h-7.3z"/>
<path fill="#2f3dff" d="M159.1 830h3.8v3.8h-3.8zM106.9 826.5h3.8v3.8h-3.8zM148.6 819.6h7.3v3.8h-7.3zM127.7 816.1h7.3v3.8h-7.3zM131.2 812.6h3.8v3.8h-3.8zM124.3 809.1h3.8v3.8h-3.8zM131.2 809.1h7.3v3.8h-7.3zM127.7 805.6h7.3v3.8h-7.3zM124.3 802.2h3.8v3.8h-3.8zM131.2 802.2h3.8v3.8h-3.8zM124.3 798.7h3.8v3.8h-3.8zM211.2 798.7h3.8v3.8h-3.8zM124.3 791.7h3.8v3.8h-3.8zM204.3 791.7h3.8v3.8h-3.8zM263.4 791.7h3.8v3.8h-3.8zM124.3 788.3h3.8v3.8h-3.8zM124.3 784.8h3.8v3.8h-3.8zM200.8 784.8h3.8v3.8h-3.8zM266.9 784.8h3.8v3.8h-3.8zM124.3 781.3h3.8v3.8h-3.8zM197.3 777.8h3.8v3.8h-3.8zM197.3 774.4h3.8v3.8h-3.8zM273.9 774.4h3.8v3.8h-3.8zM120.8 770.9h3.8v3.8h-3.8zM270.4 770.9h7.3v3.8h-7.3zM117.3 767.4h3.8v3.8h-3.8zM270.4 767.4h10.7v3.8h-10.7zM270.4 763.9h7.3v3.8h-7.3zM106.9 760.4h7.3v3.8h-7.3zM273.9 760.4h7.3v3.8h-7.3zM106.9 757h3.8v3.8h-3.8zM273.9 757h7.3v3.8h-7.3zM197.3 753.5h3.8v3.8h-3.8zM273.9 753.5h3.8v3.8h-3.8zM106.9 750h3.8v3.8h-3.8zM106.9 746.5h7.3v3.8h-7.3zM124.3 743.1h7.3v3.8h-7.3zM200.8 743.1h3.8v3.8h-3.8zM152.1 739.6h3.8v3.8h-3.8zM162.5 739.6h7.3v3.8h-7.3zM173 739.6h3.8v3.8h-3.8zM176.4 736.1h3.8v3.8h-3.8zM179.9 732.6h3.8v3.8h-3.8zM207.8 732.6h3.8v3.8h-3.8zM183.4 729.2h7.3v3.8h-7.3zM190.4 722.2h3.8v3.8h-3.8zM190.4 718.7h3.8v3.8h-3.8zM190.4 711.8h3.8v3.8h-3.8zM211.2 711.8h3.8v3.8h-3.8zM211.2 708.3h3.8v3.8h-3.8zM190.4 704.8h3.8v3.8h-3.8zM197.3 697.9h3.8v3.8h-3.8zM214.7 697.9h3.8v3.8h-3.8zM200.8 694.4h3.8v3.8h-3.8zM207.8 687.4h3.8v3.8h-3.8zM218.2 687.4h3.8v3.8h-3.8zM214.7 684h3.8v3.8h-3.8zM301.7 652.7h3.8v3.8h-3.8zM319.1 621.4h3.8v3.8h-3.8zM308.6 565.7h3.8v3.8h-3.8zM253 562.3h7.3v3.8h-7.3zM301.7 562.3h10.7v3.8h-10.7zM305.2 558.8h3.8v3.8h-3.8zM301.7 555.3h7.3v3.8h-7.3zM273.9 551.8h3.8v3.8h-3.8zM280.8 551.8h3.8v3.8h-3.8zM298.2 548.4h3.8v3.8h-3.8z"/>
<path fill="#323eff" d="M155.6 833.5h3.8v3.8h-3.8zM106.9 830h3.8v3.8h-3.8zM110.4 826.5h3.8v3.8h-3.8zM106.9 823h10.7v3.8h-10.7zM155.6 823h3.8v3.8h-3.8zM232.1 823h3.8v3.8h-3.8zM106.9 819.6h7.3v3.8h-7.3zM117.3 819.6h7.3v3.8h-7.3zM232.1 819.6h3.8v3.8h-3.8zM106.9 816.1h3.8v3.8h-3.8zM120.8 816.1h7.3v3.8h-7.3zM117.3 812.6h7.3v3.8h-7.3zM127.7 812.6h3.8v3.8h-3.8zM228.6 812.6h3.8v3.8h-3.8zM120.8 809.1h3.8v3.8h-3.8zM127.7 809.1h3.8v3.8h-3.8zM120.8 805.6h7.3v3.8h-7.3zM221.7 805.6h3.8v3.8h-3.8zM120.8 802.2h3.8v3.8h-3.8zM218.2 802.2h7.3v3.8h-7.3zM120.8 798.7h3.8v3.8h-3.8zM207.8 795.2h3.8v3.8h-3.8zM259.9 795.2h3.8v3.8h-3.8zM259.9 791.7h3.8v3.8h-3.8zM204.3 788.3h3.8v3.8h-3.8zM263.4 788.3h7.3v3.8h-7.3zM200.8 781.3h3.8v3.8h-3.8zM266.9 781.3h3.8v3.8h-3.8zM270.4 777.8h3.8v3.8h-3.8zM120.8 774.4h3.8v3.8h-3.8zM197.3 770.9h3.8v3.8h-3.8zM197.3 767.4h3.8v3.8h-3.8zM106.9 763.9h3.8v3.8h-3.8zM113.8 763.9h3.8v3.8h-3.8zM197.3 763.9h3.8v3.8h-3.8zM277.3 763.9h3.8v3.8h-3.8zM197.3 760.4h3.8v3.8h-3.8zM270.4 760.4h3.8v3.8h-3.8zM197.3 757h3.8v3.8h-3.8zM270.4 757h3.8v3.8h-3.8zM270.4 753.5h3.8v3.8h-3.8zM273.9 750h3.8v3.8h-3.8zM200.8 746.5h3.8v3.8h-3.8zM110.4 743.1h7.3v3.8h-7.3zM120.8 743.1h3.8v3.8h-3.8zM155.6 739.6h7.3v3.8h-7.3zM173 736.1h3.8v3.8h-3.8zM179.9 729.2h3.8v3.8h-3.8zM207.8 729.2h3.8v3.8h-3.8zM183.4 725.7h7.3v3.8h-7.3zM207.8 725.7h3.8v3.8h-3.8zM186.9 722.2h3.8v3.8h-3.8zM190.4 715.2h3.8v3.8h-3.8zM211.2 715.2h3.8v3.8h-3.8zM186.9 711.8h3.8v3.8h-3.8zM186.9 708.3h3.8v3.8h-3.8zM193.8 701.3h3.8v3.8h-3.8zM218.2 694.4h3.8v3.8h-3.8zM211.2 684h3.8v3.8h-3.8zM218.2 684h3.8v3.8h-3.8zM218.2 680.5h3.8v3.8h-3.8zM301.7 649.2h3.8v3.8h-3.8zM305.2 642.2h3.8v3.8h-3.8zM305.2 638.8h7.3v3.8h-7.3zM315.6 624.8h3.8v3.8h-3.8zM315.6 621.4h3.8v3.8h-3.8zM315.6 617.9h7.3v3.8h-7.3zM315.6 614.4h3.8v3.8h-3.8zM315.6 610.9h3.8v3.8h-3.8zM315.6 604h3.8v3.8h-3.8zM312.1 583.1h7.3v3.8h-7.3zM308.6 579.6h10.7v3.8h-10.7zM305.2 572.7h3.8v3.8h-3.8zM312.1 572.7h3.8v3.8h-3.8zM308.6 569.2h7.3v3.8h-7.3zM298.2 565.7h3.8v3.8h-3.8zM305.2 565.7h3.8v3.8h-3.8zM259.9 562.3h3.8v3.8h-3.8zM294.7 558.8h10.7v3.8h-10.7zM273.9 555.3h10.7v3.8h-10.7zM291.3 555.3h10.7v3.8h-10.7zM277.3 551.8h3.8v3.8h-3.8zM284.3 551.8h3.8v3.8h-3.8zM291.3 551.8h14.2v3.8h-14.2zM287.8 548.4h7.3v3.8h-7.3zM298.2 544.9h3.8v3.8h-3.8z"/>
<path fill="#363eff" d="M110.4 836.9h3.8v3.8h-3.8zM110.4 830h3.8v3.8h-3.8zM155.6 830h3.8v3.8h-3.8zM155.6 826.5h3.8v3.8h-3.8zM113.8 819.6h3.8v3.8h-3.8zM124.3 819.6h7.3v3.8h-7.3zM110.4 816.1h3.8v3.8h-3.8zM117.3 816.1h3.8v3.8h-3.8zM232.1 816.1h3.8v3.8h-3.8zM110.4 812.6h7.3v3.8h-7.3zM124.3 812.6h3.8v3.8h-3.8zM117.3 809.1h3.8v3.8h-3.8zM225.2 809.1h3.8v3.8h-3.8zM214.7 798.7h3.8v3.8h-3.8zM120.8 795.2h3.8v3.8h-3.8zM120.8 791.7h3.8v3.8h-3.8zM207.8 791.7h3.8v3.8h-3.8zM259.9 788.3h3.8v3.8h-3.8zM263.4 784.8h3.8v3.8h-3.8zM120.8 781.3h3.8v3.8h-3.8zM120.8 777.8h3.8v3.8h-3.8zM266.9 777.8h3.8v3.8h-3.8zM266.9 774.4h7.3v3.8h-7.3zM266.9 770.9h3.8v3.8h-3.8zM113.8 767.4h3.8v3.8h-3.8zM266.9 767.4h3.8v3.8h-3.8zM110.4 763.9h3.8v3.8h-3.8zM266.9 760.4h3.8v3.8h-3.8zM266.9 757h3.8v3.8h-3.8zM200.8 750h3.8v3.8h-3.8zM270.4 750h3.8v3.8h-3.8zM270.4 746.5h3.8v3.8h-3.8zM106.9 743.1h3.8v3.8h-3.8zM117.3 743.1h3.8v3.8h-3.8zM124.3 739.6h10.7v3.8h-10.7zM204.3 739.6h3.8v3.8h-3.8zM138.2 736.1h3.8v3.8h-3.8zM169.5 736.1h3.8v3.8h-3.8zM207.8 736.1h3.8v3.8h-3.8zM176.4 732.6h3.8v3.8h-3.8zM179.9 725.7h3.8v3.8h-3.8zM186.9 718.7h3.8v3.8h-3.8zM211.2 718.7h3.8v3.8h-3.8zM186.9 715.2h3.8v3.8h-3.8zM186.9 704.8h3.8v3.8h-3.8zM214.7 704.8h3.8v3.8h-3.8zM190.4 701.3h3.8v3.8h-3.8zM214.7 701.3h3.8v3.8h-3.8zM218.2 690.9h3.8v3.8h-3.8zM204.3 687.4h3.8v3.8h-3.8zM214.7 680.5h3.8v3.8h-3.8zM221.7 677h3.8v3.8h-3.8zM221.7 673.5h3.8v3.8h-3.8zM298.2 656.1h3.8v3.8h-3.8zM298.2 652.7h3.8v3.8h-3.8zM301.7 645.7h3.8v3.8h-3.8zM301.7 642.2h3.8v3.8h-3.8zM305.2 635.3h7.3v3.8h-7.3zM308.6 631.8h3.8v3.8h-3.8zM308.6 628.3h10.7v3.8h-10.7zM308.6 624.8h7.3v3.8h-7.3zM312.1 621.4h3.8v3.8h-3.8zM312.1 617.9h3.8v3.8h-3.8zM312.1 610.9h3.8v3.8h-3.8zM312.1 607.5h7.3v3.8h-7.3zM312.1 604h3.8v3.8h-3.8zM312.1 600.5h7.3v3.8h-7.3zM315.6 597h3.8v3.8h-3.8zM315.6 593.6h3.8v3.8h-3.8zM312.1 586.6h7.3v3.8h-7.3zM308.6 583.1h3.8v3.8h-3.8zM305.2 576.2h10.7v3.8h-10.7zM301.7 569.2h7.3v3.8h-7.3zM253 565.7h7.3v3.8h-7.3zM301.7 565.7h3.8v3.8h-3.8zM263.4 562.3h3.8v3.8h-3.8zM294.7 562.3h7.3v3.8h-7.3zM291.3 558.8h3.8v3.8h-3.8zM284.3 555.3h7.3v3.8h-7.3zM287.8 551.8h3.8v3.8h-3.8zM294.7 548.4h3.8v3.8h-3.8z"/>
<path fill="#393fff" d="M113.8 826.5h3.8v3.8h-3.8zM117.3 823h3.8v3.8h-3.8zM131.2 819.6h17.7v3.8h-17.7zM113.8 816.1h3.8v3.8h-3.8zM106.9 812.6h3.8v3.8h-3.8zM106.9 809.1h3.8v3.8h-3.8zM113.8 809.1h3.8v3.8h-3.8zM117.3 805.6h3.8v3.8h-3.8zM225.2 805.6h3.8v3.8h-3.8zM225.2 802.2h3.8v3.8h-3.8zM218.2 798.7h3.8v3.8h-3.8zM256.5 798.7h3.8v3.8h-3.8zM211.2 795.2h3.8v3.8h-3.8zM256.5 795.2h3.8v3.8h-3.8zM256.5 791.7h3.8v3.8h-3.8zM120.8 788.3h3.8v3.8h-3.8zM120.8 784.8h3.8v3.8h-3.8zM204.3 784.8h3.8v3.8h-3.8zM263.4 781.3h3.8v3.8h-3.8zM200.8 777.8h3.8v3.8h-3.8zM200.8 774.4h3.8v3.8h-3.8zM117.3 770.9h3.8v3.8h-3.8zM200.8 770.9h3.8v3.8h-3.8zM106.9 767.4h3.8v3.8h-3.8zM266.9 763.9h3.8v3.8h-3.8zM200.8 753.5h3.8v3.8h-3.8zM266.9 753.5h3.8v3.8h-3.8zM204.3 743.1h3.8v3.8h-3.8zM106.9 739.6h3.8v3.8h-3.8zM120.8 739.6h3.8v3.8h-3.8zM141.7 736.1h7.3v3.8h-7.3zM159.1 736.1h10.7v3.8h-10.7zM173 732.6h3.8v3.8h-3.8zM211.2 729.2h3.8v3.8h-3.8zM211.2 725.7h3.8v3.8h-3.8zM183.4 708.3h3.8v3.8h-3.8zM214.7 708.3h3.8v3.8h-3.8zM193.8 697.9h3.8v3.8h-3.8zM218.2 697.9h3.8v3.8h-3.8zM197.3 694.4h3.8v3.8h-3.8zM200.8 690.9h3.8v3.8h-3.8zM221.7 687.4h3.8v3.8h-3.8zM207.8 684h3.8v3.8h-3.8zM221.7 684h3.8v3.8h-3.8zM221.7 680.5h3.8v3.8h-3.8zM218.2 677h3.8v3.8h-3.8zM221.7 670h3.8v3.8h-3.8zM294.7 656.1h3.8v3.8h-3.8zM298.2 649.2h3.8v3.8h-3.8zM298.2 645.7h3.8v3.8h-3.8zM298.2 642.2h3.8v3.8h-3.8zM301.7 638.8h3.8v3.8h-3.8zM301.7 635.3h3.8v3.8h-3.8zM301.7 631.8h7.3v3.8h-7.3zM305.2 628.3h3.8v3.8h-3.8zM308.6 621.4h3.8v3.8h-3.8zM312.1 614.4h3.8v3.8h-3.8zM312.1 597h3.8v3.8h-3.8zM312.1 593.6h3.8v3.8h-3.8zM312.1 590.1h7.3v3.8h-7.3zM308.6 586.6h3.8v3.8h-3.8zM305.2 579.6h3.8v3.8h-3.8zM301.7 572.7h3.8v3.8h-3.8zM308.6 572.7h3.8v3.8h-3.8zM298.2 569.2h3.8v3.8h-3.8zM259.9 565.7h3.8v3.8h-3.8zM266.9 562.3h3.8v3.8h-3.8zM287.8 558.8h3.8v3.8h-3.8z"/>
<path fill="#3c40ff" d="M110.4 833.5h3.8v3.8h-3.8zM152.1 823h3.8v3.8h-3.8zM110.4 809.1h3.8v3.8h-3.8zM106.9 805.6h3.8v3.8h-3.8zM113.8 805.6h3.8v3.8h-3.8zM117.3 802.2h3.8v3.8h-3.8zM117.3 798.7h3.8v3.8h-3.8zM221.7 798.7h3.8v3.8h-3.8zM214.7 795.2h3.8v3.8h-3.8zM207.8 788.3h3.8v3.8h-3.8zM259.9 784.8h3.8v3.8h-3.8zM263.4 777.8h3.8v3.8h-3.8zM266.9 750h3.8v3.8h-3.8zM110.4 739.6h3.8v3.8h-3.8zM117.3 739.6h3.8v3.8h-3.8zM124.3 736.1h3.8v3.8h-3.8zM134.7 736.1h3.8v3.8h-3.8zM211.2 732.6h3.8v3.8h-3.8zM176.4 729.2h3.8v3.8h-3.8zM179.9 722.2h7.3v3.8h-7.3zM211.2 722.2h3.8v3.8h-3.8zM183.4 718.7h3.8v3.8h-3.8zM183.4 711.8h3.8v3.8h-3.8zM214.7 711.8h3.8v3.8h-3.8zM218.2 701.3h3.8v3.8h-3.8zM221.7 694.4h3.8v3.8h-3.8zM221.7 690.9h3.8v3.8h-3.8zM225.2 684h3.8v3.8h-3.8zM211.2 680.5h3.8v3.8h-3.8zM225.2 680.5h3.8v3.8h-3.8zM225.2 677h3.8v3.8h-3.8zM225.2 673.5h3.8v3.8h-3.8zM225.2 670h3.8v3.8h-3.8zM294.7 652.7h3.8v3.8h-3.8zM298.2 638.8h3.8v3.8h-3.8zM298.2 635.3h3.8v3.8h-3.8zM301.7 628.3h3.8v3.8h-3.8zM305.2 624.8h3.8v3.8h-3.8zM308.6 617.9h3.8v3.8h-3.8zM308.6 590.1h3.8v3.8h-3.8zM305.2 583.1h3.8v3.8h-3.8zM301.7 576.2h3.8v3.8h-3.8zM294.7 565.7h3.8v3.8h-3.8z"/>
<path fill="#4040ff" d="M152.1 833.5h3.8v3.8h-3.8zM232.1 812.6h3.8v3.8h-3.8zM228.6 809.1h3.8v3.8h-3.8zM253 802.2h3.8v3.8h-3.8zM253 798.7h3.8v3.8h-3.8zM253 795.2h3.8v3.8h-3.8zM211.2 791.7h3.8v3.8h-3.8zM256.5 788.3h3.8v3.8h-3.8zM204.3 781.3h3.8v3.8h-3.8zM117.3 774.4h3.8v3.8h-3.8zM263.4 774.4h3.8v3.8h-3.8zM263.4 770.9h3.8v3.8h-3.8zM110.4 767.4h3.8v3.8h-3.8zM200.8 767.4h3.8v3.8h-3.8zM263.4 767.4h3.8v3.8h-3.8zM200.8 757h3.8v3.8h-3.8zM204.3 746.5h3.8v3.8h-3.8zM266.9 746.5h3.8v3.8h-3.8zM113.8 739.6h3.8v3.8h-3.8zM207.8 739.6h3.8v3.8h-3.8zM117.3 736.1h7.3v3.8h-7.3zM152.1 736.1h7.3v3.8h-7.3zM211.2 736.1h3.8v3.8h-3.8zM169.5 732.6h3.8v3.8h-3.8zM214.7 729.2h3.8v3.8h-3.8zM176.4 725.7h3.8v3.8h-3.8zM183.4 715.2h3.8v3.8h-3.8zM214.7 715.2h3.8v3.8h-3.8zM183.4 704.8h3.8v3.8h-3.8zM214.7 677h3.8v3.8h-3.8zM218.2 673.5h3.8v3.8h-3.8zM294.7 649.2h3.8v3.8h-3.8zM294.7 645.7h3.8v3.8h-3.8zM298.2 631.8h3.8v3.8h-3.8zM298.2 628.3h3.8v3.8h-3.8zM308.6 614.4h3.8v3.8h-3.8zM200.8 597h3.8v3.8h-3.8zM204.3 593.6h3.8v3.8h-3.8zM308.6 593.6h3.8v3.8h-3.8zM305.2 586.6h3.8v3.8h-3.8zM301.7 579.6h3.8v3.8h-3.8zM298.2 572.7h3.8v3.8h-3.8zM263.4 565.7h3.8v3.8h-3.8zM270.4 562.3h3.8v3.8h-3.8zM291.3 562.3h3.8v3.8h-3.8zM277.3 558.8h10.7v3.8h-10.7z"/>
<path fill="#4440ff" d="M113.8 836.9h3.8v3.8h-3.8zM113.8 830h3.8v3.8h-3.8zM120.8 823h3.8v3.8h-3.8zM235.6 819.6h3.8v3.8h-3.8zM110.4 805.6h3.8v3.8h-3.8zM228.6 805.6h3.8v3.8h-3.8zM228.6 802.2h3.8v3.8h-3.8zM225.2 798.7h3.8v3.8h-3.8zM117.3 795.2h3.8v3.8h-3.8zM218.2 795.2h3.8v3.8h-3.8zM253 791.7h3.8v3.8h-3.8zM113.8 770.9h3.8v3.8h-3.8zM200.8 763.9h3.8v3.8h-3.8zM263.4 763.9h3.8v3.8h-3.8zM200.8 760.4h3.8v3.8h-3.8zM204.3 750h3.8v3.8h-3.8zM106.9 736.1h3.8v3.8h-3.8zM127.7 736.1h7.3v3.8h-7.3zM148.6 736.1h3.8v3.8h-3.8zM166 732.6h3.8v3.8h-3.8zM214.7 732.6h3.8v3.8h-3.8zM173 729.2h3.8v3.8h-3.8zM214.7 725.7h3.8v3.8h-3.8zM214.7 718.7h3.8v3.8h-3.8zM179.9 708.3h3.8v3.8h-3.8zM218.2 708.3h3.8v3.8h-3.8zM218.2 704.8h3.8v3.8h-3.8zM186.9 701.3h3.8v3.8h-3.8zM190.4 697.9h3.8v3.8h-3.8zM221.7 697.9h3.8v3.8h-3.8zM193.8 694.4h3.8v3.8h-3.8zM225.2 687.4h3.8v3.8h-3.8zM204.3 684h3.8v3.8h-3.8zM225.2 666.6h3.8v3.8h-3.8zM291.3 659.6h3.8v3.8h-3.8zM291.3 656.1h3.8v3.8h-3.8zM294.7 642.2h3.8v3.8h-3.8zM294.7 638.8h3.8v3.8h-3.8zM294.7 631.8h3.8v3.8h-3.8zM294.7 628.3h3.8v3.8h-3.8zM305.2 621.4h3.8v3.8h-3.8zM308.6 607.5h3.8v3.8h-3.8zM308.6 604h3.8v3.8h-3.8zM308.6 600.5h3.8v3.8h-3.8zM308.6 597h3.8v3.8h-3.8zM207.8 590.1h3.8v3.8h-3.8zM301.7 583.1h3.8v3.8h-3.8zM298.2 576.2h3.8v3.8h-3.8zM249.5 569.2h10.7v3.8h-10.7z"/>
<path fill="#4840ff" d="M235.6 816.1h3.8v3.8h-3.8zM249.5 805.6h3.8v3.8h-3.8zM106.9 802.2h3.8v3.8h-3.8zM113.8 802.2h3.8v3.8h-3.8zM228.6 798.7h3.8v3.8h-3.8zM117.3 791.7h3.8v3.8h-3.8zM214.7 791.7h3.8v3.8h-3.8zM253 788.3h3.8v3.8h-3.8zM207.8 784.8h3.8v3.8h-3.8zM256.5 784.8h3.8v3.8h-3.8zM259.9 781.3h3.8v3.8h-3.8zM117.3 777.8h3.8v3.8h-3.8zM263.4 760.4h3.8v3.8h-3.8zM263.4 757h3.8v3.8h-3.8zM204.3 753.5h3.8v3.8h-3.8zM263.4 753.5h3.8v3.8h-3.8zM263.4 750h3.8v3.8h-3.8zM110.4 736.1h7.3v3.8h-7.3zM214.7 736.1h7.3v3.8h-7.3zM120.8 732.6h3.8v3.8h-3.8zM218.2 732.6h3.8v3.8h-3.8zM214.7 722.2h3.8v3.8h-3.8zM179.9 718.7h3.8v3.8h-3.8zM179.9 711.8h3.8v3.8h-3.8zM218.2 711.8h3.8v3.8h-3.8zM197.3 690.9h3.8v3.8h-3.8zM200.8 687.4h3.8v3.8h-3.8zM228.6 684h3.8v3.8h-3.8zM228.6 680.5h3.8v3.8h-3.8zM228.6 677h3.8v3.8h-3.8zM214.7 673.5h3.8v3.8h-3.8zM228.6 673.5h3.8v3.8h-3.8zM228.6 670h3.8v3.8h-3.8zM221.7 666.6h3.8v3.8h-3.8zM287.8 663.1h3.8v3.8h-3.8zM291.3 652.7h3.8v3.8h-3.8zM291.3 649.2h3.8v3.8h-3.8zM294.7 635.3h3.8v3.8h-3.8zM308.6 610.9h3.8v3.8h-3.8zM305.2 590.1h3.8v3.8h-3.8zM214.7 586.6h3.8v3.8h-3.8zM298.2 579.6h3.8v3.8h-3.8zM294.7 569.2h3.8v3.8h-3.8zM266.9 565.7h3.8v3.8h-3.8z"/>
<path fill="#4c40ff" d="M152.1 830h3.8v3.8h-3.8zM117.3 826.5h3.8v3.8h-3.8zM232.1 809.1h3.8v3.8h-3.8zM221.7 795.2h3.8v3.8h-3.8zM117.3 788.3h3.8v3.8h-3.8zM211.2 788.3h3.8v3.8h-3.8zM204.3 777.8h3.8v3.8h-3.8zM259.9 777.8h3.8v3.8h-3.8zM110.4 770.9h3.8v3.8h-3.8zM263.4 746.5h3.8v3.8h-3.8zM207.8 743.1h3.8v3.8h-3.8zM117.3 732.6h3.8v3.8h-3.8zM124.3 732.6h3.8v3.8h-3.8zM162.5 732.6h3.8v3.8h-3.8zM218.2 729.2h3.8v3.8h-3.8zM173 725.7h3.8v3.8h-3.8zM176.4 722.2h3.8v3.8h-3.8zM218.2 718.7h3.8v3.8h-3.8zM218.2 715.2h3.8v3.8h-3.8zM221.7 711.8h3.8v3.8h-3.8zM221.7 701.3h3.8v3.8h-3.8zM225.2 694.4h3.8v3.8h-3.8zM225.2 690.9h3.8v3.8h-3.8zM207.8 680.5h3.8v3.8h-3.8zM218.2 670h3.8v3.8h-3.8zM228.6 666.6h3.8v3.8h-3.8zM284.3 663.1h3.8v3.8h-3.8zM287.8 659.6h3.8v3.8h-3.8zM291.3 645.7h3.8v3.8h-3.8zM291.3 642.2h3.8v3.8h-3.8zM291.3 628.3h3.8v3.8h-3.8zM291.3 624.8h3.8v3.8h-3.8zM301.7 624.8h3.8v3.8h-3.8zM305.2 617.9h3.8v3.8h-3.8zM200.8 600.5h3.8v3.8h-3.8zM207.8 593.6h3.8v3.8h-3.8zM211.2 590.1h3.8v3.8h-3.8zM228.6 579.6h3.8v3.8h-3.8zM242.5 572.7h3.8v3.8h-3.8zM259.9 569.2h3.8v3.8h-3.8zM273.9 562.3h3.8v3.8h-3.8z"/>
<path fill="#5040ff" d="M113.8 833.5h3.8v3.8h-3.8zM152.1 826.5h3.8v3.8h-3.8zM148.6 823h3.8v3.8h-3.8zM235.6 812.6h3.8v3.8h-3.8zM110.4 802.2h3.8v3.8h-3.8zM232.1 802.2h3.8v3.8h-3.8zM249.5 802.2h3.8v3.8h-3.8zM232.1 798.7h7.3v3.8h-7.3zM249.5 795.2h3.8v3.8h-3.8zM117.3 784.8h3.8v3.8h-3.8zM117.3 781.3h3.8v3.8h-3.8zM204.3 774.4h3.8v3.8h-3.8zM259.9 774.4h3.8v3.8h-3.8zM259.9 770.9h3.8v3.8h-3.8zM259.9 767.4h3.8v3.8h-3.8zM259.9 763.9h3.8v3.8h-3.8zM106.9 732.6h3.8v3.8h-3.8zM127.7 732.6h3.8v3.8h-3.8zM155.6 732.6h7.3v3.8h-7.3zM270.4 722.2h3.8v3.8h-3.8zM179.9 715.2h3.8v3.8h-3.8zM221.7 715.2h3.8v3.8h-3.8zM221.7 708.3h3.8v3.8h-3.8zM179.9 704.8h3.8v3.8h-3.8zM221.7 704.8h3.8v3.8h-3.8zM183.4 701.3h3.8v3.8h-3.8zM186.9 697.9h3.8v3.8h-3.8zM225.2 697.9h3.8v3.8h-3.8zM200.8 684h3.8v3.8h-3.8zM211.2 677h3.8v3.8h-3.8zM280.8 677h3.8v3.8h-3.8zM280.8 673.5h3.8v3.8h-3.8zM228.6 663.1h3.8v3.8h-3.8zM287.8 656.1h3.8v3.8h-3.8zM287.8 652.7h3.8v3.8h-3.8zM287.8 649.2h3.8v3.8h-3.8zM287.8 645.7h3.8v3.8h-3.8zM291.3 638.8h3.8v3.8h-3.8zM291.3 631.8h3.8v3.8h-3.8zM298.2 624.8h3.8v3.8h-3.8zM287.8 621.4h3.8v3.8h-3.8zM305.2 614.4h3.8v3.8h-3.8zM197.3 604h3.8v3.8h-3.8zM204.3 597h3.8v3.8h-3.8zM218.2 586.6h3.8v3.8h-3.8zM225.2 583.1h3.8v3.8h-3.8zM239.1 572.7h3.8v3.8h-3.8zM287.8 562.3h3.8v3.8h-3.8z"/>
<path fill="#5d40ff" d="M145.1 836.9h3.8v3.8h-3.8zM232.1 805.6h3.8v3.8h-3.8zM106.9 798.7h3.8v3.8h-3.8zM113.8 798.7h3.8v3.8h-3.8zM249.5 798.7h3.8v3.8h-3.8zM225.2 795.2h3.8v3.8h-3.8zM218.2 791.7h3.8v3.8h-3.8zM249.5 791.7h3.8v3.8h-3.8zM253 784.8h3.8v3.8h-3.8zM256.5 781.3h3.8v3.8h-3.8zM113.8 774.4h3.8v3.8h-3.8zM204.3 770.9h3.8v3.8h-3.8zM211.2 739.6h3.8v3.8h-3.8zM221.7 736.1h3.8v3.8h-3.8zM110.4 732.6h7.3v3.8h-7.3zM145.1 732.6h3.8v3.8h-3.8zM152.1 732.6h3.8v3.8h-3.8zM221.7 732.6h3.8v3.8h-3.8zM169.5 729.2h3.8v3.8h-3.8zM218.2 725.7h3.8v3.8h-3.8zM218.2 722.2h3.8v3.8h-3.8zM176.4 718.7h3.8v3.8h-3.8zM221.7 718.7h3.8v3.8h-3.8zM176.4 708.3h3.8v3.8h-3.8zM190.4 694.4h3.8v3.8h-3.8zM197.3 687.4h3.8v3.8h-3.8zM228.6 687.4h3.8v3.8h-3.8zM232.1 684h3.8v3.8h-3.8zM204.3 680.5h3.8v3.8h-3.8zM277.3 680.5h3.8v3.8h-3.8zM214.7 670h3.8v3.8h-3.8zM280.8 666.6h3.8v3.8h-3.8zM225.2 663.1h3.8v3.8h-3.8zM284.3 659.6h3.8v3.8h-3.8zM287.8 642.2h3.8v3.8h-3.8zM291.3 635.3h3.8v3.8h-3.8zM287.8 624.8h3.8v3.8h-3.8zM294.7 624.8h3.8v3.8h-3.8zM301.7 621.4h3.8v3.8h-3.8zM214.7 590.1h3.8v3.8h-3.8zM301.7 586.6h3.8v3.8h-3.8zM298.2 583.1h3.8v3.8h-3.8zM235.6 576.2h3.8v3.8h-3.8zM246 572.7h3.8v3.8h-3.8zM294.7 572.7h3.8v3.8h-3.8zM263.4 569.2h3.8v3.8h-3.8zM291.3 565.7h3.8v3.8h-3.8z"/>
<path fill="#6b40ff" d="M117.3 836.9h3.8v3.8h-3.8zM124.3 823h3.8v3.8h-3.8zM235.6 809.1h3.8v3.8h-3.8zM113.8 795.2h3.8v3.8h-3.8zM246 795.2h3.8v3.8h-3.8zM214.7 788.3h3.8v3.8h-3.8zM249.5 788.3h3.8v3.8h-3.8zM211.2 784.8h3.8v3.8h-3.8zM207.8 781.3h3.8v3.8h-3.8zM204.3 757h3.8v3.8h-3.8zM207.8 746.5h3.8v3.8h-3.8zM138.2 732.6h7.3v3.8h-7.3zM148.6 732.6h3.8v3.8h-3.8zM106.9 729.2h3.8v3.8h-3.8zM120.8 729.2h3.8v3.8h-3.8zM166 729.2h3.8v3.8h-3.8zM221.7 729.2h3.8v3.8h-3.8zM173 722.2h3.8v3.8h-3.8zM221.7 722.2h3.8v3.8h-3.8zM225.2 701.3h3.8v3.8h-3.8zM193.8 690.9h3.8v3.8h-3.8zM228.6 690.9h3.8v3.8h-3.8zM277.3 684h3.8v3.8h-3.8zM232.1 680.5h3.8v3.8h-3.8zM232.1 677h3.8v3.8h-3.8zM277.3 673.5h3.8v3.8h-3.8zM218.2 666.6h3.8v3.8h-3.8zM280.8 663.1h3.8v3.8h-3.8zM148.6 656.1h3.8v3.8h-3.8zM284.3 656.1h3.8v3.8h-3.8zM152.1 652.7h3.8v3.8h-3.8zM284.3 652.7h3.8v3.8h-3.8zM284.3 649.2h3.8v3.8h-3.8zM284.3 645.7h3.8v3.8h-3.8zM287.8 631.8h3.8v3.8h-3.8zM287.8 628.3h3.8v3.8h-3.8zM284.3 624.8h3.8v3.8h-3.8zM291.3 621.4h3.8v3.8h-3.8zM284.3 610.9h3.8v3.8h-3.8zM305.2 593.6h3.8v3.8h-3.8zM294.7 576.2h3.8v3.8h-3.8zM249.5 572.7h3.8v3.8h-3.8zM270.4 565.7h3.8v3.8h-3.8z"/>
<path fill="#7840ff" d="M117.3 830h3.8v3.8h-3.8zM239.1 812.6h3.8v3.8h-3.8zM110.4 798.7h3.8v3.8h-3.8zM239.1 798.7h3.8v3.8h-3.8zM106.9 795.2h3.8v3.8h-3.8zM228.6 795.2h3.8v3.8h-3.8zM235.6 795.2h10.7v3.8h-10.7zM221.7 791.7h3.8v3.8h-3.8zM246 791.7h3.8v3.8h-3.8zM259.9 760.4h3.8v3.8h-3.8zM259.9 757h3.8v3.8h-3.8zM259.9 753.5h3.8v3.8h-3.8zM259.9 750h3.8v3.8h-3.8zM259.9 746.5h3.8v3.8h-3.8zM214.7 739.6h3.8v3.8h-3.8zM263.4 736.1h3.8v3.8h-3.8zM131.2 732.6h7.3v3.8h-7.3zM263.4 732.6h3.8v3.8h-3.8zM117.3 729.2h3.8v3.8h-3.8zM124.3 729.2h3.8v3.8h-3.8zM162.5 729.2h3.8v3.8h-3.8zM169.5 725.7h3.8v3.8h-3.8zM221.7 725.7h3.8v3.8h-3.8zM266.9 722.2h3.8v3.8h-3.8zM176.4 715.2h3.8v3.8h-3.8zM225.2 715.2h3.8v3.8h-3.8zM176.4 711.8h3.8v3.8h-3.8zM176.4 704.8h3.8v3.8h-3.8zM179.9 701.3h3.8v3.8h-3.8zM183.4 697.9h3.8v3.8h-3.8zM228.6 694.4h3.8v3.8h-3.8zM232.1 687.4h3.8v3.8h-3.8zM124.3 677h3.8v3.8h-3.8zM207.8 677h3.8v3.8h-3.8zM277.3 677h3.8v3.8h-3.8zM131.2 673.5h3.8v3.8h-3.8zM211.2 673.5h3.8v3.8h-3.8zM232.1 673.5h3.8v3.8h-3.8zM232.1 670h3.8v3.8h-3.8zM277.3 670h3.8v3.8h-3.8zM232.1 666.6h3.8v3.8h-3.8zM232.1 663.1h3.8v3.8h-3.8zM228.6 659.6h7.3v3.8h-7.3zM239.1 649.2h3.8v3.8h-3.8zM280.8 649.2h3.8v3.8h-3.8zM280.8 645.7h3.8v3.8h-3.8zM280.8 642.2h7.3v3.8h-7.3zM287.8 638.8h3.8v3.8h-3.8zM287.8 635.3h3.8v3.8h-3.8zM284.3 628.3h3.8v3.8h-3.8zM284.3 621.4h3.8v3.8h-3.8zM284.3 617.9h7.3v3.8h-7.3zM301.7 617.9h3.8v3.8h-3.8zM284.3 614.4h3.8v3.8h-3.8zM305.2 610.9h3.8v3.8h-3.8zM284.3 607.5h3.8v3.8h-3.8zM305.2 607.5h3.8v3.8h-3.8zM280.8 604h7.3v3.8h-7.3zM305.2 597h3.8v3.8h-3.8zM211.2 593.6h3.8v3.8h-3.8zM221.7 586.6h3.8v3.8h-3.8zM232.1 579.6h3.8v3.8h-3.8zM294.7 579.6h3.8v3.8h-3.8zM253 572.7h7.3v3.8h-7.3zM277.3 562.3h10.7v3.8h-10.7z"/>
<path fill="#8c40ff" d="M148.6 833.5h3.8v3.8h-3.8zM145.1 823h3.8v3.8h-3.8zM235.6 805.6h3.8v3.8h-3.8zM246 805.6h3.8v3.8h-3.8zM235.6 802.2h3.8v3.8h-3.8zM246 798.7h3.8v3.8h-3.8zM232.1 795.2h3.8v3.8h-3.8zM249.5 784.8h3.8v3.8h-3.8zM113.8 777.8h3.8v3.8h-3.8zM256.5 777.8h3.8v3.8h-3.8zM110.4 774.4h3.8v3.8h-3.8zM256.5 774.4h3.8v3.8h-3.8zM256.5 770.9h3.8v3.8h-3.8zM204.3 767.4h3.8v3.8h-3.8zM256.5 767.4h3.8v3.8h-3.8zM204.3 763.9h3.8v3.8h-3.8zM204.3 760.4h3.8v3.8h-3.8zM207.8 750h3.8v3.8h-3.8zM218.2 739.6h3.8v3.8h-3.8zM110.4 729.2h7.3v3.8h-7.3zM155.6 729.2h7.3v3.8h-7.3zM225.2 718.7h3.8v3.8h-3.8zM270.4 718.7h3.8v3.8h-3.8zM225.2 711.8h3.8v3.8h-3.8zM173 708.3h3.8v3.8h-3.8zM225.2 708.3h3.8v3.8h-3.8zM225.2 704.8h3.8v3.8h-3.8zM228.6 697.9h3.8v3.8h-3.8zM232.1 690.9h3.8v3.8h-3.8zM193.8 687.4h3.8v3.8h-3.8zM197.3 684h3.8v3.8h-3.8zM200.8 680.5h3.8v3.8h-3.8zM273.9 677h3.8v3.8h-3.8zM134.7 670h3.8v3.8h-3.8zM138.2 666.6h3.8v3.8h-3.8zM277.3 666.6h3.8v3.8h-3.8zM221.7 663.1h3.8v3.8h-3.8zM277.3 663.1h3.8v3.8h-3.8zM280.8 659.6h3.8v3.8h-3.8zM232.1 656.1h7.3v3.8h-7.3zM235.6 652.7h3.8v3.8h-3.8zM280.8 652.7h3.8v3.8h-3.8zM239.1 645.7h3.8v3.8h-3.8zM277.3 645.7h3.8v3.8h-3.8zM280.8 638.8h7.3v3.8h-7.3zM284.3 635.3h3.8v3.8h-3.8zM284.3 631.8h3.8v3.8h-3.8zM294.7 621.4h7.3v3.8h-7.3zM280.8 617.9h3.8v3.8h-3.8zM291.3 617.9h3.8v3.8h-3.8zM280.8 610.9h3.8v3.8h-3.8zM197.3 607.5h3.8v3.8h-3.8zM280.8 607.5h3.8v3.8h-3.8zM200.8 604h3.8v3.8h-3.8zM277.3 604h3.8v3.8h-3.8zM305.2 604h3.8v3.8h-3.8zM204.3 600.5h3.8v3.8h-3.8zM280.8 600.5h7.3v3.8h-7.3zM305.2 600.5h3.8v3.8h-3.8zM207.8 597h3.8v3.8h-3.8zM218.2 590.1h3.8v3.8h-3.8zM301.7 590.1h3.8v3.8h-3.8zM239.1 576.2h3.8v3.8h-3.8zM259.9 572.7h3.8v3.8h-3.8zM266.9 569.2h3.8v3.8h-3.8z"/>
<path fill="#a040ff" d="M127.7 823h3.8v3.8h-3.8zM239.1 809.1h7.3v3.8h-7.3zM242.5 798.7h3.8v3.8h-3.8zM106.9 791.7h3.8v3.8h-3.8zM113.8 791.7h3.8v3.8h-3.8zM225.2 791.7h3.8v3.8h-3.8zM242.5 791.7h3.8v3.8h-3.8zM218.2 788.3h3.8v3.8h-3.8zM246 788.3h3.8v3.8h-3.8zM253 781.3h3.8v3.8h-3.8zM256.5 763.9h3.8v3.8h-3.8zM259.9 743.1h3.8v3.8h-3.8zM225.2 732.6h3.8v3.8h-3.8zM148.6 729.2h7.3v3.8h-7.3zM225.2 725.7h3.8v3.8h-3.8zM225.2 722.2h3.8v3.8h-3.8zM173 718.7h3.8v3.8h-3.8zM266.9 718.7h3.8v3.8h-3.8zM173 711.8h3.8v3.8h-3.8zM186.9 694.4h3.8v3.8h-3.8zM190.4 690.9h3.8v3.8h-3.8zM235.6 687.4h3.8v3.8h-3.8zM273.9 680.5h3.8v3.8h-3.8zM225.2 659.6h3.8v3.8h-3.8zM235.6 659.6h3.8v3.8h-3.8zM277.3 659.6h3.8v3.8h-3.8zM277.3 656.1h7.3v3.8h-7.3zM239.1 652.7h3.8v3.8h-3.8zM235.6 649.2h3.8v3.8h-3.8zM273.9 649.2h7.3v3.8h-7.3zM242.5 645.7h3.8v3.8h-3.8zM270.4 645.7h7.3v3.8h-7.3zM277.3 642.2h3.8v3.8h-3.8zM280.8 635.3h3.8v3.8h-3.8zM280.8 624.8h3.8v3.8h-3.8zM280.8 621.4h3.8v3.8h-3.8zM277.3 617.9h3.8v3.8h-3.8zM280.8 614.4h3.8v3.8h-3.8zM287.8 614.4h3.8v3.8h-3.8zM301.7 614.4h3.8v3.8h-3.8zM193.8 610.9h3.8v3.8h-3.8zM277.3 607.5h3.8v3.8h-3.8zM214.7 593.6h3.8v3.8h-3.8zM298.2 586.6h3.8v3.8h-3.8zM228.6 583.1h3.8v3.8h-3.8zM294.7 583.1h3.8v3.8h-3.8zM263.4 572.7h3.8v3.8h-3.8z"/>
<path fill="#b440ff" d="M141.7 836.9h3.8v3.8h-3.8zM131.2 823h3.8v3.8h-3.8zM239.1 802.2h3.8v3.8h-3.8zM246 802.2h3.8v3.8h-3.8zM110.4 795.2h3.8v3.8h-3.8zM239.1 791.7h3.8v3.8h-3.8zM106.9 788.3h3.8v3.8h-3.8zM106.9 784.8h3.8v3.8h-3.8zM106.9 781.3h3.8v3.8h-3.8zM113.8 781.3h3.8v3.8h-3.8zM207.8 777.8h3.8v3.8h-3.8zM256.5 760.4h3.8v3.8h-3.8zM207.8 753.5h3.8v3.8h-3.8zM256.5 753.5h3.8v3.8h-3.8zM256.5 750h3.8v3.8h-3.8zM211.2 743.1h3.8v3.8h-3.8zM127.7 729.2h3.8v3.8h-3.8zM141.7 729.2h3.8v3.8h-3.8zM225.2 729.2h3.8v3.8h-3.8zM152.1 725.7h3.8v3.8h-3.8zM166 725.7h3.8v3.8h-3.8zM169.5 722.2h3.8v3.8h-3.8zM263.4 722.2h3.8v3.8h-3.8zM173 715.2h3.8v3.8h-3.8zM270.4 715.2h3.8v3.8h-3.8zM176.4 701.3h3.8v3.8h-3.8zM228.6 701.3h3.8v3.8h-3.8zM235.6 684h3.8v3.8h-3.8zM273.9 684h3.8v3.8h-3.8zM204.3 677h3.8v3.8h-3.8zM259.9 677h3.8v3.8h-3.8zM207.8 673.5h3.8v3.8h-3.8zM273.9 673.5h3.8v3.8h-3.8zM211.2 670h3.8v3.8h-3.8zM214.7 666.6h3.8v3.8h-3.8zM228.6 656.1h3.8v3.8h-3.8zM232.1 652.7h3.8v3.8h-3.8zM266.9 652.7h3.8v3.8h-3.8zM273.9 652.7h7.3v3.8h-7.3zM242.5 649.2h3.8v3.8h-3.8zM259.9 649.2h14.2v3.8h-14.2zM259.9 645.7h7.3v3.8h-7.3zM242.5 642.2h3.8v3.8h-3.8zM256.5 642.2h10.7v3.8h-10.7zM270.4 642.2h7.3v3.8h-7.3zM256.5 638.8h3.8v3.8h-3.8zM277.3 638.8h3.8v3.8h-3.8zM277.3 635.3h3.8v3.8h-3.8zM280.8 631.8h3.8v3.8h-3.8zM280.8 628.3h3.8v3.8h-3.8zM277.3 621.4h3.8v3.8h-3.8zM270.4 617.9h7.3v3.8h-7.3zM294.7 617.9h7.3v3.8h-7.3zM266.9 614.4h3.8v3.8h-3.8zM277.3 614.4h3.8v3.8h-3.8zM287.8 610.9h3.8v3.8h-3.8zM225.2 586.6h3.8v3.8h-3.8zM242.5 576.2h3.8v3.8h-3.8zM291.3 569.2h3.8v3.8h-3.8zM273.9 565.7h3.8v3.8h-3.8z"/>
<path fill="#c840ff" d="M120.8 836.9h3.8v3.8h-3.8zM117.3 833.5h3.8v3.8h-3.8zM120.8 826.5h3.8v3.8h-3.8zM134.7 823h7.3v3.8h-7.3zM242.5 805.6h3.8v3.8h-3.8zM242.5 802.2h3.8v3.8h-3.8zM235.6 791.7h3.8v3.8h-3.8zM221.7 788.3h3.8v3.8h-3.8zM113.8 784.8h3.8v3.8h-3.8zM246 784.8h3.8v3.8h-3.8zM249.5 781.3h3.8v3.8h-3.8zM110.4 777.8h3.8v3.8h-3.8zM253 777.8h3.8v3.8h-3.8zM253 774.4h3.8v3.8h-3.8zM253 770.9h3.8v3.8h-3.8zM249.5 753.5h7.3v3.8h-7.3zM249.5 750h7.3v3.8h-7.3zM256.5 746.5h3.8v3.8h-3.8zM221.7 739.6h3.8v3.8h-3.8zM259.9 739.6h3.8v3.8h-3.8zM225.2 736.1h3.8v3.8h-3.8zM145.1 729.2h3.8v3.8h-3.8zM106.9 725.7h3.8v3.8h-3.8zM120.8 725.7h3.8v3.8h-3.8zM155.6 725.7h10.7v3.8h-10.7zM228.6 715.2h3.8v3.8h-3.8zM228.6 708.3h3.8v3.8h-3.8zM173 704.8h3.8v3.8h-3.8zM228.6 704.8h3.8v3.8h-3.8zM179.9 697.9h3.8v3.8h-3.8zM232.1 694.4h3.8v3.8h-3.8zM235.6 690.9h3.8v3.8h-3.8zM273.9 690.9h3.8v3.8h-3.8zM273.9 687.4h3.8v3.8h-3.8zM193.8 684h3.8v3.8h-3.8zM120.8 680.5h3.8v3.8h-3.8zM197.3 680.5h3.8v3.8h-3.8zM235.6 680.5h3.8v3.8h-3.8zM256.5 677h3.8v3.8h-3.8zM259.9 673.5h3.8v3.8h-3.8zM235.6 670h3.8v3.8h-3.8zM235.6 666.6h3.8v3.8h-3.8zM273.9 666.6h3.8v3.8h-3.8zM218.2 663.1h3.8v3.8h-3.8zM235.6 663.1h3.8v3.8h-3.8zM273.9 663.1h3.8v3.8h-3.8zM259.9 659.6h3.8v3.8h-3.8zM273.9 659.6h3.8v3.8h-3.8zM239.1 656.1h3.8v3.8h-3.8zM256.5 656.1h10.7v3.8h-10.7zM270.4 656.1h7.3v3.8h-7.3zM256.5 652.7h10.7v3.8h-10.7zM270.4 652.7h3.8v3.8h-3.8zM256.5 645.7h3.8v3.8h-3.8zM266.9 645.7h3.8v3.8h-3.8zM239.1 642.2h3.8v3.8h-3.8zM246 642.2h10.7v3.8h-10.7zM266.9 642.2h3.8v3.8h-3.8zM246 638.8h10.7v3.8h-10.7zM259.9 638.8h17.7v3.8h-17.7zM253 635.3h7.3v3.8h-7.3zM273.9 635.3h3.8v3.8h-3.8zM277.3 631.8h3.8v3.8h-3.8zM277.3 628.3h3.8v3.8h-3.8zM273.9 624.8h7.3v3.8h-7.3zM266.9 621.4h3.8v3.8h-3.8zM273.9 621.4h3.8v3.8h-3.8zM266.9 617.9h3.8v3.8h-3.8zM270.4 614.4h7.3v3.8h-7.3zM273.9 610.9h7.3v3.8h-7.3zM211.2 597h3.8v3.8h-3.8zM284.3 597h3.8v3.8h-3.8zM301.7 593.6h3.8v3.8h-3.8zM294.7 586.6h3.8v3.8h-3.8zM235.6 579.6h3.8v3.8h-3.8zM246 576.2h7.3v3.8h-7.3zM291.3 576.2h3.8v3.8h-3.8zM291.3 572.7h3.8v3.8h-3.8zM270.4 569.2h3.8v3.8h-3.8zM287.8 565.7h3.8v3.8h-3.8z"/>
<path fill="#da40fc" d="M148.6 826.5h3.8v3.8h-3.8zM141.7 823h3.8v3.8h-3.8zM239.1 805.6h3.8v3.8h-3.8zM228.6 791.7h7.3v3.8h-7.3zM113.8 788.3h3.8v3.8h-3.8zM225.2 788.3h3.8v3.8h-3.8zM242.5 788.3h3.8v3.8h-3.8zM214.7 784.8h3.8v3.8h-3.8zM207.8 774.4h3.8v3.8h-3.8zM253 767.4h3.8v3.8h-3.8zM253 763.9h3.8v3.8h-3.8zM253 760.4h3.8v3.8h-3.8zM207.8 757h3.8v3.8h-3.8zM249.5 757h10.7v3.8h-10.7zM246 753.5h3.8v3.8h-3.8zM246 750h3.8v3.8h-3.8zM253 746.5h3.8v3.8h-3.8zM259.9 736.1h3.8v3.8h-3.8zM259.9 732.6h3.8v3.8h-3.8zM131.2 729.2h3.8v3.8h-3.8zM113.8 725.7h7.3v3.8h-7.3zM148.6 725.7h3.8v3.8h-3.8zM152.1 722.2h7.3v3.8h-7.3zM166 722.2h3.8v3.8h-3.8zM259.9 722.2h3.8v3.8h-3.8zM169.5 718.7h3.8v3.8h-3.8zM228.6 718.7h3.8v3.8h-3.8zM263.4 718.7h3.8v3.8h-3.8zM169.5 711.8h3.8v3.8h-3.8zM228.6 711.8h3.8v3.8h-3.8zM270.4 711.8h3.8v3.8h-3.8zM169.5 708.3h3.8v3.8h-3.8zM232.1 697.9h3.8v3.8h-3.8zM235.6 694.4h3.8v3.8h-3.8zM239.1 690.9h3.8v3.8h-3.8zM106.9 687.4h3.8v3.8h-3.8zM190.4 687.4h3.8v3.8h-3.8zM256.5 680.5h3.8v3.8h-3.8zM270.4 680.5h3.8v3.8h-3.8zM127.7 677h3.8v3.8h-3.8zM200.8 677h3.8v3.8h-3.8zM263.4 677h3.8v3.8h-3.8zM270.4 677h3.8v3.8h-3.8zM235.6 673.5h3.8v3.8h-3.8zM256.5 673.5h3.8v3.8h-3.8zM263.4 673.5h3.8v3.8h-3.8zM259.9 670h3.8v3.8h-3.8zM273.9 670h3.8v3.8h-3.8zM239.1 666.6h3.8v3.8h-3.8zM259.9 666.6h3.8v3.8h-3.8zM239.1 663.1h3.8v3.8h-3.8zM259.9 663.1h3.8v3.8h-3.8zM148.6 659.6h3.8v3.8h-3.8zM221.7 659.6h3.8v3.8h-3.8zM239.1 659.6h3.8v3.8h-3.8zM256.5 659.6h3.8v3.8h-3.8zM270.4 659.6h3.8v3.8h-3.8zM152.1 656.1h3.8v3.8h-3.8zM225.2 656.1h3.8v3.8h-3.8zM266.9 656.1h3.8v3.8h-3.8zM155.6 652.7h3.8v3.8h-3.8zM242.5 652.7h3.8v3.8h-3.8zM246 645.7h3.8v3.8h-3.8zM253 645.7h3.8v3.8h-3.8zM162.5 642.2h3.8v3.8h-3.8zM166 638.8h3.8v3.8h-3.8zM242.5 638.8h3.8v3.8h-3.8zM249.5 635.3h3.8v3.8h-3.8zM259.9 635.3h7.3v3.8h-7.3zM270.4 635.3h3.8v3.8h-3.8zM253 631.8h7.3v3.8h-7.3zM273.9 631.8h3.8v3.8h-3.8zM266.9 628.3h10.7v3.8h-10.7zM256.5 624.8h3.8v3.8h-3.8zM270.4 624.8h3.8v3.8h-3.8zM259.9 621.4h7.3v3.8h-7.3zM270.4 621.4h3.8v3.8h-3.8zM259.9 617.9h7.3v3.8h-7.3zM263.4 614.4h3.8v3.8h-3.8zM291.3 614.4h10.7v3.8h-10.7zM270.4 610.9h3.8v3.8h-3.8zM301.7 610.9h3.8v3.8h-3.8zM273.9 607.5h3.8v3.8h-3.8zM287.8 607.5h3.8v3.8h-3.8zM280.8 597h3.8v3.8h-3.8zM221.7 590.1h3.8v3.8h-3.8zM291.3 579.6h3.8v3.8h-3.8zM259.9 576.2h3.8v3.8h-3.8zM266.9 572.7h3.8v3.8h-3.8z"/>
<path fill="#ed40f8" d="M138.2 836.9h3.8v3.8h-3.8zM148.6 830h3.8v3.8h-3.8zM110.4 791.7h3.8v3.8h-3.8zM211.2 781.3h3.8v3.8h-3.8zM249.5 760.4h3.8v3.8h-3.8zM246 757h3.8v3.8h-3.8zM211.2 746.5h3.8v3.8h-3.8zM214.7 743.1h3.8v3.8h-3.8zM256.5 743.1h3.8v3.8h-3.8zM134.7 729.2h7.3v3.8h-7.3zM259.9 729.2h3.8v3.8h-3.8zM110.4 725.7h3.8v3.8h-3.8zM124.3 725.7h3.8v3.8h-3.8zM259.9 725.7h3.8v3.8h-3.8zM159.1 722.2h7.3v3.8h-7.3zM228.6 722.2h3.8v3.8h-3.8zM155.6 718.7h3.8v3.8h-3.8zM169.5 715.2h3.8v3.8h-3.8zM263.4 715.2h7.3v3.8h-7.3zM232.1 701.3h3.8v3.8h-3.8zM270.4 701.3h3.8v3.8h-3.8zM270.4 697.9h3.8v3.8h-3.8zM183.4 694.4h3.8v3.8h-3.8zM270.4 694.4h3.8v3.8h-3.8zM186.9 690.9h3.8v3.8h-3.8zM239.1 687.4h3.8v3.8h-3.8zM239.1 684h3.8v3.8h-3.8zM253 680.5h3.8v3.8h-3.8zM259.9 680.5h3.8v3.8h-3.8zM235.6 677h3.8v3.8h-3.8zM266.9 677h3.8v3.8h-3.8zM134.7 673.5h3.8v3.8h-3.8zM204.3 673.5h3.8v3.8h-3.8zM249.5 673.5h7.3v3.8h-7.3zM266.9 673.5h7.3v3.8h-7.3zM138.2 670h3.8v3.8h-3.8zM239.1 670h10.7v3.8h-10.7zM256.5 670h3.8v3.8h-3.8zM263.4 670h3.8v3.8h-3.8zM141.7 666.6h3.8v3.8h-3.8zM242.5 666.6h7.3v3.8h-7.3zM242.5 663.1h3.8v3.8h-3.8zM256.5 663.1h3.8v3.8h-3.8zM263.4 663.1h3.8v3.8h-3.8zM253 659.6h3.8v3.8h-3.8zM263.4 659.6h7.3v3.8h-7.3zM246 649.2h3.8v3.8h-3.8zM253 649.2h7.3v3.8h-7.3zM235.6 645.7h3.8v3.8h-3.8zM249.5 645.7h3.8v3.8h-3.8zM246 635.3h3.8v3.8h-3.8zM266.9 635.3h3.8v3.8h-3.8zM259.9 631.8h7.3v3.8h-7.3zM270.4 631.8h3.8v3.8h-3.8zM256.5 628.3h10.7v3.8h-10.7zM259.9 624.8h3.8v3.8h-3.8zM266.9 624.8h3.8v3.8h-3.8zM186.9 621.4h3.8v3.8h-3.8zM256.5 621.4h3.8v3.8h-3.8zM266.9 610.9h3.8v3.8h-3.8zM200.8 607.5h3.8v3.8h-3.8zM270.4 607.5h3.8v3.8h-3.8zM204.3 604h3.8v3.8h-3.8zM287.8 604h3.8v3.8h-3.8zM207.8 600.5h3.8v3.8h-3.8zM277.3 600.5h3.8v3.8h-3.8zM301.7 597h3.8v3.8h-3.8zM284.3 593.6h3.8v3.8h-3.8zM298.2 590.1h3.8v3.8h-3.8zM232.1 583.1h3.8v3.8h-3.8zM266.9 579.6h3.8v3.8h-3.8zM253 576.2h3.8v3.8h-3.8zM263.4 576.2h7.3v3.8h-7.3zM273.9 569.2h3.8v3.8h-3.8zM277.3 565.7h3.8v3.8h-3.8zM284.3 565.7h3.8v3.8h-3.8z"/>
<path fill="#ff40f5" d="M124.3 836.9h3.8v3.8h-3.8zM110.4 788.3h3.8v3.8h-3.8zM110.4 784.8h3.8v3.8h-3.8zM218.2 784.8h3.8v3.8h-3.8zM242.5 784.8h3.8v3.8h-3.8zM110.4 781.3h3.8v3.8h-3.8zM246 781.3h3.8v3.8h-3.8zM249.5 777.8h3.8v3.8h-3.8zM207.8 770.9h3.8v3.8h-3.8zM249.5 746.5h3.8v3.8h-3.8zM225.2 739.6h3.8v3.8h-3.8zM256.5 739.6h3.8v3.8h-3.8zM228.6 736.1h3.8v3.8h-3.8zM228.6 732.6h3.8v3.8h-3.8zM228.6 729.2h3.8v3.8h-3.8zM145.1 725.7h3.8v3.8h-3.8zM228.6 725.7h3.8v3.8h-3.8zM148.6 722.2h3.8v3.8h-3.8zM159.1 718.7h10.7v3.8h-10.7zM166 715.2h3.8v3.8h-3.8zM166 711.8h3.8v3.8h-3.8zM266.9 711.8h3.8v3.8h-3.8zM266.9 708.3h3.8v3.8h-3.8zM232.1 704.8h3.8v3.8h-3.8zM266.9 704.8h3.8v3.8h-3.8zM173 701.3h3.8v3.8h-3.8zM266.9 701.3h3.8v3.8h-3.8zM235.6 697.9h3.8v3.8h-3.8zM239.1 694.4h3.8v3.8h-3.8zM256.5 684h3.8v3.8h-3.8zM270.4 684h3.8v3.8h-3.8zM193.8 680.5h3.8v3.8h-3.8zM239.1 680.5h3.8v3.8h-3.8zM263.4 680.5h7.3v3.8h-7.3zM131.2 677h3.8v3.8h-3.8zM253 677h3.8v3.8h-3.8zM242.5 673.5h3.8v3.8h-3.8zM207.8 670h3.8v3.8h-3.8zM270.4 670h3.8v3.8h-3.8zM211.2 666.6h3.8v3.8h-3.8zM256.5 666.6h3.8v3.8h-3.8zM263.4 666.6h3.8v3.8h-3.8zM270.4 666.6h3.8v3.8h-3.8zM145.1 663.1h3.8v3.8h-3.8zM214.7 663.1h3.8v3.8h-3.8zM246 663.1h3.8v3.8h-3.8zM270.4 663.1h3.8v3.8h-3.8zM242.5 659.6h3.8v3.8h-3.8zM221.7 656.1h3.8v3.8h-3.8zM242.5 656.1h3.8v3.8h-3.8zM253 656.1h3.8v3.8h-3.8zM228.6 652.7h3.8v3.8h-3.8zM253 652.7h3.8v3.8h-3.8zM159.1 649.2h3.8v3.8h-3.8zM239.1 638.8h3.8v3.8h-3.8zM249.5 631.8h3.8v3.8h-3.8zM266.9 631.8h3.8v3.8h-3.8zM179.9 628.3h3.8v3.8h-3.8zM253 628.3h3.8v3.8h-3.8zM183.4 624.8h3.8v3.8h-3.8zM263.4 624.8h3.8v3.8h-3.8zM190.4 617.9h3.8v3.8h-3.8zM193.8 614.4h3.8v3.8h-3.8zM197.3 610.9h3.8v3.8h-3.8zM298.2 610.9h3.8v3.8h-3.8zM301.7 607.5h3.8v3.8h-3.8zM273.9 604h3.8v3.8h-3.8zM301.7 604h3.8v3.8h-3.8zM287.8 600.5h3.8v3.8h-3.8zM301.7 600.5h3.8v3.8h-3.8zM218.2 593.6h3.8v3.8h-3.8zM294.7 590.1h3.8v3.8h-3.8zM291.3 586.6h3.8v3.8h-3.8zM270.4 583.1h10.7v3.8h-10.7zM291.3 583.1h3.8v3.8h-3.8zM239.1 579.6h3.8v3.8h-3.8zM270.4 579.6h14.2v3.8h-14.2zM256.5 576.2h3.8v3.8h-3.8zM277.3 576.2h7.3v3.8h-7.3zM270.4 572.7h10.7v3.8h-10.7zM287.8 569.2h3.8v3.8h-3.8zM280.8 565.7h3.8v3.8h-3.8z"/>
<path fill="#ff43e8" d="M127.7 836.9h3.8v3.8h-3.8zM228.6 788.3h3.8v3.8h-3.8zM239.1 788.3h3.8v3.8h-3.8zM221.7 784.8h3.8v3.8h-3.8zM249.5 774.4h3.8v3.8h-3.8zM249.5 770.9h3.8v3.8h-3.8zM249.5 767.4h3.8v3.8h-3.8zM249.5 763.9h3.8v3.8h-3.8zM207.8 760.4h3.8v3.8h-3.8zM246 760.4h3.8v3.8h-3.8zM242.5 757h3.8v3.8h-3.8zM242.5 753.5h3.8v3.8h-3.8zM246 746.5h3.8v3.8h-3.8zM218.2 743.1h3.8v3.8h-3.8zM253 743.1h3.8v3.8h-3.8zM256.5 736.1h3.8v3.8h-3.8zM256.5 729.2h3.8v3.8h-3.8zM127.7 725.7h3.8v3.8h-3.8zM141.7 725.7h3.8v3.8h-3.8zM145.1 722.2h3.8v3.8h-3.8zM152.1 718.7h3.8v3.8h-3.8zM259.9 718.7h3.8v3.8h-3.8zM159.1 715.2h7.3v3.8h-7.3zM232.1 715.2h3.8v3.8h-3.8zM259.9 715.2h3.8v3.8h-3.8zM232.1 711.8h3.8v3.8h-3.8zM259.9 711.8h7.3v3.8h-7.3zM232.1 708.3h7.3v3.8h-7.3zM259.9 708.3h7.3v3.8h-7.3zM169.5 704.8h3.8v3.8h-3.8zM235.6 704.8h3.8v3.8h-3.8zM263.4 704.8h3.8v3.8h-3.8zM235.6 701.3h3.8v3.8h-3.8zM263.4 701.3h3.8v3.8h-3.8zM176.4 697.9h3.8v3.8h-3.8zM239.1 697.9h3.8v3.8h-3.8zM266.9 697.9h3.8v3.8h-3.8zM242.5 694.4h3.8v3.8h-3.8zM242.5 690.9h3.8v3.8h-3.8zM270.4 690.9h3.8v3.8h-3.8zM117.3 684h3.8v3.8h-3.8zM190.4 684h3.8v3.8h-3.8zM253 684h3.8v3.8h-3.8zM124.3 680.5h3.8v3.8h-3.8zM197.3 677h3.8v3.8h-3.8zM239.1 677h7.3v3.8h-7.3zM249.5 677h3.8v3.8h-3.8zM200.8 673.5h3.8v3.8h-3.8zM239.1 673.5h3.8v3.8h-3.8zM246 673.5h3.8v3.8h-3.8zM204.3 670h3.8v3.8h-3.8zM249.5 670h7.3v3.8h-7.3zM266.9 670h3.8v3.8h-3.8zM249.5 666.6h7.3v3.8h-7.3zM266.9 666.6h3.8v3.8h-3.8zM249.5 663.1h7.3v3.8h-7.3zM266.9 663.1h3.8v3.8h-3.8zM218.2 659.6h3.8v3.8h-3.8zM232.1 649.2h3.8v3.8h-3.8zM249.5 649.2h3.8v3.8h-3.8zM253 624.8h3.8v3.8h-3.8zM259.9 614.4h3.8v3.8h-3.8zM263.4 610.9h3.8v3.8h-3.8zM291.3 610.9h3.8v3.8h-3.8zM287.8 597h14.2v3.8h-14.2zM294.7 593.6h7.3v3.8h-7.3zM291.3 590.1h3.8v3.8h-3.8zM228.6 586.6h3.8v3.8h-3.8zM266.9 583.1h3.8v3.8h-3.8zM263.4 579.6h3.8v3.8h-3.8zM284.3 579.6h7.3v3.8h-7.3zM270.4 576.2h7.3v3.8h-7.3zM284.3 576.2h7.3v3.8h-7.3zM280.8 572.7h10.7v3.8h-10.7zM277.3 569.2h7.3v3.8h-7.3z"/>
<path fill="#ff46db" d="M131.2 836.9h7.3v3.8h-7.3zM145.1 833.5h3.8v3.8h-3.8zM232.1 788.3h7.3v3.8h-7.3zM225.2 784.8h3.8v3.8h-3.8zM207.8 767.4h3.8v3.8h-3.8zM207.8 763.9h3.8v3.8h-3.8zM211.2 750h3.8v3.8h-3.8zM242.5 750h3.8v3.8h-3.8zM249.5 743.1h3.8v3.8h-3.8zM253 739.6h3.8v3.8h-3.8zM253 736.1h3.8v3.8h-3.8zM256.5 732.6h3.8v3.8h-3.8zM256.5 725.7h3.8v3.8h-3.8zM256.5 722.2h3.8v3.8h-3.8zM232.1 718.7h3.8v3.8h-3.8zM256.5 718.7h3.8v3.8h-3.8zM235.6 715.2h3.8v3.8h-3.8zM162.5 711.8h3.8v3.8h-3.8zM235.6 711.8h7.3v3.8h-7.3zM239.1 708.3h3.8v3.8h-3.8zM239.1 704.8h3.8v3.8h-3.8zM259.9 704.8h3.8v3.8h-3.8zM259.9 701.3h3.8v3.8h-3.8zM179.9 694.4h3.8v3.8h-3.8zM110.4 687.4h3.8v3.8h-3.8zM186.9 687.4h3.8v3.8h-3.8zM242.5 687.4h3.8v3.8h-3.8zM270.4 687.4h3.8v3.8h-3.8zM242.5 684h3.8v3.8h-3.8zM249.5 684h3.8v3.8h-3.8zM259.9 684h3.8v3.8h-3.8zM242.5 680.5h3.8v3.8h-3.8zM249.5 680.5h3.8v3.8h-3.8zM246 677h3.8v3.8h-3.8zM246 659.6h7.3v3.8h-7.3zM246 656.1h3.8v3.8h-3.8zM225.2 652.7h3.8v3.8h-3.8zM246 652.7h7.3v3.8h-7.3zM169.5 638.8h3.8v3.8h-3.8zM242.5 635.3h3.8v3.8h-3.8zM256.5 617.9h3.8v3.8h-3.8zM294.7 610.9h3.8v3.8h-3.8zM266.9 607.5h3.8v3.8h-3.8zM291.3 607.5h3.8v3.8h-3.8zM291.3 600.5h3.8v3.8h-3.8zM298.2 600.5h3.8v3.8h-3.8zM214.7 597h3.8v3.8h-3.8zM280.8 593.6h3.8v3.8h-3.8zM287.8 593.6h7.3v3.8h-7.3zM284.3 590.1h7.3v3.8h-7.3zM266.9 586.6h7.3v3.8h-7.3zM287.8 586.6h3.8v3.8h-3.8zM280.8 583.1h3.8v3.8h-3.8zM287.8 583.1h3.8v3.8h-3.8zM246 579.6h7.3v3.8h-7.3zM259.9 579.6h3.8v3.8h-3.8zM284.3 569.2h3.8v3.8h-3.8z"/>
<path fill="#ff4ace" d="M120.8 830h3.8v3.8h-3.8zM228.6 784.8h3.8v3.8h-3.8zM239.1 784.8h3.8v3.8h-3.8zM235.6 767.4h3.8v3.8h-3.8zM239.1 763.9h3.8v3.8h-3.8zM211.2 753.5h3.8v3.8h-3.8zM242.5 746.5h3.8v3.8h-3.8zM221.7 743.1h3.8v3.8h-3.8zM246 743.1h3.8v3.8h-3.8zM249.5 739.6h3.8v3.8h-3.8zM232.1 736.1h3.8v3.8h-3.8zM232.1 732.6h3.8v3.8h-3.8zM249.5 732.6h7.3v3.8h-7.3zM232.1 729.2h3.8v3.8h-3.8zM134.7 725.7h7.3v3.8h-7.3zM141.7 722.2h3.8v3.8h-3.8zM232.1 722.2h3.8v3.8h-3.8zM148.6 718.7h3.8v3.8h-3.8zM155.6 715.2h3.8v3.8h-3.8zM256.5 715.2h3.8v3.8h-3.8zM166 708.3h3.8v3.8h-3.8zM256.5 708.3h3.8v3.8h-3.8zM256.5 704.8h3.8v3.8h-3.8zM239.1 701.3h3.8v3.8h-3.8zM242.5 697.9h3.8v3.8h-3.8zM263.4 697.9h3.8v3.8h-3.8zM183.4 690.9h3.8v3.8h-3.8zM246 690.9h3.8v3.8h-3.8zM246 687.4h3.8v3.8h-3.8zM246 684h3.8v3.8h-3.8zM266.9 684h3.8v3.8h-3.8zM246 680.5h3.8v3.8h-3.8zM207.8 666.6h3.8v3.8h-3.8zM249.5 656.1h3.8v3.8h-3.8zM162.5 645.7h3.8v3.8h-3.8zM166 642.2h3.8v3.8h-3.8zM235.6 642.2h3.8v3.8h-3.8zM179.9 631.8h3.8v3.8h-3.8zM183.4 628.3h3.8v3.8h-3.8zM249.5 628.3h3.8v3.8h-3.8zM186.9 624.8h3.8v3.8h-3.8zM190.4 621.4h3.8v3.8h-3.8zM253 621.4h3.8v3.8h-3.8zM204.3 607.5h3.8v3.8h-3.8zM294.7 607.5h7.3v3.8h-7.3zM291.3 604h10.7v3.8h-10.7zM211.2 600.5h3.8v3.8h-3.8zM294.7 600.5h3.8v3.8h-3.8zM225.2 590.1h3.8v3.8h-3.8zM232.1 586.6h3.8v3.8h-3.8zM273.9 586.6h3.8v3.8h-3.8zM284.3 586.6h3.8v3.8h-3.8zM235.6 583.1h3.8v3.8h-3.8zM284.3 583.1h3.8v3.8h-3.8zM242.5 579.6h3.8v3.8h-3.8zM256.5 579.6h3.8v3.8h-3.8z"/>
<path fill="#ff4dc1" d="M120.8 833.5h3.8v3.8h-3.8zM124.3 826.5h3.8v3.8h-3.8zM145.1 826.5h3.8v3.8h-3.8zM235.6 784.8h3.8v3.8h-3.8zM214.7 781.3h3.8v3.8h-3.8zM242.5 781.3h3.8v3.8h-3.8zM211.2 777.8h3.8v3.8h-3.8zM246 777.8h3.8v3.8h-3.8zM246 774.4h3.8v3.8h-3.8zM235.6 770.9h3.8v3.8h-3.8zM246 770.9h3.8v3.8h-3.8zM239.1 767.4h3.8v3.8h-3.8zM246 767.4h3.8v3.8h-3.8zM235.6 763.9h3.8v3.8h-3.8zM242.5 763.9h7.3v3.8h-7.3zM239.1 760.4h7.3v3.8h-7.3zM239.1 757h3.8v3.8h-3.8zM239.1 753.5h3.8v3.8h-3.8zM214.7 746.5h3.8v3.8h-3.8zM228.6 739.6h3.8v3.8h-3.8zM235.6 736.1h7.3v3.8h-7.3zM249.5 736.1h3.8v3.8h-3.8zM253 729.2h3.8v3.8h-3.8zM131.2 725.7h3.8v3.8h-3.8zM232.1 725.7h3.8v3.8h-3.8zM253 725.7h3.8v3.8h-3.8zM120.8 722.2h7.3v3.8h-7.3zM138.2 722.2h3.8v3.8h-3.8zM145.1 718.7h3.8v3.8h-3.8zM235.6 718.7h3.8v3.8h-3.8zM239.1 715.2h3.8v3.8h-3.8zM242.5 711.8h3.8v3.8h-3.8zM256.5 711.8h3.8v3.8h-3.8zM242.5 708.3h3.8v3.8h-3.8zM242.5 701.3h3.8v3.8h-3.8zM246 697.9h3.8v3.8h-3.8zM246 694.4h3.8v3.8h-3.8zM266.9 694.4h3.8v3.8h-3.8zM249.5 690.9h7.3v3.8h-7.3zM249.5 687.4h10.7v3.8h-10.7zM263.4 684h3.8v3.8h-3.8zM127.7 680.5h3.8v3.8h-3.8zM138.2 673.5h3.8v3.8h-3.8zM141.7 670h3.8v3.8h-3.8zM145.1 666.6h3.8v3.8h-3.8zM148.6 663.1h3.8v3.8h-3.8zM211.2 663.1h3.8v3.8h-3.8zM152.1 659.6h3.8v3.8h-3.8zM214.7 659.6h3.8v3.8h-3.8zM155.6 656.1h3.8v3.8h-3.8zM218.2 656.1h3.8v3.8h-3.8zM159.1 652.7h3.8v3.8h-3.8zM232.1 645.7h3.8v3.8h-3.8zM176.4 635.3h3.8v3.8h-3.8zM246 631.8h3.8v3.8h-3.8zM200.8 610.9h3.8v3.8h-3.8zM207.8 604h3.8v3.8h-3.8zM270.4 604h3.8v3.8h-3.8zM273.9 600.5h3.8v3.8h-3.8zM277.3 597h3.8v3.8h-3.8zM280.8 590.1h3.8v3.8h-3.8zM277.3 586.6h7.3v3.8h-7.3zM263.4 583.1h3.8v3.8h-3.8zM253 579.6h3.8v3.8h-3.8z"/>
<path fill="#ff50b4" d="M145.1 830h3.8v3.8h-3.8zM232.1 784.8h3.8v3.8h-3.8zM221.7 781.3h7.3v3.8h-7.3zM239.1 774.4h7.3v3.8h-7.3zM232.1 770.9h3.8v3.8h-3.8zM242.5 770.9h3.8v3.8h-3.8zM232.1 767.4h3.8v3.8h-3.8zM211.2 757h3.8v3.8h-3.8zM239.1 750h3.8v3.8h-3.8zM239.1 746.5h3.8v3.8h-3.8zM225.2 743.1h3.8v3.8h-3.8zM242.5 743.1h3.8v3.8h-3.8zM232.1 739.6h17.7v3.8h-17.7zM242.5 736.1h7.3v3.8h-7.3zM235.6 732.6h3.8v3.8h-3.8zM235.6 729.2h3.8v3.8h-3.8zM253 722.2h3.8v3.8h-3.8zM141.7 718.7h3.8v3.8h-3.8zM253 718.7h3.8v3.8h-3.8zM152.1 715.2h3.8v3.8h-3.8zM253 715.2h3.8v3.8h-3.8zM159.1 711.8h3.8v3.8h-3.8zM246 711.8h3.8v3.8h-3.8zM242.5 704.8h3.8v3.8h-3.8zM169.5 701.3h3.8v3.8h-3.8zM256.5 701.3h3.8v3.8h-3.8zM173 697.9h3.8v3.8h-3.8zM256.5 697.9h7.3v3.8h-7.3zM249.5 694.4h3.8v3.8h-3.8zM266.9 690.9h3.8v3.8h-3.8zM113.8 687.4h3.8v3.8h-3.8zM259.9 687.4h3.8v3.8h-3.8zM266.9 687.4h3.8v3.8h-3.8zM120.8 684h3.8v3.8h-3.8zM186.9 684h3.8v3.8h-3.8zM190.4 680.5h3.8v3.8h-3.8zM134.7 677h3.8v3.8h-3.8zM193.8 677h3.8v3.8h-3.8zM197.3 673.5h3.8v3.8h-3.8zM200.8 670h3.8v3.8h-3.8zM204.3 666.6h3.8v3.8h-3.8zM221.7 652.7h3.8v3.8h-3.8zM228.6 649.2h3.8v3.8h-3.8zM239.1 635.3h3.8v3.8h-3.8zM193.8 617.9h3.8v3.8h-3.8zM256.5 614.4h3.8v3.8h-3.8zM259.9 610.9h3.8v3.8h-3.8zM263.4 607.5h3.8v3.8h-3.8zM263.4 586.6h3.8v3.8h-3.8zM259.9 583.1h3.8v3.8h-3.8z"/>
<path fill="#ff53a8" d="M228.6 781.3h7.3v3.8h-7.3zM239.1 781.3h3.8v3.8h-3.8zM242.5 777.8h3.8v3.8h-3.8zM232.1 774.4h7.3v3.8h-7.3zM239.1 770.9h3.8v3.8h-3.8zM242.5 767.4h3.8v3.8h-3.8zM232.1 763.9h3.8v3.8h-3.8zM235.6 760.4h3.8v3.8h-3.8zM235.6 757h3.8v3.8h-3.8zM235.6 750h3.8v3.8h-3.8zM218.2 746.5h3.8v3.8h-3.8zM228.6 743.1h3.8v3.8h-3.8zM239.1 743.1h3.8v3.8h-3.8zM239.1 732.6h10.7v3.8h-10.7zM249.5 729.2h3.8v3.8h-3.8zM117.3 722.2h3.8v3.8h-3.8zM127.7 722.2h3.8v3.8h-3.8zM134.7 722.2h3.8v3.8h-3.8zM242.5 715.2h10.7v3.8h-10.7zM253 711.8h3.8v3.8h-3.8zM162.5 708.3h3.8v3.8h-3.8zM253 708.3h3.8v3.8h-3.8zM166 704.8h3.8v3.8h-3.8zM253 704.8h3.8v3.8h-3.8zM246 701.3h3.8v3.8h-3.8zM253 701.3h3.8v3.8h-3.8zM249.5 697.9h7.3v3.8h-7.3zM176.4 694.4h3.8v3.8h-3.8zM253 694.4h14.2v3.8h-14.2zM256.5 690.9h3.8v3.8h-3.8zM162.5 649.2h3.8v3.8h-3.8zM173 638.8h3.8v3.8h-3.8zM235.6 638.8h3.8v3.8h-3.8zM183.4 631.8h3.8v3.8h-3.8zM186.9 628.3h3.8v3.8h-3.8zM249.5 624.8h3.8v3.8h-3.8zM253 617.9h3.8v3.8h-3.8zM197.3 614.4h3.8v3.8h-3.8zM218.2 597h3.8v3.8h-3.8zM221.7 593.6h3.8v3.8h-3.8zM277.3 593.6h3.8v3.8h-3.8zM228.6 590.1h3.8v3.8h-3.8zM270.4 590.1h10.7v3.8h-10.7zM239.1 583.1h3.8v3.8h-3.8zM246 583.1h14.2v3.8h-14.2z"/>
<path fill="#ff569c" d="M218.2 781.3h3.8v3.8h-3.8zM235.6 781.3h3.8v3.8h-3.8zM228.6 777.8h14.2v3.8h-14.2zM211.2 763.9h3.8v3.8h-3.8zM211.2 760.4h3.8v3.8h-3.8zM235.6 753.5h3.8v3.8h-3.8zM214.7 750h3.8v3.8h-3.8zM235.6 746.5h3.8v3.8h-3.8zM232.1 743.1h7.3v3.8h-7.3zM239.1 729.2h3.8v3.8h-3.8zM246 729.2h3.8v3.8h-3.8zM235.6 725.7h3.8v3.8h-3.8zM249.5 725.7h3.8v3.8h-3.8zM113.8 722.2h3.8v3.8h-3.8zM131.2 722.2h3.8v3.8h-3.8zM235.6 722.2h3.8v3.8h-3.8zM249.5 722.2h3.8v3.8h-3.8zM138.2 718.7h3.8v3.8h-3.8zM239.1 718.7h3.8v3.8h-3.8zM249.5 718.7h3.8v3.8h-3.8zM148.6 715.2h3.8v3.8h-3.8zM249.5 711.8h3.8v3.8h-3.8zM246 708.3h7.3v3.8h-7.3zM246 704.8h3.8v3.8h-3.8zM249.5 701.3h3.8v3.8h-3.8zM259.9 690.9h3.8v3.8h-3.8zM183.4 687.4h3.8v3.8h-3.8zM263.4 687.4h3.8v3.8h-3.8zM131.2 680.5h3.8v3.8h-3.8zM186.9 680.5h3.8v3.8h-3.8zM141.7 673.5h3.8v3.8h-3.8zM207.8 663.1h3.8v3.8h-3.8zM211.2 659.6h3.8v3.8h-3.8zM218.2 652.7h3.8v3.8h-3.8zM169.5 642.2h7.3v3.8h-7.3zM176.4 638.8h3.8v3.8h-3.8zM179.9 635.3h3.8v3.8h-3.8zM242.5 631.8h3.8v3.8h-3.8zM193.8 621.4h3.8v3.8h-3.8zM204.3 610.9h3.8v3.8h-3.8zM207.8 607.5h3.8v3.8h-3.8zM214.7 600.5h3.8v3.8h-3.8zM273.9 597h3.8v3.8h-3.8zM273.9 593.6h3.8v3.8h-3.8zM253 590.1h3.8v3.8h-3.8zM259.9 590.1h10.7v3.8h-10.7zM235.6 586.6h3.8v3.8h-3.8zM253 586.6h10.7v3.8h-10.7zM242.5 583.1h3.8v3.8h-3.8z"/>
<path fill="#ff5a90" d="M141.7 833.5h3.8v3.8h-3.8zM127.7 826.5h3.8v3.8h-3.8zM225.2 777.8h3.8v3.8h-3.8zM211.2 774.4h3.8v3.8h-3.8zM228.6 774.4h3.8v3.8h-3.8zM211.2 770.9h3.8v3.8h-3.8zM228.6 770.9h3.8v3.8h-3.8zM211.2 767.4h3.8v3.8h-3.8zM228.6 767.4h3.8v3.8h-3.8zM232.1 760.4h3.8v3.8h-3.8zM221.7 746.5h3.8v3.8h-3.8zM232.1 746.5h3.8v3.8h-3.8zM242.5 729.2h3.8v3.8h-3.8zM242.5 718.7h3.8v3.8h-3.8zM145.1 715.2h3.8v3.8h-3.8zM155.6 711.8h3.8v3.8h-3.8zM249.5 704.8h3.8v3.8h-3.8zM179.9 690.9h3.8v3.8h-3.8zM263.4 690.9h3.8v3.8h-3.8zM117.3 687.4h3.8v3.8h-3.8zM183.4 684h3.8v3.8h-3.8zM145.1 670h3.8v3.8h-3.8zM197.3 670h3.8v3.8h-3.8zM148.6 666.6h3.8v3.8h-3.8zM200.8 666.6h3.8v3.8h-3.8zM214.7 656.1h3.8v3.8h-3.8zM225.2 649.2h3.8v3.8h-3.8zM166 645.7h3.8v3.8h-3.8zM235.6 635.3h3.8v3.8h-3.8zM246 628.3h3.8v3.8h-3.8zM190.4 624.8h3.8v3.8h-3.8zM249.5 621.4h3.8v3.8h-3.8zM197.3 617.9h3.8v3.8h-3.8zM200.8 614.4h3.8v3.8h-3.8zM256.5 610.9h3.8v3.8h-3.8zM259.9 607.5h3.8v3.8h-3.8zM266.9 604h3.8v3.8h-3.8zM270.4 600.5h3.8v3.8h-3.8zM270.4 597h3.8v3.8h-3.8zM249.5 593.6h10.7v3.8h-10.7zM270.4 593.6h3.8v3.8h-3.8zM232.1 590.1h3.8v3.8h-3.8zM246 590.1h7.3v3.8h-7.3zM256.5 590.1h3.8v3.8h-3.8zM242.5 586.6h10.7v3.8h-10.7z"/>
<path fill="#ff5d84" d="M124.3 833.5h3.8v3.8h-3.8zM138.2 826.5h7.3v3.8h-7.3zM221.7 777.8h3.8v3.8h-3.8zM228.6 763.9h3.8v3.8h-3.8zM214.7 757h3.8v3.8h-3.8zM214.7 753.5h3.8v3.8h-3.8zM232.1 753.5h3.8v3.8h-3.8zM218.2 750h3.8v3.8h-3.8zM232.1 750h3.8v3.8h-3.8zM225.2 746.5h7.3v3.8h-7.3zM239.1 725.7h3.8v3.8h-3.8zM246 725.7h3.8v3.8h-3.8zM106.9 722.2h7.3v3.8h-7.3zM246 718.7h3.8v3.8h-3.8zM159.1 708.3h3.8v3.8h-3.8zM169.5 697.9h3.8v3.8h-3.8zM173 694.4h3.8v3.8h-3.8zM106.9 690.9h3.8v3.8h-3.8zM124.3 684h3.8v3.8h-3.8zM138.2 677h3.8v3.8h-3.8zM190.4 677h3.8v3.8h-3.8zM193.8 673.5h3.8v3.8h-3.8zM152.1 663.1h3.8v3.8h-3.8zM204.3 663.1h3.8v3.8h-3.8zM155.6 659.6h3.8v3.8h-3.8zM159.1 656.1h3.8v3.8h-3.8zM162.5 652.7h3.8v3.8h-3.8zM221.7 649.2h3.8v3.8h-3.8zM228.6 645.7h3.8v3.8h-3.8zM232.1 642.2h3.8v3.8h-3.8zM179.9 638.8h3.8v3.8h-3.8zM183.4 635.3h3.8v3.8h-3.8zM190.4 628.3h3.8v3.8h-3.8zM193.8 624.8h3.8v3.8h-3.8zM200.8 617.9h3.8v3.8h-3.8zM253 614.4h3.8v3.8h-3.8zM211.2 604h3.8v3.8h-3.8zM246 597h7.3v3.8h-7.3zM225.2 593.6h3.8v3.8h-3.8zM242.5 593.6h7.3v3.8h-7.3zM266.9 593.6h3.8v3.8h-3.8zM239.1 590.1h7.3v3.8h-7.3zM239.1 586.6h3.8v3.8h-3.8z"/>
<path fill="#ff6078" d="M124.3 830h3.8v3.8h-3.8zM141.7 830h3.8v3.8h-3.8zM131.2 826.5h3.8v3.8h-3.8zM225.2 774.4h3.8v3.8h-3.8zM228.6 760.4h3.8v3.8h-3.8zM232.1 757h3.8v3.8h-3.8zM242.5 725.7h3.8v3.8h-3.8zM239.1 722.2h3.8v3.8h-3.8zM246 722.2h3.8v3.8h-3.8zM124.3 718.7h3.8v3.8h-3.8zM131.2 718.7h7.3v3.8h-7.3zM141.7 715.2h3.8v3.8h-3.8zM162.5 704.8h3.8v3.8h-3.8zM166 701.3h3.8v3.8h-3.8zM120.8 687.4h3.8v3.8h-3.8zM134.7 680.5h3.8v3.8h-3.8zM183.4 680.5h3.8v3.8h-3.8zM145.1 673.5h3.8v3.8h-3.8zM197.3 666.6h3.8v3.8h-3.8zM207.8 659.6h3.8v3.8h-3.8zM211.2 656.1h3.8v3.8h-3.8zM214.7 652.7h3.8v3.8h-3.8zM176.4 642.2h3.8v3.8h-3.8zM232.1 638.8h3.8v3.8h-3.8zM186.9 631.8h3.8v3.8h-3.8zM239.1 631.8h3.8v3.8h-3.8zM246 624.8h3.8v3.8h-3.8zM197.3 621.4h3.8v3.8h-3.8zM204.3 614.4h3.8v3.8h-3.8zM256.5 607.5h3.8v3.8h-3.8zM263.4 604h3.8v3.8h-3.8zM218.2 600.5h3.8v3.8h-3.8zM266.9 600.5h3.8v3.8h-3.8zM221.7 597h3.8v3.8h-3.8zM242.5 597h3.8v3.8h-3.8zM253 597h3.8v3.8h-3.8zM239.1 593.6h3.8v3.8h-3.8zM259.9 593.6h7.3v3.8h-7.3zM235.6 590.1h3.8v3.8h-3.8z"/>
<path fill="#ff6a70" d="M138.2 833.5h3.8v3.8h-3.8zM214.7 777.8h7.3v3.8h-7.3zM214.7 760.4h3.8v3.8h-3.8zM228.6 757h3.8v3.8h-3.8zM221.7 750h3.8v3.8h-3.8zM228.6 750h3.8v3.8h-3.8zM242.5 722.2h3.8v3.8h-3.8zM120.8 718.7h3.8v3.8h-3.8zM127.7 718.7h3.8v3.8h-3.8zM138.2 715.2h3.8v3.8h-3.8zM148.6 711.8h7.3v3.8h-7.3zM169.5 694.4h3.8v3.8h-3.8zM110.4 690.9h3.8v3.8h-3.8zM176.4 690.9h3.8v3.8h-3.8zM179.9 687.4h3.8v3.8h-3.8zM127.7 684h3.8v3.8h-3.8zM141.7 677h3.8v3.8h-3.8zM186.9 677h3.8v3.8h-3.8zM148.6 670h3.8v3.8h-3.8zM152.1 666.6h3.8v3.8h-3.8zM155.6 663.1h3.8v3.8h-3.8zM200.8 663.1h3.8v3.8h-3.8zM218.2 649.2h3.8v3.8h-3.8zM169.5 645.7h3.8v3.8h-3.8zM225.2 645.7h3.8v3.8h-3.8zM228.6 642.2h3.8v3.8h-3.8zM183.4 638.8h3.8v3.8h-3.8zM186.9 635.3h3.8v3.8h-3.8zM190.4 631.8h3.8v3.8h-3.8zM242.5 628.3h3.8v3.8h-3.8zM197.3 624.8h7.3v3.8h-7.3zM200.8 621.4h3.8v3.8h-3.8zM204.3 617.9h3.8v3.8h-3.8zM249.5 617.9h3.8v3.8h-3.8zM207.8 610.9h3.8v3.8h-3.8zM253 610.9h3.8v3.8h-3.8zM211.2 607.5h3.8v3.8h-3.8zM253 607.5h3.8v3.8h-3.8zM214.7 604h3.8v3.8h-3.8zM259.9 604h3.8v3.8h-3.8zM249.5 600.5h10.7v3.8h-10.7zM256.5 597h7.3v3.8h-7.3zM266.9 597h3.8v3.8h-3.8zM228.6 593.6h3.8v3.8h-3.8z"/>
<path fill="#ff7368" d="M127.7 833.5h3.8v3.8h-3.8zM134.7 826.5h3.8v3.8h-3.8zM225.2 770.9h3.8v3.8h-3.8zM225.2 767.4h3.8v3.8h-3.8zM214.7 763.9h3.8v3.8h-3.8zM218.2 753.5h3.8v3.8h-3.8zM228.6 753.5h3.8v3.8h-3.8zM225.2 750h3.8v3.8h-3.8zM166 697.9h3.8v3.8h-3.8zM166 694.4h3.8v3.8h-3.8zM113.8 690.9h3.8v3.8h-3.8zM169.5 690.9h7.3v3.8h-7.3zM124.3 687.4h3.8v3.8h-3.8zM131.2 684h3.8v3.8h-3.8zM179.9 684h3.8v3.8h-3.8zM179.9 680.5h3.8v3.8h-3.8zM166 677h3.8v3.8h-3.8zM173 677h3.8v3.8h-3.8zM179.9 677h7.3v3.8h-7.3zM148.6 673.5h3.8v3.8h-3.8zM190.4 673.5h3.8v3.8h-3.8zM193.8 670h3.8v3.8h-3.8zM197.3 663.1h3.8v3.8h-3.8zM207.8 656.1h3.8v3.8h-3.8zM211.2 652.7h3.8v3.8h-3.8zM166 649.2h3.8v3.8h-3.8zM193.8 649.2h7.3v3.8h-7.3zM214.7 649.2h3.8v3.8h-3.8zM173 645.7h3.8v3.8h-3.8zM193.8 645.7h3.8v3.8h-3.8zM221.7 645.7h3.8v3.8h-3.8zM179.9 642.2h3.8v3.8h-3.8zM193.8 642.2h3.8v3.8h-3.8zM235.6 631.8h3.8v3.8h-3.8zM193.8 628.3h7.3v3.8h-7.3zM204.3 628.3h3.8v3.8h-3.8zM204.3 624.8h3.8v3.8h-3.8zM204.3 621.4h3.8v3.8h-3.8zM246 621.4h3.8v3.8h-3.8zM207.8 614.4h3.8v3.8h-3.8zM228.6 614.4h3.8v3.8h-3.8zM249.5 614.4h3.8v3.8h-3.8zM225.2 607.5h7.3v3.8h-7.3zM253 604h7.3v3.8h-7.3zM242.5 600.5h7.3v3.8h-7.3zM259.9 600.5h3.8v3.8h-3.8zM239.1 597h3.8v3.8h-3.8zM235.6 593.6h3.8v3.8h-3.8z"/>
<path fill="#ff7d60" d="M131.2 833.5h7.3v3.8h-7.3zM127.7 830h3.8v3.8h-3.8zM138.2 830h3.8v3.8h-3.8zM214.7 774.4h3.8v3.8h-3.8zM221.7 774.4h3.8v3.8h-3.8zM214.7 767.4h3.8v3.8h-3.8zM225.2 763.9h3.8v3.8h-3.8zM218.2 757h3.8v3.8h-3.8zM225.2 757h3.8v3.8h-3.8zM117.3 718.7h3.8v3.8h-3.8zM134.7 715.2h3.8v3.8h-3.8zM141.7 711.8h7.3v3.8h-7.3zM155.6 708.3h3.8v3.8h-3.8zM162.5 701.3h3.8v3.8h-3.8zM117.3 690.9h3.8v3.8h-3.8zM127.7 687.4h3.8v3.8h-3.8zM173 687.4h7.3v3.8h-7.3zM176.4 684h3.8v3.8h-3.8zM138.2 680.5h3.8v3.8h-3.8zM169.5 680.5h3.8v3.8h-3.8zM176.4 680.5h3.8v3.8h-3.8zM145.1 677h3.8v3.8h-3.8zM162.5 677h3.8v3.8h-3.8zM169.5 677h3.8v3.8h-3.8zM176.4 677h3.8v3.8h-3.8zM162.5 673.5h14.2v3.8h-14.2zM152.1 670h3.8v3.8h-3.8zM155.6 666.6h3.8v3.8h-3.8zM193.8 666.6h3.8v3.8h-3.8zM190.4 663.1h7.3v3.8h-7.3zM159.1 659.6h3.8v3.8h-3.8zM193.8 659.6h14.2v3.8h-14.2zM162.5 656.1h3.8v3.8h-3.8zM197.3 656.1h3.8v3.8h-3.8zM193.8 652.7h3.8v3.8h-3.8zM200.8 652.7h7.3v3.8h-7.3zM190.4 649.2h3.8v3.8h-3.8zM200.8 649.2h7.3v3.8h-7.3zM211.2 649.2h3.8v3.8h-3.8zM197.3 645.7h3.8v3.8h-3.8zM218.2 645.7h3.8v3.8h-3.8zM190.4 642.2h3.8v3.8h-3.8zM197.3 642.2h3.8v3.8h-3.8zM225.2 642.2h3.8v3.8h-3.8zM186.9 638.8h3.8v3.8h-3.8zM228.6 638.8h3.8v3.8h-3.8zM232.1 635.3h3.8v3.8h-3.8zM232.1 631.8h3.8v3.8h-3.8zM200.8 628.3h3.8v3.8h-3.8zM207.8 628.3h3.8v3.8h-3.8zM207.8 624.8h3.8v3.8h-3.8zM228.6 617.9h7.3v3.8h-7.3zM225.2 614.4h3.8v3.8h-3.8zM228.6 610.9h3.8v3.8h-3.8zM214.7 607.5h3.8v3.8h-3.8zM249.5 607.5h3.8v3.8h-3.8zM218.2 604h10.7v3.8h-10.7zM249.5 604h3.8v3.8h-3.8zM221.7 600.5h3.8v3.8h-3.8zM263.4 600.5h3.8v3.8h-3.8zM225.2 597h3.8v3.8h-3.8zM263.4 597h3.8v3.8h-3.8zM232.1 593.6h3.8v3.8h-3.8z"/>
<path fill="#ff8658" d="M134.7 830h3.8v3.8h-3.8zM218.2 774.4h3.8v3.8h-3.8zM214.7 770.9h3.8v3.8h-3.8zM218.2 763.9h3.8v3.8h-3.8zM218.2 760.4h3.8v3.8h-3.8zM225.2 760.4h3.8v3.8h-3.8zM221.7 757h3.8v3.8h-3.8zM221.7 753.5h7.3v3.8h-7.3zM113.8 718.7h3.8v3.8h-3.8zM127.7 715.2h7.3v3.8h-7.3zM159.1 704.8h3.8v3.8h-3.8zM120.8 690.9h3.8v3.8h-3.8zM166 690.9h3.8v3.8h-3.8zM169.5 687.4h3.8v3.8h-3.8zM134.7 684h3.8v3.8h-3.8zM173 684h3.8v3.8h-3.8zM141.7 680.5h3.8v3.8h-3.8zM162.5 680.5h7.3v3.8h-7.3zM173 680.5h3.8v3.8h-3.8zM148.6 677h3.8v3.8h-3.8zM159.1 677h3.8v3.8h-3.8zM152.1 673.5h10.7v3.8h-10.7zM176.4 673.5h3.8v3.8h-3.8zM183.4 673.5h7.3v3.8h-7.3zM155.6 670h10.7v3.8h-10.7zM169.5 670h3.8v3.8h-3.8zM190.4 670h3.8v3.8h-3.8zM190.4 666.6h3.8v3.8h-3.8zM159.1 663.1h3.8v3.8h-3.8zM190.4 659.6h3.8v3.8h-3.8zM186.9 656.1h10.7v3.8h-10.7zM204.3 656.1h3.8v3.8h-3.8zM166 652.7h3.8v3.8h-3.8zM190.4 652.7h3.8v3.8h-3.8zM197.3 652.7h3.8v3.8h-3.8zM207.8 652.7h3.8v3.8h-3.8zM169.5 649.2h3.8v3.8h-3.8zM207.8 649.2h3.8v3.8h-3.8zM176.4 645.7h3.8v3.8h-3.8zM190.4 645.7h3.8v3.8h-3.8zM200.8 645.7h7.3v3.8h-7.3zM211.2 645.7h7.3v3.8h-7.3zM183.4 642.2h7.3v3.8h-7.3zM200.8 642.2h3.8v3.8h-3.8zM221.7 642.2h3.8v3.8h-3.8zM190.4 638.8h7.3v3.8h-7.3zM225.2 638.8h3.8v3.8h-3.8zM190.4 635.3h7.3v3.8h-7.3zM228.6 635.3h3.8v3.8h-3.8zM193.8 631.8h7.3v3.8h-7.3zM235.6 628.3h7.3v3.8h-7.3zM228.6 624.8h3.8v3.8h-3.8zM207.8 621.4h3.8v3.8h-3.8zM228.6 621.4h7.3v3.8h-7.3zM207.8 617.9h3.8v3.8h-3.8zM246 617.9h3.8v3.8h-3.8zM232.1 614.4h3.8v3.8h-3.8zM211.2 610.9h3.8v3.8h-3.8zM225.2 610.9h3.8v3.8h-3.8zM232.1 610.9h3.8v3.8h-3.8zM249.5 610.9h3.8v3.8h-3.8zM221.7 607.5h3.8v3.8h-3.8zM232.1 607.5h3.8v3.8h-3.8zM246 604h3.8v3.8h-3.8zM225.2 600.5h3.8v3.8h-3.8zM232.1 597h7.3v3.8h-7.3z"/>
<path fill="#ff9050" d="M131.2 830h3.8v3.8h-3.8zM218.2 770.9h7.3v3.8h-7.3zM218.2 767.4h7.3v3.8h-7.3zM221.7 763.9h3.8v3.8h-3.8zM221.7 760.4h3.8v3.8h-3.8zM124.3 715.2h3.8v3.8h-3.8zM134.7 711.8h7.3v3.8h-7.3zM148.6 708.3h7.3v3.8h-7.3zM162.5 697.9h3.8v3.8h-3.8zM117.3 694.4h10.7v3.8h-10.7zM124.3 690.9h7.3v3.8h-7.3zM131.2 687.4h3.8v3.8h-3.8zM166 687.4h3.8v3.8h-3.8zM166 684h7.3v3.8h-7.3zM152.1 680.5h3.8v3.8h-3.8zM152.1 677h3.8v3.8h-3.8zM179.9 673.5h3.8v3.8h-3.8zM166 670h3.8v3.8h-3.8zM173 670h3.8v3.8h-3.8zM186.9 670h3.8v3.8h-3.8zM159.1 666.6h3.8v3.8h-3.8zM186.9 666.6h3.8v3.8h-3.8zM186.9 663.1h3.8v3.8h-3.8zM186.9 659.6h3.8v3.8h-3.8zM166 656.1h3.8v3.8h-3.8zM200.8 656.1h3.8v3.8h-3.8zM186.9 652.7h3.8v3.8h-3.8zM186.9 649.2h3.8v3.8h-3.8zM179.9 645.7h3.8v3.8h-3.8zM186.9 645.7h3.8v3.8h-3.8zM207.8 645.7h3.8v3.8h-3.8zM211.2 642.2h10.7v3.8h-10.7zM197.3 638.8h3.8v3.8h-3.8zM221.7 638.8h3.8v3.8h-3.8zM197.3 635.3h10.7v3.8h-10.7zM225.2 635.3h3.8v3.8h-3.8zM200.8 631.8h10.7v3.8h-10.7zM228.6 631.8h3.8v3.8h-3.8zM228.6 628.3h7.3v3.8h-7.3zM211.2 624.8h3.8v3.8h-3.8zM225.2 624.8h3.8v3.8h-3.8zM232.1 624.8h3.8v3.8h-3.8zM242.5 624.8h3.8v3.8h-3.8zM225.2 621.4h3.8v3.8h-3.8zM242.5 621.4h3.8v3.8h-3.8zM225.2 617.9h3.8v3.8h-3.8zM235.6 617.9h3.8v3.8h-3.8zM211.2 614.4h3.8v3.8h-3.8zM235.6 614.4h3.8v3.8h-3.8zM246 614.4h3.8v3.8h-3.8zM221.7 610.9h3.8v3.8h-3.8zM246 610.9h3.8v3.8h-3.8zM218.2 607.5h3.8v3.8h-3.8zM246 607.5h3.8v3.8h-3.8zM228.6 604h7.3v3.8h-7.3zM242.5 604h3.8v3.8h-3.8zM228.6 600.5h7.3v3.8h-7.3zM239.1 600.5h3.8v3.8h-3.8zM228.6 597h3.8v3.8h-3.8z"/>
<path fill="#fe9e4a" d="M110.4 718.7h3.8v3.8h-3.8zM120.8 715.2h3.8v3.8h-3.8zM131.2 711.8h3.8v3.8h-3.8zM138.2 708.3h10.7v3.8h-10.7zM124.3 701.3h3.8v3.8h-3.8zM159.1 701.3h3.8v3.8h-3.8zM124.3 697.9h3.8v3.8h-3.8zM106.9 694.4h10.7v3.8h-10.7zM127.7 694.4h3.8v3.8h-3.8zM162.5 694.4h3.8v3.8h-3.8zM162.5 690.9h3.8v3.8h-3.8zM162.5 687.4h3.8v3.8h-3.8zM138.2 684h3.8v3.8h-3.8zM162.5 684h3.8v3.8h-3.8zM145.1 680.5h7.3v3.8h-7.3zM155.6 680.5h7.3v3.8h-7.3zM155.6 677h3.8v3.8h-3.8zM176.4 670h10.7v3.8h-10.7zM162.5 666.6h10.7v3.8h-10.7zM183.4 666.6h3.8v3.8h-3.8zM162.5 663.1h7.3v3.8h-7.3zM183.4 663.1h3.8v3.8h-3.8zM162.5 659.6h7.3v3.8h-7.3zM183.4 659.6h3.8v3.8h-3.8zM183.4 656.1h3.8v3.8h-3.8zM169.5 652.7h3.8v3.8h-3.8zM183.4 652.7h3.8v3.8h-3.8zM173 649.2h3.8v3.8h-3.8zM183.4 649.2h3.8v3.8h-3.8zM183.4 645.7h3.8v3.8h-3.8zM204.3 642.2h7.3v3.8h-7.3zM204.3 638.8h3.8v3.8h-3.8zM214.7 638.8h7.3v3.8h-7.3zM207.8 635.3h3.8v3.8h-3.8zM218.2 635.3h3.8v3.8h-3.8zM211.2 631.8h3.8v3.8h-3.8zM225.2 631.8h3.8v3.8h-3.8zM211.2 628.3h3.8v3.8h-3.8zM225.2 628.3h3.8v3.8h-3.8zM239.1 624.8h3.8v3.8h-3.8zM211.2 621.4h3.8v3.8h-3.8zM235.6 621.4h3.8v3.8h-3.8zM239.1 617.9h7.3v3.8h-7.3zM221.7 614.4h3.8v3.8h-3.8zM239.1 614.4h7.3v3.8h-7.3zM214.7 610.9h3.8v3.8h-3.8zM235.6 610.9h3.8v3.8h-3.8zM235.6 607.5h3.8v3.8h-3.8zM242.5 607.5h3.8v3.8h-3.8zM235.6 604h7.3v3.8h-7.3zM235.6 600.5h3.8v3.8h-3.8z"/>
<path fill="#feab44" d="M106.9 718.7h3.8v3.8h-3.8zM124.3 711.8h7.3v3.8h-7.3zM124.3 708.3h14.2v3.8h-14.2zM120.8 704.8h7.3v3.8h-7.3zM131.2 704.8h3.8v3.8h-3.8zM155.6 704.8h3.8v3.8h-3.8zM120.8 701.3h3.8v3.8h-3.8zM127.7 701.3h3.8v3.8h-3.8zM117.3 697.9h7.3v3.8h-7.3zM127.7 697.9h3.8v3.8h-3.8zM159.1 697.9h3.8v3.8h-3.8zM131.2 694.4h3.8v3.8h-3.8zM131.2 690.9h3.8v3.8h-3.8zM134.7 687.4h7.3v3.8h-7.3zM141.7 684h14.2v3.8h-14.2zM173 666.6h3.8v3.8h-3.8zM179.9 666.6h3.8v3.8h-3.8zM173 663.1h3.8v3.8h-3.8zM169.5 659.6h3.8v3.8h-3.8zM179.9 659.6h3.8v3.8h-3.8zM169.5 656.1h3.8v3.8h-3.8zM176.4 649.2h3.8v3.8h-3.8zM200.8 638.8h3.8v3.8h-3.8zM207.8 638.8h7.3v3.8h-7.3zM211.2 635.3h7.3v3.8h-7.3zM221.7 635.3h3.8v3.8h-3.8zM214.7 631.8h10.7v3.8h-10.7zM214.7 628.3h3.8v3.8h-3.8zM235.6 624.8h3.8v3.8h-3.8zM239.1 621.4h3.8v3.8h-3.8zM211.2 617.9h3.8v3.8h-3.8zM221.7 617.9h3.8v3.8h-3.8zM214.7 614.4h3.8v3.8h-3.8zM218.2 610.9h3.8v3.8h-3.8zM242.5 610.9h3.8v3.8h-3.8zM239.1 607.5h3.8v3.8h-3.8z"/>
<path fill="#fdb93e" d="M117.3 715.2h3.8v3.8h-3.8zM120.8 711.8h3.8v3.8h-3.8zM127.7 704.8h3.8v3.8h-3.8zM134.7 704.8h21.2v3.8h-21.2zM131.2 701.3h3.8v3.8h-3.8zM131.2 697.9h3.8v3.8h-3.8zM159.1 694.4h3.8v3.8h-3.8zM134.7 690.9h3.8v3.8h-3.8zM159.1 687.4h3.8v3.8h-3.8zM155.6 684h7.3v3.8h-7.3zM176.4 666.6h3.8v3.8h-3.8zM169.5 663.1h3.8v3.8h-3.8zM176.4 663.1h7.3v3.8h-7.3zM173 659.6h7.3v3.8h-7.3zM173 656.1h10.7v3.8h-10.7zM173 652.7h3.8v3.8h-3.8zM179.9 652.7h3.8v3.8h-3.8zM179.9 649.2h3.8v3.8h-3.8zM218.2 628.3h7.3v3.8h-7.3zM214.7 624.8h10.7v3.8h-10.7zM214.7 621.4h3.8v3.8h-3.8zM221.7 621.4h3.8v3.8h-3.8zM214.7 617.9h3.8v3.8h-3.8zM218.2 614.4h3.8v3.8h-3.8zM239.1 610.9h3.8v3.8h-3.8z"/>
<path fill="#fdc638" d="M113.8 715.2h3.8v3.8h-3.8zM120.8 708.3h3.8v3.8h-3.8zM117.3 701.3h3.8v3.8h-3.8zM134.7 701.3h7.3v3.8h-7.3zM155.6 701.3h3.8v3.8h-3.8zM110.4 697.9h7.3v3.8h-7.3zM134.7 694.4h3.8v3.8h-3.8zM159.1 690.9h3.8v3.8h-3.8zM141.7 687.4h10.7v3.8h-10.7zM176.4 652.7h3.8v3.8h-3.8zM218.2 621.4h3.8v3.8h-3.8zM218.2 617.9h3.8v3.8h-3.8z"/>
<path fill="#fcd432" d="M110.4 715.2h3.8v3.8h-3.8zM141.7 701.3h3.8v3.8h-3.8zM148.6 701.3h3.8v3.8h-3.8zM106.9 697.9h3.8v3.8h-3.8zM134.7 697.9h3.8v3.8h-3.8zM155.6 697.9h3.8v3.8h-3.8zM155.6 694.4h3.8v3.8h-3.8zM138.2 690.9h3.8v3.8h-3.8zM145.1 690.9h3.8v3.8h-3.8zM152.1 687.4h7.3v3.8h-7.3z"/>
<path fill="#f8e232" d="M117.3 711.8h3.8v3.8h-3.8zM117.3 704.8h3.8v3.8h-3.8zM145.1 701.3h3.8v3.8h-3.8zM152.1 701.3h3.8v3.8h-3.8zM138.2 697.9h3.8v3.8h-3.8zM138.2 694.4h3.8v3.8h-3.8zM141.7 690.9h3.8v3.8h-3.8zM155.6 690.9h3.8v3.8h-3.8z"/>
<path fill="#f5f032" d="M106.9 715.2h3.8v3.8h-3.8zM117.3 708.3h3.8v3.8h-3.8zM106.9 701.3h3.8v3.8h-3.8zM113.8 701.3h3.8v3.8h-3.8zM141.7 697.9h3.8v3.8h-3.8zM148.6 697.9h7.3v3.8h-7.3zM141.7 694.4h3.8v3.8h-3.8zM148.6 690.9h7.3v3.8h-7.3z"/>
<path fill="#f0f631" d="M106.9 711.8h3.8v3.8h-3.8zM113.8 711.8h3.8v3.8h-3.8zM145.1 697.9h3.8v3.8h-3.8zM145.1 694.4h10.7v3.8h-10.7z"/>
<path fill="#ebfc30" d="M110.4 711.8h3.8v3.8h-3.8zM110.4 701.3h3.8v3.8h-3.8z"/>
<path fill="#ebff3b" d="M106.9 708.3h3.8v3.8h-3.8zM113.8 708.3h3.8v3.8h-3.8zM106.9 704.8h10.7v3.8h-10.7z"/>
<path fill="#edff42" d="M110.4 708.3h3.8v3.8h-3.8z"/>
</g>
<rect x="86" y="496.2" width="361.8" height="361.6" fill="none" stroke="#000" stroke-width="3.3"/>
<path d="M97.13 857.8v-6.65M97.13 496.2v6.65M108.26 857.8v-6.65M108.26 496.2v6.65M119.4 857.8v-6.65M119.4 496.2v6.65M130.53 857.8v-6.65M130.53 496.2v6.65M141.66 857.8v-11.65M141.66 496.2v11.65M152.79 857.8v-6.65M152.79 496.2v6.65M163.93 857.8v-6.65M163.93 496.2v6.65M175.06 857.8v-6.65M175.06 496.2v6.65M186.19 857.8v-6.65M186.19 496.2v6.65M197.32 857.8v-11.65M197.32 496.2v11.65M208.46 857.8v-6.65M208.46 496.2v6.65M219.59 857.8v-6.65M219.59 496.2v6.65M230.72 857.8v-6.65M230.72 496.2v6.65M241.85 857.8v-6.65M241.85 496.2v6.65M252.98 857.8v-11.65M252.98 496.2v11.65M264.12 857.8v-6.65M264.12 496.2v6.65M275.25 857.8v-6.65M275.25 496.2v6.65M286.38 857.8v-6.65M286.38 496.2v6.65M297.51 857.8v-6.65M297.51 496.2v6.65M308.65 857.8v-11.65M308.65 496.2v11.65M319.78 857.8v-6.65M319.78 496.2v6.65M330.91 857.8v-6.65M330.91 496.2v6.65M342.04 857.8v-6.65M342.04 496.2v6.65M353.18 857.8v-6.65M353.18 496.2v6.65M364.31 857.8v-11.65M364.31 496.2v11.65M375.44 857.8v-6.65M375.44 496.2v6.65M386.57 857.8v-6.65M386.57 496.2v6.65M397.7 857.8v-6.65M397.7 496.2v6.65M408.84 857.8v-6.65M408.84 496.2v6.65M419.97 857.8v-11.65M419.97 496.2v11.65M431.1 857.8v-6.65M431.1 496.2v6.65M86 846.67h6.65M447.8 846.67h-6.65M86 835.55h6.65M447.8 835.55h-6.65M86 824.42h6.65M447.8 824.42h-6.65M86 813.3h6.65M447.8 813.3h-6.65M86 802.17h11.65M447.8 802.17h-11.65M86 791.04h6.65M447.8 791.04h-6.65M86 779.92h6.65M447.8 779.92h-6.65M86 768.79h6.65M447.8 768.79h-6.65M86 757.66h6.65M447.8 757.66h-6.65M86 746.54h11.65M447.8 746.54h-11.65M86 735.41h6.65M447.8 735.41h-6.65M86 724.29h6.65M447.8 724.29h-6.65M86 713.16h6.65M447.8 713.16h-6.65M86 702.03h6.65M447.8 702.03h-6.65M86 690.91h11.65M447.8 690.91h-11.65M86 679.78h6.65M447.8 679.78h-6.65M86 668.66h6.65M447.8 668.66h-6.65M86 657.53h6.65M447.8 657.53h-6.65M86 646.4h6.65M447.8 646.4h-6.65M86 635.28h11.65M447.8 635.28h-11.65M86 624.15h6.65M447.8 624.15h-6.65M86 613.02h6.65M447.8 613.02h-6.65M86 601.9h6.65M447.8 601.9h-6.65M86 590.77h6.65M447.8 590.77h-6.65M86 579.65h11.65M447.8 579.65h-11.65M86 568.52h6.65M447.8 568.52h-6.65M86 557.39h6.65M447.8 557.39h-6.65M86 546.27h6.65M447.8 546.27h-6.65M86 535.14h6.65M447.8 535.14h-6.65M86 524.02h11.65M447.8 524.02h-11.65M86 512.89h6.65M447.8 512.89h-6.65" stroke="#000" stroke-width="2.8" fill="none"/>
<text x="86" y="890" font-size="23.5" text-anchor="middle">2</text>
<text x="71.5" y="866.21" font-size="23.5" text-anchor="end">2</text>
<text x="141.66" y="890" font-size="23.5" text-anchor="middle">4</text>
<text x="71.5" y="810.58" font-size="23.5" text-anchor="end">4</text>
<text x="197.32" y="890" font-size="23.5" text-anchor="middle">6</text>
<text x="71.5" y="754.95" font-size="23.5" text-anchor="end">6</text>
<text x="252.98" y="890" font-size="23.5" text-anchor="middle">8</text>
<text x="71.5" y="699.32" font-size="23.5" text-anchor="end">8</text>
<text x="308.65" y="890" font-size="23.5" text-anchor="middle">10</text>
<text x="71.5" y="643.69" font-size="23.5" text-anchor="end">10</text>
<text x="364.31" y="890" font-size="23.5" text-anchor="middle">12</text>
<text x="71.5" y="588.06" font-size="23.5" text-anchor="end">12</text>
<text x="419.97" y="890" font-size="23.5" text-anchor="middle">14</text>
<text x="71.5" y="532.43" font-size="23.5" text-anchor="end">14</text>
<text x="273" y="929.5" font-size="31" text-anchor="middle" letter-spacing="0.3">HB2 distance [<tspan dx="2.0">Å</tspan><tspan dx="2.0">]</tspan></text>
<text transform="translate(29.8 674.5) rotate(-90)" font-size="31" text-anchor="middle" letter-spacing="0.4">HB1 distance [<tspan dx="2.0">Å</tspan><tspan dx="2.0">]</tspan></text>
<rect x="456.3" y="495.9" width="25" height="230.9" fill="url(#cbg)" stroke="#000" stroke-width="3.0"/>
<path d="M456.3 693.81H481.3M456.3 660.83H481.3M456.3 627.84H481.3M456.3 594.86H481.3M456.3 561.87H481.3M456.3 528.89H481.3" stroke="#000" stroke-width="2.5" fill="none"/>
<text x="491.8" y="735.8" font-size="28.5" text-anchor="start">0</text>
<text x="491.8" y="702.82" font-size="28.5" text-anchor="start">1</text>
<text x="491.8" y="669.83" font-size="28.5" text-anchor="start">2</text>
<text x="491.8" y="636.85" font-size="28.5" text-anchor="start">3</text>
<text x="491.8" y="603.86" font-size="28.5" text-anchor="start">4</text>
<text x="491.8" y="570.87" font-size="28.5" text-anchor="start">5</text>
<text x="491.8" y="537.89" font-size="28.5" text-anchor="start">6</text>
<text x="491.8" y="504.9" font-size="28.5" text-anchor="start">7</text>
<text x="455" y="765" font-size="28.5">[k<tspan font-size="14.5" dx="0.5">B</tspan><tspan dx="1">T]</tspan></text>
<text x="107" y="550" font-size="35" text-anchor="start">(b)</text>
</g>
<g id="panel-c">
<g shape-rendering="crispEdges" filter="url(#bl)">
<path fill="#08081c" d="M176.1 1152.3h6.3v6.3h-6.3zM176.1 1146.3h12.3v6.3h-12.3zM176.1 1140.4h6.3v6.3h-6.3z"/>
<path fill="#090924" d="M182 1152.3h6.3v6.3h-6.3z"/>
<path fill="#0b0b2c" d="M170.1 1152.3h6.3v6.3h-6.3zM170.1 1146.3h6.3v6.3h-6.3zM182 1140.4h6.3v6.3h-6.3z"/>
<path fill="#0c0c34" d="M176.1 1158.3h6.3v6.3h-6.3z"/>
<path fill="#0e0e3c" d="M182 1158.3h6.3v6.3h-6.3zM170.1 1140.4h6.3v6.3h-6.3z"/>
<path fill="#12124b" d="M188 1152.3h6.3v6.3h-6.3zM176.1 1134.4h6.3v6.3h-6.3z"/>
<path fill="#15155a" d="M188 1146.3h6.3v6.3h-6.3z"/>
<path fill="#181869" d="M170.1 1158.3h6.3v6.3h-6.3zM182 1134.4h6.3v6.3h-6.3z"/>
<path fill="#1c1c78" d="M188 1140.4h6.3v6.3h-6.3zM170.1 1134.4h6.3v6.3h-6.3z"/>
<path fill="#191d96" d="M176.1 1164.2h12.3v6.3h-12.3zM188 1158.3h6.3v6.3h-6.3zM164.1 1152.3h6.3v6.3h-6.3zM164.1 1146.3h6.3v6.3h-6.3zM176.1 1128.5h6.3v6.3h-6.3z"/>
<path fill="#171db4" d="M164.1 1140.4h6.3v6.3h-6.3z"/>
<path fill="#141ed2" d="M194 1146.3h6.3v6.3h-6.3zM164.1 1134.4h6.3v6.3h-6.3zM188 1134.4h6.3v6.3h-6.3z"/>
<path fill="#1622dc" d="M170.1 1164.2h6.3v6.3h-6.3zM188 1164.2h6.3v6.3h-6.3zM164.1 1158.3h6.3v6.3h-6.3zM170.1 1128.5h6.3v6.3h-6.3zM182 1128.5h6.3v6.3h-6.3z"/>
<path fill="#1926e6" d="M182 1170.2h6.3v6.3h-6.3zM194 1158.3h6.3v6.3h-6.3zM194 1152.3h6.3v6.3h-6.3zM194 1140.4h6.3v6.3h-6.3z"/>
<path fill="#1c29f0" d="M176.1 1170.2h6.3v6.3h-6.3zM158.1 1152.3h6.3v6.3h-6.3zM158.1 1146.3h6.3v6.3h-6.3z"/>
<path fill="#1e2dfa" d="M188 1170.2h6.3v6.3h-6.3zM194 1164.2h6.3v6.3h-6.3zM194 1134.4h6.3v6.3h-6.3zM188 1128.5h6.3v6.3h-6.3zM176.1 1122.5h6.3v6.3h-6.3z"/>
<path fill="#2231fb" d="M170.1 1170.2h6.3v6.3h-6.3zM164.1 1164.2h6.3v6.3h-6.3zM158.1 1158.3h6.3v6.3h-6.3zM200 1146.3h6.3v6.3h-6.3zM158.1 1140.4h6.3v6.3h-6.3zM200 1140.4h6.3v6.3h-6.3zM158.1 1134.4h6.3v6.3h-6.3zM164.1 1128.5h6.3v6.3h-6.3zM170.1 1122.5h6.3v6.3h-6.3z"/>
<path fill="#2534fc" d="M176.1 1176.1h18.2v6.3h-18.2zM164.1 1170.2h6.3v6.3h-6.3zM194 1170.2h6.3v6.3h-6.3zM349.6 1170.2h6.3v6.3h-6.3zM158.1 1164.2h6.3v6.3h-6.3zM200 1158.3h6.3v6.3h-6.3zM200 1152.3h6.3v6.3h-6.3zM200 1134.4h6.3v6.3h-6.3zM194 1128.5h6.3v6.3h-6.3zM164.1 1122.5h6.3v6.3h-6.3zM182 1122.5h12.3v6.3h-12.3zM170.1 1116.6h6.3v6.3h-6.3z"/>
<path fill="#2938fe" d="M176.1 1182.1h6.3v6.3h-6.3zM343.6 1182.1h12.3v6.3h-12.3zM194 1176.1h6.3v6.3h-6.3zM337.6 1176.1h24.2v6.3h-24.2zM367.5 1176.1h6.3v6.3h-6.3zM325.6 1170.2h24.2v6.3h-24.2zM361.5 1170.2h6.3v6.3h-6.3zM200 1164.2h6.3v6.3h-6.3zM337.6 1164.2h18.2v6.3h-18.2zM361.5 1164.2h6.3v6.3h-6.3zM152.1 1158.3h6.3v6.3h-6.3zM349.6 1158.3h6.3v6.3h-6.3zM152.1 1146.3h6.3v6.3h-6.3zM152.1 1140.4h6.3v6.3h-6.3zM152.1 1134.4h6.3v6.3h-6.3zM158.1 1128.5h6.3v6.3h-6.3zM164.1 1116.6h6.3v6.3h-6.3zM176.1 1116.6h6.3v6.3h-6.3z"/>
<path fill="#2c3cff" d="M325.6 1188h6.3v6.3h-6.3zM337.6 1188h18.2v6.3h-18.2zM319.7 1182.1h24.2v6.3h-24.2zM355.6 1182.1h12.3v6.3h-12.3zM170.1 1176.1h6.3v6.3h-6.3zM319.7 1176.1h18.2v6.3h-18.2zM361.5 1176.1h6.3v6.3h-6.3zM379.5 1176.1h6.3v6.3h-6.3zM158.1 1170.2h6.3v6.3h-6.3zM200 1170.2h6.3v6.3h-6.3zM319.7 1170.2h6.3v6.3h-6.3zM355.6 1170.2h6.3v6.3h-6.3zM367.5 1170.2h6.3v6.3h-6.3zM319.7 1164.2h6.3v6.3h-6.3zM331.6 1164.2h6.3v6.3h-6.3zM355.6 1164.2h6.3v6.3h-6.3zM367.5 1164.2h6.3v6.3h-6.3zM206 1158.3h6.3v6.3h-6.3zM343.6 1158.3h6.3v6.3h-6.3zM355.6 1158.3h6.3v6.3h-6.3zM367.5 1158.3h6.3v6.3h-6.3zM379.5 1158.3h6.3v6.3h-6.3zM152.1 1152.3h6.3v6.3h-6.3zM206 1152.3h6.3v6.3h-6.3zM206 1146.3h6.3v6.3h-6.3zM206 1140.4h6.3v6.3h-6.3zM200 1128.5h6.3v6.3h-6.3zM158.1 1122.5h6.3v6.3h-6.3zM194 1122.5h6.3v6.3h-6.3zM182 1116.6h12.3v6.3h-12.3zM170.1 1110.6h12.3v6.3h-12.3z"/>
<path fill="#2f3dff" d="M331.6 1194h18.2v6.3h-18.2zM361.5 1194h6.3v6.3h-6.3zM331.6 1188h6.3v6.3h-6.3zM355.6 1188h6.3v6.3h-6.3zM170.1 1182.1h6.3v6.3h-6.3zM182 1182.1h18.2v6.3h-18.2zM307.7 1182.1h12.3v6.3h-12.3zM367.5 1182.1h6.3v6.3h-6.3zM164.1 1176.1h6.3v6.3h-6.3zM200 1176.1h6.3v6.3h-6.3zM373.5 1176.1h6.3v6.3h-6.3zM206 1170.2h6.3v6.3h-6.3zM313.7 1170.2h6.3v6.3h-6.3zM373.5 1170.2h18.2v6.3h-18.2zM152.1 1164.2h6.3v6.3h-6.3zM206 1164.2h6.3v6.3h-6.3zM325.6 1164.2h6.3v6.3h-6.3zM373.5 1164.2h12.3v6.3h-12.3zM325.6 1158.3h18.3v6.3h-18.3zM361.5 1158.3h6.3v6.3h-6.3zM373.5 1158.3h6.3v6.3h-6.3zM343.6 1152.3h12.3v6.3h-12.3zM361.5 1152.3h12.3v6.3h-12.3zM146.1 1146.3h6.3v6.3h-6.3zM146.1 1140.4h6.3v6.3h-6.3zM206 1134.4h6.3v6.3h-6.3zM152.1 1128.5h6.3v6.3h-6.3zM200 1122.5h6.3v6.3h-6.3zM158.1 1116.6h6.3v6.3h-6.3zM164.1 1110.6h6.3v6.3h-6.3zM182 1110.6h6.3v6.3h-6.3z"/>
<path fill="#323eff" d="M319.7 1194h6.3v6.3h-6.3zM349.6 1194h12.3v6.3h-12.3zM367.5 1194h6.3v6.3h-6.3zM176.1 1188h12.3v6.3h-12.3zM307.7 1188h18.2v6.3h-18.2zM361.5 1188h18.3v6.3h-18.3zM373.5 1182.1h12.3v6.3h-12.3zM158.1 1176.1h6.3v6.3h-6.3zM307.7 1176.1h12.3v6.3h-12.3zM385.5 1176.1h6.3v6.3h-6.3zM301.7 1170.2h12.3v6.3h-12.3zM313.7 1164.2h6.3v6.3h-6.3zM385.5 1164.2h12.3v6.3h-12.3zM146.1 1158.3h6.3v6.3h-6.3zM319.7 1158.3h6.3v6.3h-6.3zM146.1 1152.3h6.3v6.3h-6.3zM331.6 1152.3h12.3v6.3h-12.3zM355.6 1152.3h6.3v6.3h-6.3zM379.5 1152.3h6.3v6.3h-6.3zM211.9 1146.3h6.3v6.3h-6.3zM146.1 1128.5h6.3v6.3h-6.3zM206 1128.5h6.3v6.3h-6.3zM152.1 1122.5h6.3v6.3h-6.3zM194 1116.6h6.3v6.3h-6.3zM158.1 1110.6h6.3v6.3h-6.3zM188 1110.6h6.3v6.3h-6.3zM170.1 1104.6h6.3v6.3h-6.3z"/>
<path fill="#363eff" d="M331.6 1200h18.2v6.3h-18.2zM313.7 1194h6.3v6.3h-6.3zM325.6 1194h6.3v6.3h-6.3zM188 1188h6.3v6.3h-6.3zM379.5 1188h6.3v6.3h-6.3zM164.1 1182.1h6.3v6.3h-6.3zM200 1182.1h6.3v6.3h-6.3zM301.7 1182.1h6.3v6.3h-6.3zM385.5 1182.1h6.3v6.3h-6.3zM301.7 1176.1h6.3v6.3h-6.3zM391.5 1176.1h6.3v6.3h-6.3zM152.1 1170.2h6.3v6.3h-6.3zM391.5 1170.2h6.3v6.3h-6.3zM307.7 1164.2h6.3v6.3h-6.3zM211.9 1158.3h6.3v6.3h-6.3zM313.7 1158.3h6.3v6.3h-6.3zM385.5 1158.3h6.3v6.3h-6.3zM211.9 1152.3h6.3v6.3h-6.3zM325.6 1152.3h6.3v6.3h-6.3zM373.5 1152.3h6.3v6.3h-6.3zM343.6 1146.3h18.2v6.3h-18.2zM211.9 1140.4h6.3v6.3h-6.3zM146.1 1134.4h6.3v6.3h-6.3zM152.1 1116.6h6.3v6.3h-6.3zM164.1 1104.6h6.3v6.3h-6.3zM176.1 1104.6h6.3v6.3h-6.3z"/>
<path fill="#393fff" d="M325.6 1200h6.3v6.3h-6.3zM349.6 1200h6.3v6.3h-6.3zM170.1 1188h6.3v6.3h-6.3zM194 1188h6.3v6.3h-6.3zM301.7 1188h6.3v6.3h-6.3zM146.1 1164.2h6.3v6.3h-6.3zM391.5 1158.3h6.3v6.3h-6.3zM361.5 1146.3h12.3v6.3h-12.3z"/>
<path fill="#3c40ff" d="M355.6 1200h6.3v6.3h-6.3zM373.5 1194h6.3v6.3h-6.3zM319.7 1152.3h6.3v6.3h-6.3zM385.5 1152.3h6.3v6.3h-6.3zM337.6 1146.3h6.3v6.3h-6.3z"/>
<path fill="#4040ff" d="M307.7 1194h6.3v6.3h-6.3zM206 1176.1h6.3v6.3h-6.3zM373.5 1146.3h6.3v6.3h-6.3zM182 1104.6h6.3v6.3h-6.3z"/>
<path fill="#4440ff" d="M319.7 1200h6.3v6.3h-6.3zM385.5 1188h6.3v6.3h-6.3zM391.5 1182.1h6.3v6.3h-6.3zM397.4 1170.2h6.3v6.3h-6.3zM301.7 1164.2h6.3v6.3h-6.3zM397.4 1164.2h6.3v6.3h-6.3zM307.7 1158.3h6.3v6.3h-6.3zM200 1116.6h6.3v6.3h-6.3z"/>
<path fill="#4840ff" d="M295.7 1182.1h6.3v6.3h-6.3zM295.7 1176.1h6.3v6.3h-6.3zM397.4 1176.1h6.3v6.3h-6.3zM211.9 1134.4h6.3v6.3h-6.3z"/>
<path fill="#4c40ff" d="M361.5 1200h6.3v6.3h-6.3zM295.7 1170.2h6.3v6.3h-6.3zM211.9 1164.2h6.3v6.3h-6.3zM313.7 1152.3h6.3v6.3h-6.3zM331.6 1146.3h6.3v6.3h-6.3zM194 1110.6h6.3v6.3h-6.3z"/>
<path fill="#5040ff" d="M313.7 1200h6.3v6.3h-6.3zM301.7 1194h6.3v6.3h-6.3zM295.7 1188h6.3v6.3h-6.3zM391.5 1152.3h6.3v6.3h-6.3zM379.5 1146.3h6.3v6.3h-6.3z"/>
<path fill="#5d40ff" d="M182 1194h6.3v6.3h-6.3zM379.5 1194h6.3v6.3h-6.3zM158.1 1182.1h6.3v6.3h-6.3zM325.6 1146.3h6.3v6.3h-6.3zM355.6 1140.4h12.3v6.3h-12.3zM206 1122.5h6.3v6.3h-6.3z"/>
<path fill="#6b40ff" d="M367.5 1200h6.3v6.3h-6.3zM188 1194h6.3v6.3h-6.3zM397.4 1158.3h6.3v6.3h-6.3zM349.6 1140.4h6.3v6.3h-6.3zM367.5 1140.4h6.3v6.3h-6.3zM355.6 1134.4h6.3v6.3h-6.3z"/>
<path fill="#7840ff" d="M397.4 1182.1h6.3v6.3h-6.3zM289.7 1176.1h6.3v6.3h-6.3zM295.7 1164.2h6.3v6.3h-6.3zM343.6 1140.4h6.3v6.3h-6.3zM373.5 1140.4h6.3v6.3h-6.3zM349.6 1134.4h6.3v6.3h-6.3zM361.5 1134.4h18.3v6.3h-18.3z"/>
<path fill="#8c40ff" d="M337.6 1205.9h6.3v6.3h-6.3zM391.5 1188h6.3v6.3h-6.3zM289.7 1182.1h6.3v6.3h-6.3zM301.7 1158.3h6.3v6.3h-6.3zM385.5 1146.3h6.3v6.3h-6.3zM337.6 1140.4h6.3v6.3h-6.3zM355.6 1128.5h12.3v6.3h-12.3zM146.1 1122.5h6.3v6.3h-6.3z"/>
<path fill="#a040ff" d="M331.6 1205.9h6.3v6.3h-6.3zM307.7 1200h6.3v6.3h-6.3zM295.7 1194h6.3v6.3h-6.3zM152.1 1176.1h6.3v6.3h-6.3zM403.4 1170.2h6.3v6.3h-6.3zM403.4 1164.2h6.3v6.3h-6.3zM397.4 1152.3h6.3v6.3h-6.3zM140.1 1146.3h6.3v6.3h-6.3zM319.7 1146.3h6.3v6.3h-6.3zM140.1 1140.4h6.3v6.3h-6.3zM379.5 1140.4h6.3v6.3h-6.3zM367.5 1128.5h6.3v6.3h-6.3z"/>
<path fill="#b440ff" d="M343.6 1205.9h6.3v6.3h-6.3zM385.5 1194h6.3v6.3h-6.3zM403.4 1158.3h6.3v6.3h-6.3zM140.1 1152.3h6.3v6.3h-6.3zM343.6 1134.4h6.3v6.3h-6.3zM379.5 1134.4h6.3v6.3h-6.3zM343.6 1128.5h12.3v6.3h-12.3zM373.5 1128.5h12.3v6.3h-12.3z"/>
<path fill="#c840ff" d="M325.6 1205.9h6.3v6.3h-6.3zM349.6 1205.9h6.3v6.3h-6.3zM373.5 1200h6.3v6.3h-6.3zM403.4 1176.1h6.3v6.3h-6.3zM289.7 1170.2h6.3v6.3h-6.3zM307.7 1152.3h6.3v6.3h-6.3zM331.6 1140.4h6.3v6.3h-6.3zM385.5 1140.4h6.3v6.3h-6.3zM349.6 1122.5h6.3v6.3h-6.3zM361.5 1122.5h6.3v6.3h-6.3zM188 1104.6h6.3v6.3h-6.3z"/>
<path fill="#da40fc" d="M319.7 1205.9h6.3v6.3h-6.3zM164.1 1188h6.3v6.3h-6.3zM200 1188h6.3v6.3h-6.3zM211.9 1170.2h6.3v6.3h-6.3zM331.6 1134.4h12.3v6.3h-12.3zM385.5 1134.4h6.3v6.3h-6.3zM343.6 1122.5h6.3v6.3h-6.3zM355.6 1122.5h6.3v6.3h-6.3zM373.5 1122.5h6.3v6.3h-6.3z"/>
<path fill="#ed40f8" d="M355.6 1205.9h6.3v6.3h-6.3zM176.1 1194h6.3v6.3h-6.3zM289.7 1188h6.3v6.3h-6.3zM146.1 1170.2h6.3v6.3h-6.3zM140.1 1158.3h6.3v6.3h-6.3zM337.6 1128.5h6.3v6.3h-6.3zM367.5 1122.5h6.3v6.3h-6.3zM152.1 1110.6h6.3v6.3h-6.3zM158.1 1104.6h6.3v6.3h-6.3z"/>
<path fill="#ff40f5" d="M403.4 1182.1h6.3v6.3h-6.3zM403.4 1152.3h6.3v6.3h-6.3zM313.7 1146.3h6.3v6.3h-6.3zM391.5 1146.3h6.3v6.3h-6.3z"/>
<path fill="#ff43e8" d="M313.7 1205.9h6.3v6.3h-6.3zM379.5 1205.9h6.3v6.3h-6.3zM301.7 1200h6.3v6.3h-6.3zM397.4 1188h6.3v6.3h-6.3zM295.7 1158.3h6.3v6.3h-6.3z"/>
<path fill="#ff46db" d="M355.6 1211.9h6.3v6.3h-6.3zM361.5 1205.9h6.3v6.3h-6.3zM379.5 1200h6.3v6.3h-6.3zM206 1182.1h6.3v6.3h-6.3zM409.4 1176.1h6.3v6.3h-6.3zM283.8 1170.2h6.3v6.3h-6.3zM289.7 1164.2h6.3v6.3h-6.3zM325.6 1134.4h6.3v6.3h-6.3zM211.9 1128.5h6.3v6.3h-6.3zM319.7 1128.5h6.3v6.3h-6.3z"/>
<path fill="#ff4ace" d="M391.5 1194h6.3v6.3h-6.3zM271.8 1176.1h6.3v6.3h-6.3zM409.4 1170.2h6.3v6.3h-6.3zM397.4 1146.3h6.3v6.3h-6.3zM391.5 1134.4h6.3v6.3h-6.3zM325.6 1128.5h6.3v6.3h-6.3zM349.6 1116.6h18.2v6.3h-18.2zM170.1 1098.7h6.3v6.3h-6.3z"/>
<path fill="#ff4dc1" d="M331.6 1211.9h6.3v6.3h-6.3zM301.7 1205.9h12.3v6.3h-12.3zM194 1194h6.3v6.3h-6.3zM283.8 1188h6.3v6.3h-6.3zM301.7 1152.3h6.3v6.3h-6.3zM307.7 1146.3h6.3v6.3h-6.3zM319.7 1140.4h12.3v6.3h-12.3zM140.1 1134.4h6.3v6.3h-6.3zM325.6 1122.5h6.3v6.3h-6.3z"/>
<path fill="#ff50b4" d="M337.6 1211.9h6.3v6.3h-6.3zM367.5 1211.9h6.3v6.3h-6.3zM367.5 1205.9h6.3v6.3h-6.3zM295.7 1200h6.3v6.3h-6.3zM385.5 1200h6.3v6.3h-6.3zM271.8 1182.1h18.2v6.3h-18.2zM409.4 1164.2h6.3v6.3h-6.3zM217.9 1158.3h6.3v6.3h-6.3zM313.7 1140.4h6.3v6.3h-6.3zM331.6 1128.5h6.3v6.3h-6.3zM367.5 1116.6h6.3v6.3h-6.3zM176.1 1098.7h6.3v6.3h-6.3z"/>
<path fill="#ff53a8" d="M307.7 1211.9h6.3v6.3h-6.3zM325.6 1211.9h6.3v6.3h-6.3zM343.6 1211.9h12.3v6.3h-12.3zM373.5 1205.9h6.3v6.3h-6.3zM289.7 1194h6.3v6.3h-6.3zM409.4 1182.1h6.3v6.3h-6.3zM409.4 1158.3h6.3v6.3h-6.3zM235.9 1140.4h6.3v6.3h-6.3zM385.5 1128.5h6.3v6.3h-6.3zM379.5 1122.5h12.3v6.3h-12.3z"/>
<path fill="#ff569c" d="M361.5 1211.9h6.3v6.3h-6.3zM170.1 1194h6.3v6.3h-6.3zM403.4 1194h6.3v6.3h-6.3zM283.8 1176.1h6.3v6.3h-6.3zM265.8 1170.2h6.3v6.3h-6.3zM277.8 1170.2h6.3v6.3h-6.3zM283.8 1164.2h6.3v6.3h-6.3zM415.4 1164.2h6.3v6.3h-6.3zM271.8 1152.3h6.3v6.3h-6.3zM295.7 1152.3h6.3v6.3h-6.3zM409.4 1152.3h6.3v6.3h-6.3zM265.8 1146.3h6.3v6.3h-6.3zM295.7 1146.3h6.3v6.3h-6.3zM217.9 1140.4h6.3v6.3h-6.3zM307.7 1140.4h6.3v6.3h-6.3zM307.7 1134.4h6.3v6.3h-6.3zM319.7 1122.5h6.3v6.3h-6.3zM337.6 1122.5h6.3v6.3h-6.3zM325.6 1116.6h6.3v6.3h-6.3z"/>
<path fill="#ff5a90" d="M343.6 1217.8h6.3v6.3h-6.3zM373.5 1211.9h6.3v6.3h-6.3zM397.4 1200h6.3v6.3h-6.3zM403.4 1188h6.3v6.3h-6.3zM271.8 1164.2h6.3v6.3h-6.3zM283.8 1158.3h6.3v6.3h-6.3zM301.7 1146.3h6.3v6.3h-6.3zM301.7 1140.4h6.3v6.3h-6.3zM391.5 1140.4h6.3v6.3h-6.3zM313.7 1128.5h6.3v6.3h-6.3zM343.6 1116.6h6.3v6.3h-6.3zM379.5 1116.6h6.3v6.3h-6.3zM349.6 1110.6h6.3v6.3h-6.3z"/>
<path fill="#ff5d84" d="M355.6 1223.8h6.3v6.3h-6.3zM385.5 1205.9h6.3v6.3h-6.3zM397.4 1194h6.3v6.3h-6.3zM277.8 1188h6.3v6.3h-6.3zM277.8 1176.1h6.3v6.3h-6.3zM271.8 1170.2h6.3v6.3h-6.3zM421.4 1170.2h6.3v6.3h-6.3zM259.8 1164.2h6.3v6.3h-6.3zM265.8 1158.3h6.3v6.3h-6.3zM229.9 1152.3h6.3v6.3h-6.3zM313.7 1134.4h12.3v6.3h-12.3zM331.6 1122.5h6.3v6.3h-6.3zM331.6 1116.6h6.3v6.3h-6.3zM331.6 1110.6h6.3v6.3h-6.3zM367.5 1110.6h6.3v6.3h-6.3z"/>
<path fill="#ff6078" d="M361.5 1217.8h6.3v6.3h-6.3zM313.7 1211.9h12.3v6.3h-12.3zM283.8 1194h6.3v6.3h-6.3zM223.9 1176.1h6.3v6.3h-6.3zM265.8 1176.1h6.3v6.3h-6.3zM235.9 1158.3h6.3v6.3h-6.3zM289.7 1158.3h6.3v6.3h-6.3zM253.8 1152.3h6.3v6.3h-6.3zM277.8 1152.3h12.3v6.3h-12.3zM217.9 1146.3h6.3v6.3h-6.3zM253.8 1146.3h6.3v6.3h-6.3zM259.8 1140.4h6.3v6.3h-6.3zM217.9 1134.4h6.3v6.3h-6.3zM325.6 1110.6h6.3v6.3h-6.3z"/>
<path fill="#ff6a70" d="M343.6 1223.8h6.3v6.3h-6.3zM355.6 1217.8h6.3v6.3h-6.3zM391.5 1200h6.3v6.3h-6.3zM415.4 1176.1h6.3v6.3h-6.3zM259.8 1170.2h6.3v6.3h-6.3zM241.9 1164.2h6.3v6.3h-6.3zM277.8 1164.2h6.3v6.3h-6.3zM415.4 1158.3h6.3v6.3h-6.3zM247.9 1152.3h6.3v6.3h-6.3zM403.4 1146.3h6.3v6.3h-6.3zM397.4 1140.4h6.3v6.3h-6.3zM247.9 1128.5h6.3v6.3h-6.3zM397.4 1128.5h6.3v6.3h-6.3zM337.6 1116.6h6.3v6.3h-6.3zM200 1110.6h6.3v6.3h-6.3z"/>
<path fill="#ff7368" d="M331.6 1217.8h6.3v6.3h-6.3zM367.5 1217.8h6.3v6.3h-6.3zM283.8 1200h6.3v6.3h-6.3zM259.8 1176.1h6.3v6.3h-6.3zM229.9 1164.2h12.3v6.3h-12.3zM247.9 1164.2h6.3v6.3h-6.3zM229.9 1158.3h6.3v6.3h-6.3zM271.8 1158.3h12.3v6.3h-12.3zM421.4 1152.3h6.3v6.3h-6.3zM229.9 1146.3h12.3v6.3h-12.3zM241.9 1134.4h6.3v6.3h-6.3zM253.8 1134.4h6.3v6.3h-6.3zM301.7 1134.4h6.3v6.3h-6.3zM146.1 1116.6h6.3v6.3h-6.3zM313.7 1116.6h6.3v6.3h-6.3zM373.5 1116.6h6.3v6.3h-6.3zM337.6 1104.6h6.3v6.3h-6.3z"/>
<path fill="#ff7d60" d="M373.5 1217.8h6.3v6.3h-6.3zM391.5 1205.9h6.3v6.3h-6.3zM289.7 1200h6.3v6.3h-6.3zM235.9 1188h6.3v6.3h-6.3zM217.9 1182.1h6.3v6.3h-6.3zM259.8 1182.1h6.3v6.3h-6.3zM247.9 1176.1h12.3v6.3h-12.3zM223.9 1170.2h6.3v6.3h-6.3zM415.4 1170.2h6.3v6.3h-6.3zM217.9 1164.2h6.3v6.3h-6.3zM253.8 1164.2h6.3v6.3h-6.3zM265.8 1164.2h6.3v6.3h-6.3zM259.8 1158.3h6.3v6.3h-6.3zM265.8 1152.3h6.3v6.3h-6.3zM253.8 1140.4h6.3v6.3h-6.3zM140.1 1128.5h6.3v6.3h-6.3zM313.7 1122.5h6.3v6.3h-6.3zM361.5 1110.6h6.3v6.3h-6.3z"/>
<path fill="#ff8658" d="M337.6 1223.8h6.3v6.3h-6.3zM379.5 1211.9h6.3v6.3h-6.3zM295.7 1205.9h6.3v6.3h-6.3zM223.9 1188h6.3v6.3h-6.3zM223.9 1182.1h6.3v6.3h-6.3zM265.8 1182.1h6.3v6.3h-6.3zM415.4 1182.1h6.3v6.3h-6.3zM211.9 1176.1h6.3v6.3h-6.3zM247.9 1170.2h6.3v6.3h-6.3zM241.9 1158.3h6.3v6.3h-6.3zM253.8 1158.3h6.3v6.3h-6.3zM217.9 1152.3h6.3v6.3h-6.3zM289.7 1152.3h6.3v6.3h-6.3zM241.9 1146.3h12.3v6.3h-12.3zM271.8 1146.3h12.3v6.3h-12.3zM229.9 1140.4h6.3v6.3h-6.3zM403.4 1140.4h6.3v6.3h-6.3zM229.9 1134.4h6.3v6.3h-6.3zM397.4 1134.4h12.3v6.3h-12.3zM253.8 1128.5h6.3v6.3h-6.3zM265.8 1128.5h6.3v6.3h-6.3zM307.7 1128.5h6.3v6.3h-6.3zM391.5 1128.5h6.3v6.3h-6.3zM403.4 1128.5h6.3v6.3h-6.3zM301.7 1122.5h6.3v6.3h-6.3zM403.4 1122.5h6.3v6.3h-6.3zM206 1116.6h6.3v6.3h-6.3zM319.7 1110.6h6.3v6.3h-6.3zM337.6 1110.6h6.3v6.3h-6.3zM355.6 1110.6h6.3v6.3h-6.3zM343.6 1104.6h6.3v6.3h-6.3z"/>
<path fill="#ff9050" d="M349.6 1223.8h6.3v6.3h-6.3zM325.6 1217.8h6.3v6.3h-6.3zM349.6 1217.8h6.3v6.3h-6.3zM397.4 1205.9h6.3v6.3h-6.3zM271.8 1194h6.3v6.3h-6.3zM235.9 1152.3h6.3v6.3h-6.3zM247.9 1134.4h6.3v6.3h-6.3zM289.7 1134.4h6.3v6.3h-6.3zM235.9 1128.5h12.3v6.3h-12.3zM295.7 1128.5h6.3v6.3h-6.3zM373.5 1110.6h6.3v6.3h-6.3z"/>
<path fill="#fe9e4a" d="M277.8 1194h6.3v6.3h-6.3zM217.9 1188h6.3v6.3h-6.3zM241.9 1188h12.3v6.3h-12.3zM409.4 1188h6.3v6.3h-6.3zM235.9 1182.1h6.3v6.3h-6.3zM247.9 1182.1h6.3v6.3h-6.3zM229.9 1170.2h6.3v6.3h-6.3zM241.9 1170.2h6.3v6.3h-6.3zM140.1 1164.2h6.3v6.3h-6.3zM223.9 1152.3h6.3v6.3h-6.3zM415.4 1152.3h6.3v6.3h-6.3zM259.8 1146.3h6.3v6.3h-6.3zM283.8 1146.3h6.3v6.3h-6.3zM409.4 1146.3h6.3v6.3h-6.3zM223.9 1140.4h6.3v6.3h-6.3zM247.9 1140.4h6.3v6.3h-6.3zM289.7 1140.4h12.3v6.3h-12.3zM223.9 1134.4h6.3v6.3h-6.3zM397.4 1122.5h6.3v6.3h-6.3zM331.6 1104.6h6.3v6.3h-6.3zM164.1 1098.7h6.3v6.3h-6.3z"/>
<path fill="#feab44" d="M367.5 1223.8h6.3v6.3h-6.3zM295.7 1211.9h6.3v6.3h-6.3zM259.8 1194h6.3v6.3h-6.3zM241.9 1176.1h6.3v6.3h-6.3zM247.9 1158.3h6.3v6.3h-6.3zM134.2 1152.3h6.3v6.3h-6.3zM259.8 1152.3h6.3v6.3h-6.3zM289.7 1146.3h6.3v6.3h-6.3zM241.9 1140.4h6.3v6.3h-6.3zM271.8 1140.4h6.3v6.3h-6.3zM265.8 1134.4h12.3v6.3h-12.3zM379.5 1110.6h6.3v6.3h-6.3z"/>
<path fill="#fdb93e" d="M331.6 1223.8h6.3v6.3h-6.3zM319.7 1217.8h6.3v6.3h-6.3zM385.5 1217.8h6.3v6.3h-6.3zM289.7 1211.9h6.3v6.3h-6.3zM385.5 1211.9h6.3v6.3h-6.3zM241.9 1194h12.3v6.3h-12.3zM409.4 1194h6.3v6.3h-6.3zM206 1188h6.3v6.3h-6.3zM415.4 1188h6.3v6.3h-6.3zM229.9 1182.1h6.3v6.3h-6.3zM217.9 1176.1h6.3v6.3h-6.3zM235.9 1170.2h6.3v6.3h-6.3zM253.8 1170.2h6.3v6.3h-6.3zM241.9 1152.3h6.3v6.3h-6.3zM409.4 1140.4h6.3v6.3h-6.3zM235.9 1134.4h6.3v6.3h-6.3zM223.9 1128.5h6.3v6.3h-6.3zM247.9 1122.5h6.3v6.3h-6.3zM259.8 1122.5h6.3v6.3h-6.3zM319.7 1116.6h6.3v6.3h-6.3zM385.5 1116.6h6.3v6.3h-6.3zM385.5 1110.6h6.3v6.3h-6.3zM182 1098.7h6.3v6.3h-6.3z"/>
<path fill="#fdc638" d="M379.5 1217.8h6.3v6.3h-6.3zM229.9 1188h6.3v6.3h-6.3zM265.8 1188h6.3v6.3h-6.3zM235.9 1176.1h6.3v6.3h-6.3zM217.9 1170.2h6.3v6.3h-6.3zM223.9 1158.3h6.3v6.3h-6.3zM223.9 1146.3h6.3v6.3h-6.3zM259.8 1134.4h6.3v6.3h-6.3zM295.7 1134.4h6.3v6.3h-6.3zM152.1 1104.6h6.3v6.3h-6.3zM373.5 1104.6h6.3v6.3h-6.3z"/>
<path fill="#fcd432" d="M241.9 1182.1h6.3v6.3h-6.3zM301.7 1128.5h6.3v6.3h-6.3zM241.9 1122.5h6.3v6.3h-6.3zM343.6 1110.6h6.3v6.3h-6.3zM397.4 1110.6h6.3v6.3h-6.3z"/>
<path fill="#f8e232" d="M361.5 1223.8h6.3v6.3h-6.3zM397.4 1211.9h6.3v6.3h-6.3zM235.9 1194h6.3v6.3h-6.3zM421.4 1182.1h6.3v6.3h-6.3zM427.4 1170.2h6.3v6.3h-6.3zM265.8 1140.4h6.3v6.3h-6.3zM277.8 1140.4h6.3v6.3h-6.3zM409.4 1134.4h6.3v6.3h-6.3zM259.8 1128.5h6.3v6.3h-6.3zM307.7 1122.5h6.3v6.3h-6.3zM325.6 1104.6h6.3v6.3h-6.3zM361.5 1104.6h6.3v6.3h-6.3zM337.6 1098.7h6.3v6.3h-6.3z"/>
<path fill="#f5f032" d="M313.7 1217.8h6.3v6.3h-6.3zM403.4 1217.8h6.3v6.3h-6.3zM289.7 1205.9h6.3v6.3h-6.3zM409.4 1200h6.3v6.3h-6.3zM253.8 1194h6.3v6.3h-6.3zM223.9 1164.2h6.3v6.3h-6.3zM421.4 1158.3h6.3v6.3h-6.3zM415.4 1146.3h6.3v6.3h-6.3zM229.9 1128.5h6.3v6.3h-6.3zM289.7 1122.5h6.3v6.3h-6.3zM391.5 1122.5h6.3v6.3h-6.3zM391.5 1116.6h6.3v6.3h-6.3z"/>
<path fill="#f0f631" d="M337.6 1229.7h6.3v6.3h-6.3zM367.5 1229.7h6.3v6.3h-6.3zM391.5 1211.9h6.3v6.3h-6.3zM403.4 1200h6.3v6.3h-6.3zM271.8 1188h6.3v6.3h-6.3zM152.1 1182.1h6.3v6.3h-6.3zM211.9 1182.1h6.3v6.3h-6.3zM229.9 1176.1h6.3v6.3h-6.3zM421.4 1164.2h6.3v6.3h-6.3zM277.8 1134.4h12.3v6.3h-12.3zM271.8 1128.5h6.3v6.3h-6.3zM211.9 1122.5h6.3v6.3h-6.3zM235.9 1122.5h6.3v6.3h-6.3zM313.7 1104.6h6.3v6.3h-6.3zM349.6 1104.6h6.3v6.3h-6.3zM379.5 1104.6h6.3v6.3h-6.3zM158.1 1098.7h6.3v6.3h-6.3zM331.6 1098.7h6.3v6.3h-6.3zM349.6 1098.7h6.3v6.3h-6.3zM361.5 1098.7h6.3v6.3h-6.3z"/>
<path fill="#ebfc30" d="M373.5 1223.8h6.3v6.3h-6.3zM301.7 1211.9h6.3v6.3h-6.3zM182 1200h12.3v6.3h-12.3zM253.8 1188h6.3v6.3h-6.3zM253.8 1182.1h6.3v6.3h-6.3zM217.9 1128.5h6.3v6.3h-6.3zM194 1104.6h6.3v6.3h-6.3zM319.7 1104.6h6.3v6.3h-6.3zM367.5 1104.6h6.3v6.3h-6.3z"/>
<path fill="#e9ff34" d="M349.6 1229.7h6.3v6.3h-6.3zM325.6 1223.8h6.3v6.3h-6.3zM391.5 1223.8h6.3v6.3h-6.3zM307.7 1217.8h6.3v6.3h-6.3zM397.4 1217.8h6.3v6.3h-6.3zM289.7 1128.5h6.3v6.3h-6.3zM223.9 1122.5h6.3v6.3h-6.3zM307.7 1116.6h6.3v6.3h-6.3zM301.7 1110.6h6.3v6.3h-6.3zM355.6 1104.6h6.3v6.3h-6.3zM391.5 1104.6h6.3v6.3h-6.3z"/>
<path fill="#ebff3b" d="M319.7 1229.7h6.3v6.3h-6.3zM200 1194h6.3v6.3h-6.3zM229.9 1194h6.3v6.3h-6.3zM146.1 1176.1h6.3v6.3h-6.3zM421.4 1176.1h6.3v6.3h-6.3zM283.8 1140.4h6.3v6.3h-6.3zM409.4 1128.5h6.3v6.3h-6.3zM301.7 1116.6h6.3v6.3h-6.3zM397.4 1116.6h6.3v6.3h-6.3z"/>
<path fill="#edff42" d="M313.7 1235.7h6.3v6.3h-6.3zM337.6 1235.7h6.3v6.3h-6.3zM349.6 1235.7h12.3v6.3h-12.3zM325.6 1229.7h6.3v6.3h-6.3zM343.6 1229.7h6.3v6.3h-6.3zM355.6 1229.7h12.3v6.3h-12.3zM379.5 1229.7h6.3v6.3h-6.3zM319.7 1223.8h6.3v6.3h-6.3zM379.5 1223.8h12.3v6.3h-12.3zM283.8 1217.8h6.3v6.3h-6.3zM391.5 1217.8h6.3v6.3h-6.3zM283.8 1211.9h6.3v6.3h-6.3zM409.4 1211.9h6.3v6.3h-6.3zM277.8 1205.9h12.3v6.3h-12.3zM409.4 1205.9h6.3v6.3h-6.3zM427.4 1205.9h6.3v6.3h-6.3zM194 1200h6.3v6.3h-6.3zM277.8 1200h6.3v6.3h-6.3zM164.1 1194h6.3v6.3h-6.3zM217.9 1194h6.3v6.3h-6.3zM415.4 1194h6.3v6.3h-6.3zM158.1 1188h6.3v6.3h-6.3zM140.1 1170.2h6.3v6.3h-6.3zM421.4 1146.3h6.3v6.3h-6.3zM415.4 1140.4h12.3v6.3h-12.3zM415.4 1134.4h12.3v6.3h-12.3zM277.8 1128.5h6.3v6.3h-6.3zM140.1 1122.5h6.3v6.3h-6.3zM217.9 1122.5h6.3v6.3h-6.3zM277.8 1122.5h6.3v6.3h-6.3zM295.7 1122.5h6.3v6.3h-6.3zM409.4 1122.5h6.3v6.3h-6.3zM146.1 1110.6h6.3v6.3h-6.3zM295.7 1110.6h6.3v6.3h-6.3zM307.7 1110.6h6.3v6.3h-6.3zM391.5 1110.6h6.3v6.3h-6.3zM301.7 1104.6h12.3v6.3h-12.3zM385.5 1104.6h6.3v6.3h-6.3zM188 1098.7h6.3v6.3h-6.3zM343.6 1098.7h6.3v6.3h-6.3zM355.6 1098.7h6.3v6.3h-6.3zM373.5 1098.7h6.3v6.3h-6.3zM319.7 1092.7h6.3v6.3h-6.3zM337.6 1092.7h6.3v6.3h-6.3zM349.6 1092.7h12.3v6.3h-12.3zM373.5 1092.7h6.3v6.3h-6.3z"/>
</g>
<rect x="86.3" y="973.6" width="359" height="357.4" fill="none" stroke="#000" stroke-width="3.3"/>
<path d="M99.67 1331v-6.65M99.67 973.6v6.65M111.63 1331v-6.65M111.63 973.6v6.65M123.6 1331v-6.65M123.6 973.6v6.65M135.57 1331v-6.65M135.57 973.6v6.65M147.53 1331v-11.65M147.53 973.6v11.65M159.5 1331v-6.65M159.5 973.6v6.65M171.47 1331v-6.65M171.47 973.6v6.65M183.43 1331v-6.65M183.43 973.6v6.65M195.4 1331v-6.65M195.4 973.6v6.65M207.37 1331v-11.65M207.37 973.6v11.65M219.33 1331v-6.65M219.33 973.6v6.65M231.3 1331v-6.65M231.3 973.6v6.65M243.27 1331v-6.65M243.27 973.6v6.65M255.23 1331v-6.65M255.23 973.6v6.65M267.2 1331v-11.65M267.2 973.6v11.65M279.17 1331v-6.65M279.17 973.6v6.65M291.13 1331v-6.65M291.13 973.6v6.65M303.1 1331v-6.65M303.1 973.6v6.65M315.07 1331v-6.65M315.07 973.6v6.65M327.03 1331v-11.65M327.03 973.6v11.65M339 1331v-6.65M339 973.6v6.65M350.97 1331v-6.65M350.97 973.6v6.65M362.93 1331v-6.65M362.93 973.6v6.65M374.9 1331v-6.65M374.9 973.6v6.65M386.87 1331v-11.65M386.87 973.6v11.65M398.83 1331v-6.65M398.83 973.6v6.65M410.8 1331v-6.65M410.8 973.6v6.65M422.77 1331v-6.65M422.77 973.6v6.65M434.73 1331v-6.65M434.73 973.6v6.65M86.3 1319.09h6.65M445.3 1319.09h-6.65M86.3 1307.17h6.65M445.3 1307.17h-6.65M86.3 1295.26h6.65M445.3 1295.26h-6.65M86.3 1283.35h6.65M445.3 1283.35h-6.65M86.3 1271.43h11.65M445.3 1271.43h-11.65M86.3 1259.52h6.65M445.3 1259.52h-6.65M86.3 1247.61h6.65M445.3 1247.61h-6.65M86.3 1235.69h6.65M445.3 1235.69h-6.65M86.3 1223.78h6.65M445.3 1223.78h-6.65M86.3 1211.87h11.65M445.3 1211.87h-11.65M86.3 1199.95h6.65M445.3 1199.95h-6.65M86.3 1188.04h6.65M445.3 1188.04h-6.65M86.3 1176.13h6.65M445.3 1176.13h-6.65M86.3 1164.21h6.65M445.3 1164.21h-6.65M86.3 1152.3h11.65M445.3 1152.3h-11.65M86.3 1140.39h6.65M445.3 1140.39h-6.65M86.3 1128.47h6.65M445.3 1128.47h-6.65M86.3 1116.56h6.65M445.3 1116.56h-6.65M86.3 1104.65h6.65M445.3 1104.65h-6.65M86.3 1092.73h11.65M445.3 1092.73h-11.65M86.3 1080.82h6.65M445.3 1080.82h-6.65M86.3 1068.91h6.65M445.3 1068.91h-6.65M86.3 1056.99h6.65M445.3 1056.99h-6.65M86.3 1045.08h6.65M445.3 1045.08h-6.65M86.3 1033.17h11.65M445.3 1033.17h-11.65M86.3 1021.25h6.65M445.3 1021.25h-6.65M86.3 1009.34h6.65M445.3 1009.34h-6.65M86.3 997.43h6.65M445.3 997.43h-6.65M86.3 985.51h6.65M445.3 985.51h-6.65" stroke="#000" stroke-width="2.8" fill="none"/>
<text x="84" y="1363.5" font-size="26" text-anchor="middle">-3</text>
<text x="77" y="1340.31" font-size="26" text-anchor="end">-3</text>
<text x="143.83" y="1363.5" font-size="26" text-anchor="middle">-2</text>
<text x="77" y="1280.74" font-size="26" text-anchor="end">-2</text>
<text x="203.67" y="1363.5" font-size="26" text-anchor="middle">-1</text>
<text x="77" y="1221.17" font-size="26" text-anchor="end">-1</text>
<text x="267" y="1363.5" font-size="26" text-anchor="middle">0</text>
<text x="77" y="1161.61" font-size="26" text-anchor="end">0</text>
<text x="326.83" y="1363.5" font-size="26" text-anchor="middle">1</text>
<text x="77" y="1102.04" font-size="26" text-anchor="end">1</text>
<text x="386.67" y="1363.5" font-size="26" text-anchor="middle">2</text>
<text x="77" y="1042.47" font-size="26" text-anchor="end">2</text>
<text x="446.5" y="1363.5" font-size="26" text-anchor="middle">3</text>
<text x="77" y="982.91" font-size="26" text-anchor="end">3</text>
<text x="272.5" y="1401" font-size="31" text-anchor="middle" letter-spacing="0.8">PC1 [<tspan dx="3">Å</tspan><tspan dx="3">]</tspan></text>
<text transform="translate(30.3 1154) rotate(-90)" font-size="31" text-anchor="middle" letter-spacing="0.8">PC2 [<tspan dx="3">Å</tspan><tspan dx="3">]</tspan></text>
<rect x="454.6" y="974.3" width="23.6" height="230.7" fill="url(#cbg)" stroke="#000" stroke-width="3.0"/>
<path d="M454.6 1166.55H478.2M454.6 1128.1H478.2M454.6 1089.65H478.2M454.6 1051.2H478.2M454.6 1012.75H478.2" stroke="#000" stroke-width="2.5" fill="none"/>
<text x="489" y="1213.82" font-size="28" text-anchor="start">0</text>
<text x="489" y="1136.92" font-size="28" text-anchor="start">1</text>
<text x="489" y="1060.02" font-size="28" text-anchor="start">2</text>
<text x="489" y="983.12" font-size="28" text-anchor="start">3</text>
<text x="452" y="1239.5" font-size="28.5">[k<tspan font-size="14.5" dx="0.5">B</tspan><tspan dx="1">T]</tspan></text>
<text x="106.5" y="1024" font-size="34.5" text-anchor="start">(c)</text>
<text x="147.5" y="1070" font-size="30.6" text-anchor="start">Transition</text>
<text x="334" y="1049" font-size="30.6" text-anchor="start">Open</text>
<text x="142.5" y="1291.6" font-size="30.6" text-anchor="start">Closed</text>
<path d="M220 1078L249.63 1146.32" stroke="#000" stroke-width="3" fill="none"/>
<path d="M256 1161L237.09 1146.31L249.63 1146.32L258.19 1137.16Z" fill="#000"/>
<path d="M369 1064L359.02 1126.7" stroke="#000" stroke-width="3" fill="none"/>
<path d="M356.5 1142.5L348.45 1119.95L359.02 1126.7L371.16 1123.57Z" fill="#000"/>
<path d="M192 1261L190.84 1207" stroke="#000" stroke-width="3" fill="none"/>
<path d="M190.5 1191L202.45 1211.75L190.84 1207L179.45 1212.24Z" fill="#000"/>
</g>
</svg>
</body></html>
